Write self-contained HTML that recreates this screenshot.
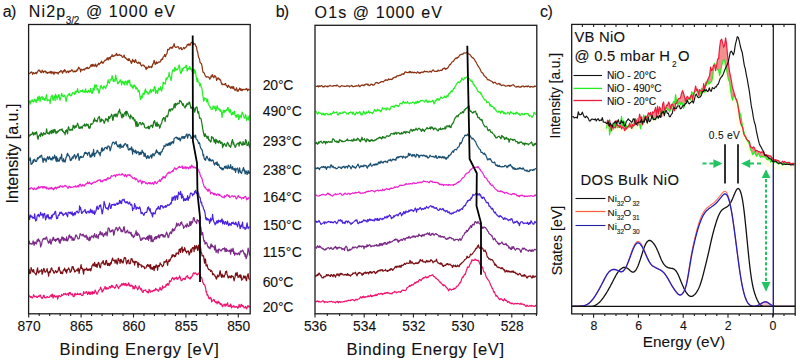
<!DOCTYPE html><html><head><meta charset="utf-8"><style>html,body{margin:0;padding:0;background:#fff;width:800px;height:361px;overflow:hidden}svg{display:block}text{font-family:"Liberation Sans",sans-serif;fill:#111;stroke:#111;stroke-width:0.1px}</style></head><body>
<svg width="800" height="361" viewBox="0 0 800 361">
<path d="M29.1,73.3 29.6,73.6 30.1,73.2 30.6,72.3 31.1,72.3 31.6,71.8 32.1,72.6 32.6,74.3 33.1,73.3 33.6,72.6 34.1,73.4 34.6,73.7 35.1,73.5 35.6,72.4 36.1,72.7 36.6,73.7 37.1,72.0 37.6,72.1 38.1,70.6 38.6,70.5 39.1,69.9 39.6,71.2 40.1,70.8 40.6,72.2 41.1,72.7 41.6,72.7 42.1,70.2 42.6,71.0 43.1,71.9 43.6,72.5 44.1,71.1 44.6,71.5 45.1,71.1 45.6,71.1 46.1,73.0 46.6,72.1 47.1,72.4 47.6,73.4 48.1,72.4 48.6,72.4 49.1,72.6 49.6,72.7 50.1,71.4 50.6,72.0 51.1,73.7 51.6,71.5 52.1,72.9 52.6,72.8 53.1,71.9 53.6,74.2 54.1,74.1 54.6,72.0 55.1,72.2 55.6,72.8 56.1,72.3 56.6,73.0 57.1,72.5 57.6,73.0 58.1,74.1 58.6,72.4 59.1,72.4 59.6,71.7 60.1,72.0 60.6,70.7 61.1,70.7 61.6,71.1 62.1,72.4 62.6,73.3 63.1,71.2 63.6,70.6 64.1,71.8 64.6,69.7 65.1,70.2 65.6,70.8 66.1,72.4 66.6,72.7 67.1,71.7 67.6,71.2 68.1,71.0 68.6,72.7 69.1,71.5 69.6,71.0 70.1,71.5 70.6,71.1 71.1,70.9 71.6,69.8 72.1,70.3 72.6,70.1 73.1,71.7 73.6,71.9 74.1,71.3 74.6,71.6 75.1,70.8 75.6,71.7 76.1,71.1 76.6,71.3 77.1,69.5 77.6,70.2 78.1,68.5 78.6,67.2 79.1,68.3 79.6,68.2 80.1,69.2 80.6,71.8 81.1,69.9 81.6,69.2 82.1,69.6 82.6,70.1 83.1,69.6 83.6,69.2 84.1,69.9 84.6,70.0 85.1,68.4 85.6,68.6 86.1,68.7 86.6,67.5 87.1,68.2 87.6,67.3 88.1,68.7 88.6,68.5 89.1,68.2 89.6,67.3 90.1,67.2 90.6,65.2 91.1,64.9 91.6,66.3 92.1,64.3 92.6,66.2 93.1,64.4 93.6,66.0 94.1,65.1 94.6,66.2 95.1,66.0 95.6,64.0 96.1,65.8 96.6,66.8 97.1,65.7 97.6,64.8 98.1,64.4 98.6,63.2 99.1,64.7 99.6,63.6 100.1,63.5 100.6,62.6 101.1,62.1 101.6,61.1 102.1,63.1 102.6,62.5 103.1,63.2 103.6,62.5 104.1,61.2 104.6,60.8 105.1,60.2 105.6,60.3 106.1,59.8 106.6,59.5 107.1,58.1 107.6,57.8 108.1,60.1 108.6,58.6 109.1,57.4 109.6,58.0 110.1,59.3 110.6,56.9 111.1,56.8 111.6,56.2 112.1,54.6 112.6,56.3 113.1,56.3 113.6,56.2 114.1,55.3 114.6,56.0 115.1,55.2 115.6,55.2 116.1,54.1 116.6,53.4 117.1,55.7 117.6,54.9 118.1,55.3 118.6,55.2 119.1,54.8 119.6,54.5 120.1,55.6 120.6,55.3 121.1,55.3 121.6,55.6 122.1,57.0 122.6,57.3 123.1,57.2 123.6,56.3 124.1,55.1 124.6,57.0 125.1,58.1 125.6,57.7 126.1,58.3 126.6,59.0 127.1,59.5 127.6,60.0 128.1,58.9 128.6,60.6 129.1,58.7 129.6,60.1 130.1,60.5 130.6,61.3 131.1,62.8 131.6,63.3 132.1,61.0 132.6,59.4 133.1,61.3 133.6,60.5 134.1,61.2 134.6,62.5 135.1,60.8 135.6,59.5 136.1,61.5 136.6,62.4 137.1,62.7 137.6,63.3 138.1,62.8 138.6,62.1 139.1,63.2 139.6,63.1 140.1,62.5 140.6,64.6 141.1,65.2 141.6,66.1 142.1,65.2 142.6,65.2 143.1,65.0 143.6,65.1 144.1,66.3 144.6,66.0 145.1,67.1 145.6,67.7 146.1,69.7 146.6,67.2 147.1,68.4 147.6,67.9 148.1,67.7 148.6,66.0 149.1,66.2 149.6,67.4 150.1,67.1 150.6,67.0 151.1,66.5 151.6,67.6 152.1,66.8 152.6,64.0 153.1,64.0 153.6,62.5 154.1,60.3 154.6,61.9 155.1,64.4 155.6,64.2 156.1,62.6 156.6,61.9 157.1,63.5 157.6,63.1 158.1,62.6 158.6,62.1 159.1,61.8 159.6,62.2 160.1,62.0 160.6,61.4 161.1,59.5 161.6,59.9 162.1,58.6 162.6,59.4 163.1,57.1 163.6,56.8 164.1,56.4 164.6,54.5 165.1,56.3 165.6,56.6 166.1,54.4 166.6,54.2 167.1,53.3 167.6,49.4 168.1,50.1 168.6,49.8 169.1,49.5 169.6,47.9 170.1,47.6 170.6,47.3 171.1,48.4 171.6,47.8 172.1,47.0 172.6,48.1 173.1,46.3 173.6,45.6 174.1,43.7 174.6,46.3 175.1,47.0 175.6,47.4 176.1,47.5 176.6,47.0 177.1,47.0 177.6,46.6 178.1,46.6 178.6,47.0 179.1,48.8 179.6,48.9 180.1,48.4 180.6,47.7 181.1,47.4 181.6,49.6 182.1,49.6 182.6,49.2 183.1,48.6 183.6,47.4 184.1,47.8 184.6,48.8 185.1,47.8 185.6,47.3 186.1,46.9 186.6,46.8 187.1,44.7 187.6,44.9 188.1,44.1 188.6,45.2 189.1,43.9 189.6,44.4 190.1,45.4 190.6,43.9 191.1,42.6 191.6,42.7 192.1,42.5 192.6,41.3 193.1,42.3 193.6,44.5 194.1,43.7 194.6,43.9 195.1,43.8 195.6,45.9 196.1,46.2 196.6,47.3 197.1,51.1 197.6,51.6 198.1,54.7 198.6,57.4 199.1,58.1 199.6,59.5 200.1,62.6 200.6,62.8 201.1,63.5 201.6,64.0 202.1,66.6 202.6,70.3 203.1,72.4 203.6,72.3 204.1,72.9 204.6,74.0 205.1,75.7 205.6,76.2 206.1,76.9 206.6,77.2 207.1,76.8 207.6,76.8 208.1,77.1 208.6,77.0 209.1,77.5 209.6,79.2 210.1,78.8 210.6,78.0 211.1,75.8 211.6,76.9 212.1,75.0 212.6,74.6 213.1,76.8 213.6,77.7 214.1,77.4 214.6,75.6 215.1,76.1 215.6,76.2 216.1,77.7 216.6,80.3 217.1,79.6 217.6,78.5 218.1,77.7 218.6,78.7 219.1,79.3 219.6,78.9 220.1,80.2 220.6,79.9 221.1,82.3 221.6,83.7 222.1,84.7 222.6,83.8 223.1,84.6 223.6,84.5 224.1,84.4 224.6,84.6 225.1,83.8 225.6,83.4 226.1,85.6 226.6,85.7 227.1,86.3 227.6,87.5 228.1,85.3 228.6,85.3 229.1,86.4 229.6,87.2 230.1,86.9 230.6,88.3 231.1,88.2 231.6,86.8 232.1,86.4 232.6,88.1 233.1,88.7 233.6,86.6 234.1,88.9 234.6,89.4 235.1,90.5 235.6,89.3 236.1,88.8 236.6,87.8 237.1,91.1 237.6,90.1 238.1,91.4 238.6,89.8 239.1,89.9 239.6,88.1 240.1,88.6 240.6,90.2 241.1,88.8 241.6,90.5 242.1,90.7 242.6,89.4 243.1,89.3 243.6,89.3 244.1,89.8 244.6,89.5 245.1,89.1 245.6,89.5 246.1,89.0 246.6,88.4 247.1,89.4 247.6,90.9 248.1,89.2 248.6,89.9 249.1,89.6 249.6,89.1" fill="none" stroke="#8a3212" stroke-width="1.2" stroke-linejoin="round"/>
<path d="M29.1,102.9 29.6,101.0 30.1,104.1 30.6,101.1 31.1,101.9 31.6,101.1 32.1,99.6 32.6,101.5 33.1,101.0 33.6,102.2 34.1,101.5 34.6,99.1 35.1,99.8 35.6,100.5 36.1,102.6 36.6,99.9 37.1,100.3 37.6,97.2 38.1,100.3 38.6,98.4 39.1,96.0 39.6,98.2 40.1,101.6 40.6,98.1 41.1,97.1 41.6,97.3 42.1,96.6 42.6,99.3 43.1,98.2 43.6,97.8 44.1,100.2 44.6,98.7 45.1,100.3 45.6,98.3 46.1,96.7 46.6,94.7 47.1,101.0 47.6,99.8 48.1,100.3 48.6,100.0 49.1,100.1 49.6,100.0 50.1,103.6 50.6,99.5 51.1,96.4 51.6,95.9 52.1,95.0 52.6,98.6 53.1,100.5 53.6,98.0 54.1,95.8 54.6,96.7 55.1,100.6 55.6,94.2 56.1,97.5 56.6,96.0 57.1,99.4 57.6,96.8 58.1,97.1 58.6,94.8 59.1,94.6 59.6,99.1 60.1,100.2 60.6,98.3 61.1,96.4 61.6,93.3 62.1,94.7 62.6,96.1 63.1,96.6 63.6,96.8 64.1,94.8 64.6,95.8 65.1,96.3 65.6,99.1 66.1,101.6 66.6,98.8 67.1,96.1 67.6,96.1 68.1,95.0 68.6,94.1 69.1,94.9 69.6,93.3 70.1,95.7 70.6,95.4 71.1,95.9 71.6,95.2 72.1,93.8 72.6,92.5 73.1,93.2 73.6,92.9 74.1,94.2 74.6,94.4 75.1,91.7 75.6,93.1 76.1,90.9 76.6,91.2 77.1,92.0 77.6,88.7 78.1,91.3 78.6,92.7 79.1,92.7 79.6,92.1 80.1,91.8 80.6,90.5 81.1,91.1 81.6,90.8 82.1,91.9 82.6,89.8 83.1,91.5 83.6,92.2 84.1,91.9 84.6,91.1 85.1,92.6 85.6,88.9 86.1,91.2 86.6,91.8 87.1,92.2 87.6,92.5 88.1,90.6 88.6,90.3 89.1,91.9 89.6,92.2 90.1,91.9 90.6,88.3 91.1,90.5 91.6,92.8 92.1,93.5 92.6,92.3 93.1,88.1 93.6,90.9 94.1,90.0 94.6,84.8 95.1,87.9 95.6,85.7 96.1,84.9 96.6,85.8 97.1,89.9 97.6,88.6 98.1,89.2 98.6,92.3 99.1,93.5 99.6,90.6 100.1,88.9 100.6,85.9 101.1,85.4 101.6,87.2 102.1,88.0 102.6,87.6 103.1,89.1 103.6,86.2 104.1,86.0 104.6,87.3 105.1,87.5 105.6,88.4 106.1,87.4 106.6,85.3 107.1,85.4 107.6,82.7 108.1,79.8 108.6,82.7 109.1,82.7 109.6,83.2 110.1,79.4 110.6,80.0 111.1,79.7 111.6,78.8 112.1,75.6 112.6,77.6 113.1,80.9 113.6,81.5 114.1,79.7 114.6,79.9 115.1,81.4 115.6,75.2 116.1,77.2 116.6,79.5 117.1,80.9 117.6,83.6 118.1,83.8 118.6,82.3 119.1,81.6 119.6,82.2 120.1,79.9 120.6,79.8 121.1,81.7 121.6,84.8 122.1,82.3 122.6,81.3 123.1,81.4 123.6,83.8 124.1,82.4 124.6,84.8 125.1,81.3 125.6,81.2 126.1,81.3 126.6,83.4 127.1,85.1 127.6,81.0 128.1,80.3 128.6,82.6 129.1,81.9 129.6,80.0 130.1,84.3 130.6,85.5 131.1,86.3 131.6,84.9 132.1,87.4 132.6,86.2 133.1,88.5 133.6,85.8 134.1,84.7 134.6,86.4 135.1,85.7 135.6,88.3 136.1,89.1 136.6,87.4 137.1,88.8 137.6,88.9 138.1,91.8 138.6,90.5 139.1,90.4 139.6,93.9 140.1,97.9 140.6,99.6 141.1,96.8 141.6,95.8 142.1,98.0 142.6,95.8 143.1,93.0 143.6,93.7 144.1,94.7 144.6,92.6 145.1,89.9 145.6,89.0 146.1,92.6 146.6,91.5 147.1,92.1 147.6,93.0 148.1,94.2 148.6,92.8 149.1,93.7 149.6,91.2 150.1,91.0 150.6,89.4 151.1,92.8 151.6,92.0 152.1,90.1 152.6,89.8 153.1,89.8 153.6,91.4 154.1,87.6 154.6,86.6 155.1,87.3 155.6,93.3 156.1,93.0 156.6,90.6 157.1,90.8 157.6,93.5 158.1,90.1 158.6,88.0 159.1,90.0 159.6,89.4 160.1,89.3 160.6,86.7 161.1,90.0 161.6,91.1 162.1,89.1 162.6,88.1 163.1,82.0 163.6,84.0 164.1,83.0 164.6,83.5 165.1,84.0 165.6,81.9 166.1,77.9 166.6,79.7 167.1,78.1 167.6,77.8 168.1,76.8 168.6,76.6 169.1,72.3 169.6,76.8 170.1,76.9 170.6,78.4 171.1,80.6 171.6,77.5 172.1,72.2 172.6,71.1 173.1,69.7 173.6,70.2 174.1,71.4 174.6,67.7 175.1,70.3 175.6,67.8 176.1,69.9 176.6,70.0 177.1,69.4 177.6,69.4 178.1,68.3 178.6,67.5 179.1,64.8 179.6,66.5 180.1,71.0 180.6,73.4 181.1,73.2 181.6,71.8 182.1,68.4 182.6,70.8 183.1,69.1 183.6,68.2 184.1,67.3 184.6,67.7 185.1,66.8 185.6,67.1 186.1,65.2 186.6,65.7 187.1,71.2 187.6,69.4 188.1,68.1 188.6,69.0 189.1,69.8 189.6,66.7 190.1,66.9 190.6,69.3 191.1,69.2 191.6,68.9 192.1,71.7 192.6,69.0 193.1,69.6 193.6,69.2 194.1,73.6 194.6,69.6 195.1,70.8 195.6,72.4 196.1,76.2 196.6,78.7 197.1,82.0 197.6,78.4 198.1,81.8 198.6,82.2 199.1,82.5 199.6,85.8 200.1,85.4 200.6,83.7 201.1,87.1 201.6,87.3 202.1,89.9 202.6,94.0 203.1,96.6 203.6,101.1 204.1,100.4 204.6,97.9 205.1,98.5 205.6,98.9 206.1,98.6 206.6,101.9 207.1,101.7 207.6,99.1 208.1,103.3 208.6,104.0 209.1,105.5 209.6,105.9 210.1,107.3 210.6,107.0 211.1,109.4 211.6,109.2 212.1,109.1 212.6,109.3 213.1,105.8 213.6,106.8 214.1,107.2 214.6,108.5 215.1,106.2 215.6,111.0 216.1,110.6 216.6,107.8 217.1,105.6 217.6,107.4 218.1,108.8 218.6,108.3 219.1,109.8 219.6,109.1 220.1,111.3 220.6,109.9 221.1,110.6 221.6,113.1 222.1,117.5 222.6,112.8 223.1,111.5 223.6,110.2 224.1,112.8 224.6,110.4 225.1,110.5 225.6,111.5 226.1,110.2 226.6,109.6 227.1,110.4 227.6,107.6 228.1,107.5 228.6,109.6 229.1,111.8 229.6,112.2 230.1,109.4 230.6,110.6 231.1,113.7 231.6,114.9 232.1,114.2 232.6,112.4 233.1,114.5 233.6,113.2 234.1,111.4 234.6,111.3 235.1,115.7 235.6,115.5 236.1,117.3 236.6,115.0 237.1,116.7 237.6,114.6 238.1,114.4 238.6,119.6 239.1,118.8 239.6,115.9 240.1,115.3 240.6,115.9 241.1,117.9 241.6,115.6 242.1,112.0 242.6,113.1 243.1,114.3 243.6,115.1 244.1,117.9 244.6,117.3 245.1,118.0 245.6,114.6 246.1,116.8 246.6,120.3 247.1,119.5 247.6,118.0 248.1,117.1 248.6,119.9 249.1,115.9 249.6,115.5" fill="none" stroke="#22ee22" stroke-width="1.2" stroke-linejoin="round"/>
<path d="M29.1,135.3 29.6,136.1 30.1,134.5 30.6,135.0 31.1,134.2 31.6,134.4 32.1,134.1 32.6,132.2 33.1,133.1 33.6,135.1 34.1,132.9 34.6,133.0 35.1,134.6 35.6,132.4 36.1,133.4 36.6,131.8 37.1,134.7 37.6,138.1 38.1,139.3 38.6,136.1 39.1,136.0 39.6,134.9 40.1,134.3 40.6,136.5 41.1,132.6 41.6,134.7 42.1,133.8 42.6,135.9 43.1,134.8 43.6,132.7 44.1,133.3 44.6,134.3 45.1,133.6 45.6,134.0 46.1,132.4 46.6,128.8 47.1,132.2 47.6,133.5 48.1,133.2 48.6,132.8 49.1,134.3 49.6,132.4 50.1,131.0 50.6,131.2 51.1,133.6 51.6,130.3 52.1,133.1 52.6,131.3 53.1,129.6 53.6,132.7 54.1,131.9 54.6,129.4 55.1,129.8 55.6,132.1 56.1,133.7 56.6,131.7 57.1,132.0 57.6,132.7 58.1,130.7 58.6,131.3 59.1,130.9 59.6,129.8 60.1,129.3 60.6,130.0 61.1,130.2 61.6,129.2 62.1,128.9 62.6,131.4 63.1,131.0 63.6,131.9 64.1,132.9 64.6,132.3 65.1,134.8 65.6,130.7 66.1,131.4 66.6,129.8 67.1,132.6 67.6,133.8 68.1,128.0 68.6,126.7 69.1,128.9 69.6,130.1 70.1,130.6 70.6,129.4 71.1,129.6 71.6,130.0 72.1,128.9 72.6,130.2 73.1,125.2 73.6,127.5 74.1,125.8 74.6,128.3 75.1,127.5 75.6,125.9 76.1,127.2 76.6,125.6 77.1,124.7 77.6,123.1 78.1,124.9 78.6,126.6 79.1,128.3 79.6,127.1 80.1,128.5 80.6,127.4 81.1,126.6 81.6,127.3 82.1,128.4 82.6,126.5 83.1,125.7 83.6,125.3 84.1,125.5 84.6,123.9 85.1,126.3 85.6,125.0 86.1,125.8 86.6,123.9 87.1,124.9 87.6,125.4 88.1,124.2 88.6,127.8 89.1,126.6 89.6,128.4 90.1,127.9 90.6,124.7 91.1,123.6 91.6,124.4 92.1,124.0 92.6,123.8 93.1,123.0 93.6,120.0 94.1,121.1 94.6,118.2 95.1,121.1 95.6,120.6 96.1,120.3 96.6,120.9 97.1,122.0 97.6,119.6 98.1,117.8 98.6,118.0 99.1,116.3 99.6,117.3 100.1,122.0 100.6,119.8 101.1,121.6 101.6,118.9 102.1,120.3 102.6,119.9 103.1,120.0 103.6,121.0 104.1,123.5 104.6,122.0 105.1,121.0 105.6,118.5 106.1,119.8 106.6,118.9 107.1,120.2 107.6,119.3 108.1,121.8 108.6,116.5 109.1,116.7 109.6,118.7 110.1,117.4 110.6,116.0 111.1,116.0 111.6,114.1 112.1,115.5 112.6,120.2 113.1,120.2 113.6,116.2 114.1,114.5 114.6,114.4 115.1,116.7 115.6,114.6 116.1,113.7 116.6,115.9 117.1,116.9 117.6,115.2 118.1,113.0 118.6,111.2 119.1,111.6 119.6,109.2 120.1,113.1 120.6,112.6 121.1,114.2 121.6,117.4 122.1,117.8 122.6,114.0 123.1,115.6 123.6,116.9 124.1,114.4 124.6,112.8 125.1,113.5 125.6,111.5 126.1,115.8 126.6,111.4 127.1,111.6 127.6,113.3 128.1,114.3 128.6,115.7 129.1,116.7 129.6,116.6 130.1,119.0 130.6,114.8 131.1,116.5 131.6,116.3 132.1,117.8 132.6,118.9 133.1,117.7 133.6,117.7 134.1,120.3 134.6,121.0 135.1,119.7 135.6,123.9 136.1,126.6 136.6,121.6 137.1,122.2 137.6,126.5 138.1,125.9 138.6,124.7 139.1,123.6 139.6,122.6 140.1,122.9 140.6,122.6 141.1,124.8 141.6,124.2 142.1,123.9 142.6,122.6 143.1,124.1 143.6,123.5 144.1,124.6 144.6,127.3 145.1,127.6 145.6,128.1 146.1,128.2 146.6,127.8 147.1,127.3 147.6,126.8 148.1,128.4 148.6,126.0 149.1,128.9 149.6,128.1 150.1,126.3 150.6,125.8 151.1,125.2 151.6,126.2 152.1,125.2 152.6,127.7 153.1,125.6 153.6,121.9 154.1,122.5 154.6,120.5 155.1,122.8 155.6,125.7 156.1,126.3 156.6,123.0 157.1,122.2 157.6,126.1 158.1,125.3 158.6,124.3 159.1,125.4 159.6,128.2 160.1,127.5 160.6,125.0 161.1,123.9 161.6,123.5 162.1,121.0 162.6,118.8 163.1,119.3 163.6,117.5 164.1,117.9 164.6,118.0 165.1,121.6 165.6,117.7 166.1,116.6 166.6,115.7 167.1,116.0 167.6,116.9 168.1,114.4 168.6,112.2 169.1,109.5 169.6,109.1 170.1,111.1 170.6,111.0 171.1,108.9 171.6,108.8 172.1,109.2 172.6,110.0 173.1,108.3 173.6,107.7 174.1,104.6 174.6,103.9 175.1,108.0 175.6,103.4 176.1,104.0 176.6,105.0 177.1,104.3 177.6,103.1 178.1,103.6 178.6,103.7 179.1,103.6 179.6,100.3 180.1,101.6 180.6,101.0 181.1,101.2 181.6,102.6 182.1,104.1 182.6,105.3 183.1,103.5 183.6,105.2 184.1,106.5 184.6,107.2 185.1,108.0 185.6,105.9 186.1,104.9 186.6,106.2 187.1,103.2 187.6,104.5 188.1,104.0 188.6,104.2 189.1,102.0 189.6,102.5 190.1,104.4 190.6,107.0 191.1,108.6 191.6,107.6 192.1,107.2 192.6,106.0 193.1,107.6 193.6,107.5 194.1,109.1 194.6,112.1 195.1,110.8 195.6,107.8 196.1,107.7 196.6,106.9 197.1,107.2 197.6,112.1 198.1,113.3 198.6,111.5 199.1,115.0 199.6,118.4 200.1,118.0 200.6,118.0 201.1,119.2 201.6,121.8 202.1,124.7 202.6,128.1 203.1,131.0 203.6,133.3 204.1,135.7 204.6,136.5 205.1,133.7 205.6,135.1 206.1,136.6 206.6,136.2 207.1,138.4 207.6,137.4 208.1,136.2 208.6,139.7 209.1,140.3 209.6,140.0 210.1,141.2 210.6,142.1 211.1,141.5 211.6,136.5 212.1,137.1 212.6,138.0 213.1,137.6 213.6,139.5 214.1,142.2 214.6,140.8 215.1,139.1 215.6,143.7 216.1,141.9 216.6,139.7 217.1,141.2 217.6,142.3 218.1,141.0 218.6,142.9 219.1,141.8 219.6,140.5 220.1,141.8 220.6,143.5 221.1,142.0 221.6,142.9 222.1,142.7 222.6,147.6 223.1,144.0 223.6,145.9 224.1,144.3 224.6,143.5 225.1,144.5 225.6,145.3 226.1,146.4 226.6,145.3 227.1,143.2 227.6,142.3 228.1,143.6 228.6,144.4 229.1,146.2 229.6,145.5 230.1,146.2 230.6,147.4 231.1,145.6 231.6,141.9 232.1,140.6 232.6,139.5 233.1,144.2 233.6,142.4 234.1,145.0 234.6,145.2 235.1,147.3 235.6,147.1 236.1,145.1 236.6,144.0 237.1,143.9 237.6,144.0 238.1,142.9 238.6,143.2 239.1,146.1 239.6,142.0 240.1,143.2 240.6,141.9 241.1,143.1 241.6,144.8 242.1,144.1 242.6,145.2 243.1,141.7 243.6,144.6 244.1,143.1 244.6,144.5 245.1,144.4 245.6,139.6 246.1,140.3 246.6,142.4 247.1,145.7 247.6,145.2 248.1,144.9 248.6,141.9 249.1,145.2 249.6,147.6" fill="none" stroke="#1a7a1a" stroke-width="1.2" stroke-linejoin="round"/>
<path d="M29.1,160.4 29.6,160.1 30.1,157.7 30.6,160.4 31.1,164.5 31.6,163.5 32.1,163.8 32.6,162.8 33.1,160.0 33.6,162.1 34.1,159.3 34.6,159.4 35.1,160.2 35.6,161.5 36.1,161.4 36.6,161.3 37.1,159.5 37.6,157.7 38.1,158.9 38.6,158.3 39.1,157.1 39.6,156.5 40.1,157.4 40.6,155.8 41.1,155.7 41.6,155.2 42.1,157.7 42.6,159.3 43.1,162.5 43.6,158.8 44.1,158.1 44.6,160.2 45.1,159.5 45.6,159.0 46.1,161.8 46.6,160.1 47.1,157.9 47.6,156.6 48.1,158.5 48.6,159.3 49.1,157.2 49.6,156.7 50.1,158.7 50.6,159.8 51.1,158.4 51.6,159.7 52.1,160.2 52.6,156.9 53.1,157.4 53.6,158.8 54.1,157.9 54.6,155.1 55.1,156.5 55.6,158.8 56.1,161.1 56.6,156.5 57.1,161.6 57.6,158.3 58.1,159.9 58.6,161.1 59.1,161.3 59.6,160.1 60.1,157.4 60.6,158.8 61.1,157.5 61.6,154.0 62.1,160.4 62.6,160.4 63.1,162.0 63.6,158.7 64.1,160.6 64.6,161.7 65.1,162.2 65.6,160.0 66.1,157.1 66.6,157.2 67.1,154.1 67.6,153.3 68.1,155.6 68.6,155.1 69.1,156.1 69.6,156.6 70.1,160.0 70.6,160.7 71.1,159.0 71.6,160.0 72.1,157.4 72.6,156.8 73.1,158.4 73.6,155.8 74.1,156.0 74.6,154.5 75.1,155.9 75.6,158.9 76.1,156.7 76.6,157.1 77.1,155.5 77.6,154.3 78.1,153.5 78.6,157.2 79.1,160.4 79.6,159.1 80.1,156.6 80.6,157.5 81.1,156.3 81.6,157.4 82.1,157.1 82.6,157.0 83.1,157.3 83.6,155.6 84.1,155.0 84.6,152.7 85.1,153.4 85.6,152.2 86.1,153.5 86.6,152.9 87.1,154.1 87.6,155.3 88.1,152.9 88.6,152.6 89.1,152.2 89.6,154.5 90.1,157.1 90.6,157.0 91.1,155.0 91.6,156.8 92.1,153.0 92.6,155.7 93.1,153.7 93.6,149.3 94.1,155.4 94.6,156.7 95.1,153.3 95.6,153.4 96.1,152.8 96.6,152.9 97.1,150.4 97.6,150.3 98.1,152.0 98.6,152.3 99.1,153.9 99.6,152.9 100.1,155.8 100.6,152.5 101.1,152.2 101.6,148.6 102.1,147.7 102.6,151.1 103.1,149.1 103.6,150.3 104.1,149.8 104.6,147.9 105.1,147.9 105.6,147.5 106.1,147.1 106.6,148.7 107.1,149.2 107.6,147.4 108.1,145.8 108.6,146.7 109.1,146.4 109.6,147.8 110.1,150.9 110.6,149.5 111.1,147.3 111.6,145.9 112.1,144.0 112.6,142.8 113.1,142.0 113.6,142.4 114.1,142.5 114.6,144.2 115.1,143.2 115.6,143.0 116.1,141.3 116.6,144.7 117.1,144.7 117.6,146.6 118.1,146.1 118.6,146.9 119.1,144.6 119.6,145.0 120.1,148.3 120.6,144.0 121.1,145.6 121.6,147.3 122.1,146.3 122.6,146.4 123.1,147.4 123.6,145.0 124.1,145.6 124.6,144.0 125.1,143.7 125.6,143.7 126.1,144.6 126.6,145.7 127.1,146.8 127.6,144.6 128.1,149.0 128.6,150.1 129.1,150.1 129.6,148.5 130.1,148.3 130.6,149.4 131.1,149.8 131.6,146.9 132.1,149.4 132.6,154.1 133.1,149.2 133.6,151.3 134.1,151.4 134.6,150.9 135.1,153.0 135.6,150.2 136.1,151.1 136.6,153.6 137.1,152.5 137.6,151.7 138.1,152.2 138.6,151.8 139.1,154.8 139.6,152.6 140.1,154.4 140.6,152.1 141.1,154.1 141.6,154.0 142.1,150.2 142.6,152.4 143.1,152.0 143.6,152.8 144.1,156.5 144.6,154.2 145.1,153.2 145.6,156.7 146.1,156.5 146.6,158.6 147.1,157.8 147.6,155.5 148.1,155.7 148.6,157.8 149.1,158.4 149.6,157.1 150.1,156.5 150.6,155.9 151.1,154.8 151.6,158.1 152.1,156.7 152.6,154.0 153.1,153.6 153.6,155.2 154.1,155.8 154.6,154.7 155.1,153.2 155.6,153.4 156.1,150.7 156.6,149.8 157.1,152.5 157.6,151.7 158.1,152.5 158.6,154.1 159.1,153.8 159.6,152.6 160.1,155.2 160.6,154.0 161.1,151.7 161.6,152.1 162.1,151.6 162.6,149.2 163.1,149.2 163.6,148.7 164.1,145.4 164.6,146.4 165.1,146.5 165.6,146.1 166.1,143.8 166.6,144.5 167.1,145.1 167.6,145.5 168.1,143.5 168.6,145.1 169.1,142.8 169.6,143.0 170.1,145.3 170.6,143.1 171.1,142.1 171.6,144.0 172.1,142.4 172.6,141.6 173.1,141.9 173.6,143.2 174.1,138.6 174.6,138.3 175.1,137.8 175.6,137.3 176.1,137.3 176.6,137.2 177.1,138.9 177.6,137.7 178.1,138.6 178.6,139.4 179.1,137.9 179.6,138.5 180.1,141.0 180.6,140.1 181.1,138.1 181.6,137.9 182.1,136.3 182.6,137.3 183.1,138.7 183.6,136.6 184.1,136.5 184.6,138.3 185.1,136.7 185.6,136.8 186.1,134.9 186.6,134.1 187.1,134.2 187.6,138.2 188.1,136.2 188.6,134.9 189.1,134.2 189.6,134.4 190.1,135.7 190.6,135.6 191.1,138.5 191.6,137.1 192.1,138.3 192.6,137.4 193.1,137.7 193.6,134.9 194.1,135.9 194.6,136.8 195.1,137.4 195.6,135.1 196.1,139.0 196.6,139.4 197.1,139.8 197.6,140.7 198.1,141.6 198.6,143.6 199.1,142.6 199.6,143.2 200.1,146.1 200.6,147.9 201.1,148.7 201.6,149.4 202.1,150.0 202.6,152.2 203.1,155.7 203.6,154.6 204.1,158.4 204.6,159.7 205.1,158.7 205.6,160.3 206.1,157.9 206.6,156.3 207.1,156.4 207.6,158.0 208.1,159.1 208.6,159.5 209.1,160.8 209.6,158.1 210.1,161.0 210.6,159.6 211.1,160.2 211.6,161.0 212.1,160.4 212.6,159.9 213.1,160.3 213.6,162.1 214.1,164.1 214.6,165.1 215.1,163.3 215.6,162.8 216.1,162.5 216.6,164.5 217.1,161.8 217.6,165.5 218.1,164.8 218.6,164.1 219.1,165.5 219.6,167.4 220.1,167.3 220.6,168.4 221.1,167.6 221.6,169.0 222.1,169.8 222.6,168.2 223.1,169.8 223.6,168.7 224.1,168.1 224.6,166.3 225.1,166.4 225.6,168.2 226.1,165.9 226.6,167.8 227.1,168.4 227.6,168.6 228.1,165.0 228.6,166.5 229.1,168.4 229.6,167.3 230.1,168.1 230.6,164.7 231.1,167.8 231.6,167.3 232.1,169.5 232.6,166.5 233.1,168.9 233.6,168.8 234.1,170.3 234.6,168.5 235.1,168.1 235.6,172.4 236.1,169.8 236.6,168.8 237.1,169.0 237.6,168.0 238.1,170.9 238.6,173.2 239.1,170.7 239.6,167.9 240.1,171.0 240.6,172.5 241.1,172.8 241.6,173.5 242.1,170.8 242.6,170.6 243.1,168.6 243.6,167.6 244.1,170.8 244.6,169.9 245.1,174.0 245.6,172.7 246.1,170.9 246.6,172.3 247.1,174.5 247.6,173.6 248.1,170.6 248.6,171.5 249.1,173.5 249.6,171.7" fill="none" stroke="#1b4f72" stroke-width="1.2" stroke-linejoin="round"/>
<path d="M29.1,188.0 29.6,189.1 30.1,189.0 30.6,187.9 31.1,187.9 31.6,187.7 32.1,188.3 32.6,188.5 33.1,189.4 33.6,189.6 34.1,187.8 34.6,188.5 35.1,189.2 35.6,189.2 36.1,189.6 36.6,188.6 37.1,187.8 37.6,188.8 38.1,187.8 38.6,186.4 39.1,188.2 39.6,187.7 40.1,187.8 40.6,186.9 41.1,186.6 41.6,186.5 42.1,187.1 42.6,188.0 43.1,186.3 43.6,187.8 44.1,187.1 44.6,186.7 45.1,188.0 45.6,188.0 46.1,186.8 46.6,188.9 47.1,187.8 47.6,188.1 48.1,188.2 48.6,189.2 49.1,188.2 49.6,188.8 50.1,187.8 50.6,188.7 51.1,187.7 51.6,187.4 52.1,189.1 52.6,188.7 53.1,188.3 53.6,189.8 54.1,189.0 54.6,187.7 55.1,188.2 55.6,187.0 56.1,188.1 56.6,188.8 57.1,187.7 57.6,187.1 58.1,187.4 58.6,187.4 59.1,186.6 59.6,187.4 60.1,185.7 60.6,186.1 61.1,186.3 61.6,186.5 62.1,187.1 62.6,186.1 63.1,187.0 63.6,186.9 64.1,186.4 64.6,185.5 65.1,185.3 65.6,186.3 66.1,185.8 66.6,186.3 67.1,187.3 67.6,187.8 68.1,188.4 68.6,187.2 69.1,186.0 69.6,187.0 70.1,186.9 70.6,187.5 71.1,186.9 71.6,187.5 72.1,187.5 72.6,187.3 73.1,187.1 73.6,186.8 74.1,186.5 74.6,186.3 75.1,186.8 75.6,185.9 76.1,187.1 76.6,186.3 77.1,186.7 77.6,186.0 78.1,185.5 78.6,187.0 79.1,185.9 79.6,184.5 80.1,184.2 80.6,184.4 81.1,186.4 81.6,185.8 82.1,186.0 82.6,184.6 83.1,184.9 83.6,185.2 84.1,186.3 84.6,184.8 85.1,185.0 85.6,184.8 86.1,183.6 86.6,183.7 87.1,183.6 87.6,181.8 88.1,183.1 88.6,183.7 89.1,183.1 89.6,182.1 90.1,183.7 90.6,183.5 91.1,183.9 91.6,184.4 92.1,183.0 92.6,183.3 93.1,182.6 93.6,182.2 94.1,182.0 94.6,181.9 95.1,182.6 95.6,182.2 96.1,181.6 96.6,181.2 97.1,181.4 97.6,180.5 98.1,180.2 98.6,180.4 99.1,180.0 99.6,180.1 100.1,179.7 100.6,181.5 101.1,181.8 101.6,181.2 102.1,180.4 102.6,181.7 103.1,180.8 103.6,180.0 104.1,179.8 104.6,179.6 105.1,180.3 105.6,179.5 106.1,180.6 106.6,178.8 107.1,179.0 107.6,177.7 108.1,179.2 108.6,178.2 109.1,177.8 109.6,178.3 110.1,178.7 110.6,177.0 111.1,176.6 111.6,175.6 112.1,176.2 112.6,176.2 113.1,175.9 113.6,175.5 114.1,175.4 114.6,175.1 115.1,175.8 115.6,176.9 116.1,174.7 116.6,175.0 117.1,174.8 117.6,175.4 118.1,174.5 118.6,174.7 119.1,174.0 119.6,175.0 120.1,175.0 120.6,174.8 121.1,175.1 121.6,174.8 122.1,173.5 122.6,174.6 123.1,175.0 123.6,174.8 124.1,175.6 124.6,176.3 125.1,174.8 125.6,174.4 126.1,176.1 126.6,176.9 127.1,175.7 127.6,174.8 128.1,174.9 128.6,175.2 129.1,174.5 129.6,175.6 130.1,175.2 130.6,175.1 131.1,176.9 131.6,176.6 132.1,177.0 132.6,177.9 133.1,178.6 133.6,178.1 134.1,178.2 134.6,177.7 135.1,179.6 135.6,179.8 136.1,178.6 136.6,179.0 137.1,179.9 137.6,180.3 138.1,181.7 138.6,182.1 139.1,181.0 139.6,180.9 140.1,180.1 140.6,181.0 141.1,181.5 141.6,183.9 142.1,183.2 142.6,181.2 143.1,181.5 143.6,182.3 144.1,181.7 144.6,181.9 145.1,182.4 145.6,183.3 146.1,183.4 146.6,183.0 147.1,184.1 147.6,183.6 148.1,183.4 148.6,182.6 149.1,182.7 149.6,183.8 150.1,182.6 150.6,183.1 151.1,184.0 151.6,183.5 152.1,183.6 152.6,182.6 153.1,183.9 153.6,184.3 154.1,183.7 154.6,181.8 155.1,181.3 155.6,182.5 156.1,183.6 156.6,183.0 157.1,183.3 157.6,181.8 158.1,181.3 158.6,181.1 159.1,181.3 159.6,179.7 160.1,180.7 160.6,181.4 161.1,179.7 161.6,178.4 162.1,179.0 162.6,178.2 163.1,176.3 163.6,177.6 164.1,177.5 164.6,176.7 165.1,178.1 165.6,177.0 166.1,175.5 166.6,175.1 167.1,173.8 167.6,173.1 168.1,173.4 168.6,172.6 169.1,172.0 169.6,173.2 170.1,172.9 170.6,172.5 171.1,171.9 171.6,171.4 172.1,171.7 172.6,170.6 173.1,171.4 173.6,169.5 174.1,169.0 174.6,167.8 175.1,168.0 175.6,168.7 176.1,169.8 176.6,168.6 177.1,168.5 177.6,168.1 178.1,167.5 178.6,166.9 179.1,167.5 179.6,166.3 180.1,167.2 180.6,167.5 181.1,167.1 181.6,166.6 182.1,166.0 182.6,168.3 183.1,166.9 183.6,168.4 184.1,168.4 184.6,167.6 185.1,166.6 185.6,167.8 186.1,168.9 186.6,167.3 187.1,167.0 187.6,167.9 188.1,167.7 188.6,169.0 189.1,167.5 189.6,167.7 190.1,166.3 190.6,168.2 191.1,167.0 191.6,165.1 192.1,165.9 192.6,166.2 193.1,168.0 193.6,167.1 194.1,166.9 194.6,167.3 195.1,168.2 195.6,167.4 196.1,167.9 196.6,167.9 197.1,167.7 197.6,168.4 198.1,169.4 198.6,169.8 199.1,172.3 199.6,172.1 200.1,174.7 200.6,176.3 201.1,176.9 201.6,177.5 202.1,179.0 202.6,181.1 203.1,183.2 203.6,184.6 204.1,186.5 204.6,186.8 205.1,188.0 205.6,187.4 206.1,189.1 206.6,189.6 207.1,189.5 207.6,190.9 208.1,191.4 208.6,189.0 209.1,190.2 209.6,189.8 210.1,191.7 210.6,193.9 211.1,192.7 211.6,192.7 212.1,192.6 212.6,193.1 213.1,193.7 213.6,194.6 214.1,193.3 214.6,194.8 215.1,193.7 215.6,194.1 216.1,195.1 216.6,195.4 217.1,194.2 217.6,193.9 218.1,194.0 218.6,194.5 219.1,195.7 219.6,194.4 220.1,195.3 220.6,195.8 221.1,196.1 221.6,196.2 222.1,197.2 222.6,196.9 223.1,197.1 223.6,197.0 224.1,197.9 224.6,195.5 225.1,196.9 225.6,196.4 226.1,196.1 226.6,195.5 227.1,194.5 227.6,195.2 228.1,195.4 228.6,196.4 229.1,195.4 229.6,197.3 230.1,197.3 230.6,196.9 231.1,196.4 231.6,196.1 232.1,195.7 232.6,196.0 233.1,196.7 233.6,196.8 234.1,196.0 234.6,196.5 235.1,196.3 235.6,197.0 236.1,198.8 236.6,198.7 237.1,198.0 237.6,196.6 238.1,196.0 238.6,195.6 239.1,197.3 239.6,197.0 240.1,197.5 240.6,197.3 241.1,197.7 241.6,199.0 242.1,198.0 242.6,197.8 243.1,197.3 243.6,198.4 244.1,197.5 244.6,197.0 245.1,196.5 245.6,196.3 246.1,197.6 246.6,200.0 247.1,198.4 247.6,199.1 248.1,198.9 248.6,197.7 249.1,197.8 249.6,197.9" fill="none" stroke="#ee22cc" stroke-width="1.2" stroke-linejoin="round"/>
<path d="M29.1,215.6 29.6,219.5 30.1,214.8 30.6,216.4 31.1,217.1 31.6,215.9 32.1,216.5 32.6,218.1 33.1,217.6 33.6,217.8 34.1,218.3 34.6,213.9 35.1,217.7 35.6,221.0 36.1,220.4 36.6,220.1 37.1,215.8 37.6,215.8 38.1,214.6 38.6,214.4 39.1,217.0 39.6,215.2 40.1,215.4 40.6,212.4 41.1,214.0 41.6,215.1 42.1,214.3 42.6,213.9 43.1,218.1 43.6,214.9 44.1,213.6 44.6,213.3 45.1,216.6 45.6,219.8 46.1,218.3 46.6,215.7 47.1,214.9 47.6,217.1 48.1,214.7 48.6,217.6 49.1,219.0 49.6,217.3 50.1,217.4 50.6,217.7 51.1,219.2 51.6,215.4 52.1,217.3 52.6,215.6 53.1,214.0 53.6,214.7 54.1,214.5 54.6,213.1 55.1,211.3 55.6,211.5 56.1,215.7 56.6,218.6 57.1,217.8 57.6,218.3 58.1,215.6 58.6,215.0 59.1,215.3 59.6,213.1 60.1,212.1 60.6,213.5 61.1,213.4 61.6,212.1 62.1,213.9 62.6,213.6 63.1,215.7 63.6,215.0 64.1,214.1 64.6,214.3 65.1,213.9 65.6,212.8 66.1,212.7 66.6,214.6 67.1,215.4 67.6,216.8 68.1,212.4 68.6,212.4 69.1,212.3 69.6,213.3 70.1,212.7 70.6,212.2 71.1,214.2 71.6,214.1 72.1,211.8 72.6,214.8 73.1,215.8 73.6,213.5 74.1,214.8 74.6,212.7 75.1,214.8 75.6,213.5 76.1,211.9 76.6,211.7 77.1,211.0 77.6,212.2 78.1,212.8 78.6,212.8 79.1,211.7 79.6,205.8 80.1,209.3 80.6,207.6 81.1,210.4 81.6,213.3 82.1,213.2 82.6,212.0 83.1,211.7 83.6,211.6 84.1,210.8 84.6,210.3 85.1,209.4 85.6,212.6 86.1,212.0 86.6,213.4 87.1,212.0 87.6,211.7 88.1,211.2 88.6,211.9 89.1,212.9 89.6,212.3 90.1,210.4 90.6,209.2 91.1,212.7 91.6,211.1 92.1,210.2 92.6,212.8 93.1,213.3 93.6,212.6 94.1,210.6 94.6,214.3 95.1,212.7 95.6,212.1 96.1,210.5 96.6,207.5 97.1,206.1 97.6,208.3 98.1,209.4 98.6,208.7 99.1,206.8 99.6,205.3 100.1,206.4 100.6,204.9 101.1,208.2 101.6,210.2 102.1,214.0 102.6,212.5 103.1,209.1 103.6,206.9 104.1,201.3 104.6,203.3 105.1,205.0 105.6,207.7 106.1,208.3 106.6,208.6 107.1,207.9 107.6,208.3 108.1,209.8 108.6,206.1 109.1,205.2 109.6,203.1 110.1,207.1 110.6,208.5 111.1,208.2 111.6,204.6 112.1,205.0 112.6,204.5 113.1,204.7 113.6,204.3 114.1,205.2 114.6,204.0 115.1,205.5 115.6,205.1 116.1,203.9 116.6,203.6 117.1,202.8 117.6,204.5 118.1,203.4 118.6,203.8 119.1,202.7 119.6,200.3 120.1,203.1 120.6,201.1 121.1,203.1 121.6,203.6 122.1,200.2 122.6,199.7 123.1,200.2 123.6,199.9 124.1,199.1 124.6,202.0 125.1,201.8 125.6,202.8 126.1,201.9 126.6,202.8 127.1,201.5 127.6,202.3 128.1,203.9 128.6,203.9 129.1,203.2 129.6,202.0 130.1,203.7 130.6,205.1 131.1,205.0 131.6,204.2 132.1,206.2 132.6,210.7 133.1,208.4 133.6,208.4 134.1,208.6 134.6,203.7 135.1,206.0 135.6,205.8 136.1,209.4 136.6,208.5 137.1,207.2 137.6,207.6 138.1,208.6 138.6,207.9 139.1,208.6 139.6,206.8 140.1,207.9 140.6,210.3 141.1,213.6 141.6,213.2 142.1,212.3 142.6,213.5 143.1,213.9 143.6,215.3 144.1,215.1 144.6,213.0 145.1,212.6 145.6,212.4 146.1,212.5 146.6,212.5 147.1,210.8 147.6,207.7 148.1,208.7 148.6,206.9 149.1,209.6 149.6,210.9 150.1,208.7 150.6,211.6 151.1,213.4 151.6,213.0 152.1,215.4 152.6,217.0 153.1,212.4 153.6,213.9 154.1,213.5 154.6,213.2 155.1,213.9 155.6,211.2 156.1,210.0 156.6,208.9 157.1,208.3 157.6,209.0 158.1,206.9 158.6,206.4 159.1,208.8 159.6,208.7 160.1,209.3 160.6,205.6 161.1,205.5 161.6,205.7 162.1,206.6 162.6,205.9 163.1,208.1 163.6,207.3 164.1,206.9 164.6,206.5 165.1,207.3 165.6,205.5 166.1,207.1 166.6,206.6 167.1,205.6 167.6,204.7 168.1,204.8 168.6,205.5 169.1,205.5 169.6,204.3 170.1,204.4 170.6,202.8 171.1,203.8 171.6,201.9 172.1,197.2 172.6,200.5 173.1,199.8 173.6,197.1 174.1,197.2 174.6,196.0 175.1,200.3 175.6,199.5 176.1,195.5 176.6,197.0 177.1,196.0 177.6,199.4 178.1,195.9 178.6,192.0 179.1,194.0 179.6,194.3 180.1,194.3 180.6,191.4 181.1,194.4 181.6,198.2 182.1,194.0 182.6,197.4 183.1,196.3 183.6,200.9 184.1,200.0 184.6,198.7 185.1,200.4 185.6,200.3 186.1,198.5 186.6,199.8 187.1,198.4 187.6,195.5 188.1,200.5 188.6,198.7 189.1,197.2 189.6,197.8 190.1,194.6 190.6,193.0 191.1,193.5 191.6,193.3 192.1,194.0 192.6,195.9 193.1,193.8 193.6,194.2 194.1,194.4 194.6,191.5 195.1,192.2 195.6,190.4 196.1,193.1 196.6,193.5 197.1,193.3 197.6,191.3 198.1,193.3 198.6,193.4 199.1,196.6 199.6,197.4 200.1,197.3 200.6,200.9 201.1,203.0 201.6,202.3 202.1,205.7 202.6,205.8 203.1,206.8 203.6,209.1 204.1,209.7 204.6,211.3 205.1,213.2 205.6,217.5 206.1,219.7 206.6,217.8 207.1,220.2 207.6,218.7 208.1,218.9 208.6,220.0 209.1,219.7 209.6,223.3 210.1,221.5 210.6,218.2 211.1,221.0 211.6,219.6 212.1,219.2 212.6,214.4 213.1,219.0 213.6,221.1 214.1,222.2 214.6,223.2 215.1,224.9 215.6,222.9 216.1,223.7 216.6,221.2 217.1,220.7 217.6,223.0 218.1,223.0 218.6,220.1 219.1,221.7 219.6,221.5 220.1,220.4 220.6,222.1 221.1,221.5 221.6,219.3 222.1,219.0 222.6,223.8 223.1,220.6 223.6,222.1 224.1,223.5 224.6,224.3 225.1,221.5 225.6,221.8 226.1,222.7 226.6,224.3 227.1,222.7 227.6,221.0 228.1,224.0 228.6,225.7 229.1,225.3 229.6,223.4 230.1,224.3 230.6,224.3 231.1,225.5 231.6,222.6 232.1,223.5 232.6,223.5 233.1,222.0 233.6,223.5 234.1,224.0 234.6,223.5 235.1,224.6 235.6,222.1 236.1,223.3 236.6,224.7 237.1,225.2 237.6,226.8 238.1,223.7 238.6,221.7 239.1,223.7 239.6,225.1 240.1,228.7 240.6,227.9 241.1,225.0 241.6,226.4 242.1,224.3 242.6,222.2 243.1,228.2 243.6,227.3 244.1,227.5 244.6,227.4 245.1,229.5 245.6,227.9 246.1,228.7 246.6,225.3 247.1,222.9 247.6,226.6 248.1,228.6 248.6,227.9 249.1,227.0 249.6,226.5" fill="none" stroke="#4a22dd" stroke-width="1.2" stroke-linejoin="round"/>
<path d="M29.1,240.7 29.6,243.8 30.1,243.9 30.6,243.6 31.1,243.3 31.6,244.2 32.1,243.8 32.6,244.0 33.1,240.8 33.6,242.1 34.1,245.5 34.6,242.6 35.1,241.9 35.6,243.2 36.1,243.9 36.6,243.7 37.1,239.9 37.6,241.5 38.1,239.5 38.6,239.0 39.1,241.1 39.6,240.7 40.1,242.3 40.6,247.0 41.1,245.4 41.6,244.5 42.1,241.3 42.6,240.2 43.1,238.8 43.6,239.1 44.1,238.2 44.6,238.5 45.1,239.4 45.6,238.5 46.1,237.3 46.6,236.8 47.1,239.6 47.6,240.3 48.1,242.2 48.6,243.2 49.1,241.4 49.6,242.1 50.1,239.0 50.6,243.6 51.1,244.1 51.6,241.9 52.1,239.3 52.6,240.5 53.1,237.3 53.6,237.6 54.1,240.2 54.6,240.4 55.1,239.5 55.6,241.5 56.1,239.1 56.6,240.1 57.1,239.3 57.6,238.3 58.1,239.9 58.6,238.3 59.1,242.3 59.6,240.1 60.1,243.3 60.6,239.7 61.1,240.8 61.6,238.2 62.1,236.7 62.6,238.4 63.1,240.2 63.6,237.7 64.1,240.6 64.6,238.7 65.1,239.3 65.6,239.9 66.1,240.6 66.6,236.9 67.1,240.8 67.6,240.9 68.1,239.3 68.6,237.5 69.1,235.4 69.6,234.9 70.1,237.8 70.6,237.8 71.1,236.4 71.6,236.7 72.1,240.3 72.6,238.9 73.1,237.8 73.6,240.4 74.1,240.2 74.6,239.4 75.1,237.8 75.6,235.5 76.1,234.9 76.6,235.7 77.1,236.6 77.6,237.9 78.1,238.9 78.6,238.8 79.1,238.7 79.6,236.6 80.1,233.6 80.6,234.7 81.1,234.6 81.6,235.0 82.1,235.8 82.6,234.5 83.1,234.1 83.6,235.5 84.1,236.6 84.6,235.8 85.1,237.2 85.6,236.8 86.1,235.1 86.6,236.0 87.1,239.5 87.6,237.0 88.1,238.7 88.6,239.9 89.1,240.7 89.6,237.1 90.1,240.1 90.6,238.3 91.1,236.8 91.6,236.0 92.1,236.9 92.6,236.5 93.1,235.8 93.6,237.9 94.1,235.5 94.6,233.7 95.1,235.9 95.6,236.7 96.1,237.8 96.6,234.6 97.1,236.6 97.6,236.6 98.1,238.6 98.6,234.6 99.1,235.0 99.6,234.3 100.1,231.7 100.6,231.8 101.1,234.9 101.6,233.8 102.1,232.7 102.6,234.8 103.1,235.9 103.6,236.5 104.1,233.7 104.6,233.5 105.1,235.1 105.6,233.1 106.1,231.8 106.6,233.8 107.1,235.9 107.6,232.4 108.1,228.2 108.6,227.9 109.1,228.4 109.6,230.1 110.1,232.1 110.6,231.8 111.1,230.7 111.6,231.5 112.1,229.9 112.6,230.7 113.1,230.0 113.6,235.1 114.1,234.5 114.6,231.4 115.1,229.6 115.6,229.5 116.1,227.4 116.6,227.9 117.1,228.1 117.6,230.8 118.1,230.0 118.6,228.9 119.1,227.4 119.6,227.0 120.1,228.6 120.6,229.1 121.1,231.6 121.6,229.9 122.1,231.9 122.6,231.5 123.1,230.9 123.6,227.3 124.1,226.7 124.6,229.9 125.1,232.7 125.6,232.1 126.1,232.9 126.6,231.4 127.1,230.8 127.6,230.2 128.1,232.7 128.6,233.0 129.1,232.4 129.6,232.0 130.1,233.4 130.6,233.9 131.1,232.3 131.6,235.9 132.1,235.3 132.6,234.8 133.1,237.0 133.6,237.5 134.1,236.0 134.6,236.3 135.1,233.9 135.6,233.5 136.1,230.7 136.6,235.2 137.1,232.3 137.6,235.3 138.1,234.4 138.6,233.8 139.1,234.9 139.6,236.3 140.1,237.7 140.6,240.4 141.1,239.5 141.6,240.0 142.1,237.9 142.6,239.1 143.1,238.8 143.6,237.8 144.1,237.9 144.6,238.1 145.1,238.7 145.6,239.3 146.1,238.2 146.6,237.3 147.1,239.3 147.6,236.3 148.1,236.6 148.6,240.3 149.1,235.1 149.6,235.8 150.1,238.5 150.6,235.9 151.1,241.6 151.6,235.8 152.1,239.6 152.6,241.7 153.1,241.6 153.6,239.6 154.1,239.5 154.6,237.4 155.1,239.1 155.6,236.6 156.1,236.8 156.6,238.9 157.1,236.4 157.6,236.3 158.1,237.1 158.6,234.9 159.1,237.9 159.6,238.0 160.1,234.9 160.6,235.7 161.1,234.8 161.6,234.5 162.1,235.5 162.6,234.6 163.1,236.9 163.6,235.1 164.1,237.0 164.6,236.0 165.1,236.9 165.6,234.9 166.1,233.8 166.6,232.0 167.1,233.8 167.6,235.2 168.1,237.6 168.6,237.3 169.1,235.2 169.6,233.1 170.1,232.9 170.6,231.9 171.1,233.7 171.6,233.5 172.1,230.3 172.6,228.7 173.1,231.1 173.6,230.4 174.1,229.0 174.6,230.4 175.1,228.3 175.6,227.3 176.1,226.4 176.6,223.2 177.1,226.2 177.6,224.2 178.1,224.1 178.6,223.7 179.1,225.8 179.6,225.5 180.1,225.4 180.6,222.5 181.1,223.7 181.6,221.9 182.1,224.0 182.6,225.1 183.1,225.0 183.6,228.3 184.1,227.4 184.6,227.1 185.1,226.1 185.6,225.0 186.1,226.4 186.6,227.2 187.1,223.6 187.6,225.7 188.1,225.7 188.6,226.5 189.1,226.0 189.6,222.8 190.1,221.3 190.6,225.4 191.1,224.8 191.6,221.7 192.1,223.0 192.6,222.5 193.1,219.6 193.6,217.5 194.1,217.5 194.6,220.6 195.1,221.5 195.6,221.7 196.1,222.6 196.6,223.6 197.1,219.6 197.6,220.6 198.1,220.6 198.6,220.5 199.1,222.4 199.6,224.9 200.1,226.8 200.6,226.6 201.1,228.9 201.6,234.9 202.1,233.4 202.6,232.4 203.1,236.1 203.6,239.3 204.1,241.5 204.6,240.6 205.1,244.2 205.6,243.3 206.1,242.4 206.6,242.8 207.1,244.0 207.6,246.1 208.1,247.2 208.6,246.7 209.1,248.2 209.6,247.6 210.1,248.8 210.6,245.7 211.1,243.9 211.6,247.0 212.1,245.1 212.6,246.0 213.1,246.9 213.6,246.7 214.1,246.8 214.6,250.0 215.1,245.1 215.6,248.4 216.1,252.5 216.6,250.7 217.1,249.9 217.6,250.7 218.1,253.1 218.6,249.2 219.1,249.5 219.6,249.2 220.1,250.3 220.6,250.3 221.1,251.1 221.6,249.8 222.1,249.9 222.6,248.8 223.1,248.3 223.6,249.0 224.1,249.3 224.6,247.8 225.1,251.7 225.6,250.8 226.1,248.3 226.6,251.3 227.1,249.7 227.6,251.0 228.1,250.8 228.6,251.2 229.1,251.3 229.6,250.2 230.1,250.6 230.6,254.2 231.1,248.9 231.6,250.2 232.1,251.4 232.6,249.6 233.1,248.2 233.6,253.4 234.1,251.8 234.6,255.2 235.1,254.3 235.6,253.1 236.1,253.2 236.6,253.6 237.1,254.7 237.6,254.0 238.1,253.2 238.6,252.9 239.1,254.7 239.6,254.8 240.1,251.8 240.6,250.9 241.1,252.1 241.6,251.1 242.1,251.1 242.6,250.1 243.1,250.8 243.6,252.3 244.1,254.0 244.6,253.2 245.1,256.3 245.6,254.2 246.1,258.7 246.6,257.3 247.1,255.7 247.6,253.3 248.1,248.2 248.6,250.1 249.1,251.6 249.6,255.3" fill="none" stroke="#7a2a86" stroke-width="1.2" stroke-linejoin="round"/>
<path d="M29.1,268.9 29.6,273.6 30.1,272.1 30.6,273.1 31.1,267.5 31.6,269.7 32.1,269.9 32.6,271.9 33.1,271.8 33.6,269.5 34.1,272.2 34.6,273.0 35.1,273.3 35.6,274.2 36.1,274.8 36.6,273.0 37.1,269.6 37.6,267.9 38.1,272.1 38.6,273.0 39.1,272.3 39.6,270.9 40.1,271.1 40.6,271.2 41.1,270.5 41.6,269.5 42.1,274.3 42.6,273.1 43.1,271.0 43.6,268.6 44.1,268.5 44.6,271.1 45.1,272.4 45.6,271.3 46.1,271.2 46.6,270.5 47.1,268.7 47.6,272.2 48.1,272.2 48.6,276.1 49.1,272.0 49.6,271.2 50.1,272.6 50.6,271.2 51.1,268.4 51.6,267.8 52.1,269.4 52.6,270.7 53.1,270.5 53.6,272.4 54.1,273.3 54.6,272.5 55.1,271.6 55.6,270.5 56.1,271.5 56.6,272.7 57.1,271.6 57.6,271.8 58.1,270.5 58.6,267.8 59.1,267.1 59.6,270.1 60.1,270.9 60.6,273.5 61.1,271.9 61.6,272.5 62.1,273.7 62.6,273.6 63.1,270.6 63.6,269.9 64.1,270.1 64.6,268.1 65.1,269.8 65.6,271.6 66.1,269.7 66.6,273.2 67.1,270.8 67.6,269.7 68.1,269.1 68.6,267.9 69.1,269.3 69.6,269.3 70.1,272.3 70.6,271.8 71.1,271.4 71.6,269.8 72.1,266.7 72.6,267.6 73.1,266.6 73.6,269.4 74.1,269.0 74.6,271.9 75.1,271.6 75.6,271.6 76.1,270.4 76.6,269.8 77.1,270.2 77.6,270.9 78.1,268.2 78.6,269.1 79.1,273.4 79.6,270.5 80.1,268.8 80.6,267.0 81.1,264.7 81.6,268.4 82.1,268.2 82.6,268.5 83.1,271.4 83.6,274.1 84.1,269.1 84.6,270.2 85.1,269.9 85.6,269.3 86.1,269.2 86.6,268.1 87.1,270.5 87.6,269.9 88.1,269.1 88.6,270.3 89.1,270.2 89.6,269.3 90.1,268.6 90.6,270.9 91.1,269.7 91.6,267.9 92.1,265.6 92.6,265.3 93.1,263.9 93.6,265.2 94.1,266.2 94.6,262.3 95.1,264.2 95.6,266.3 96.1,266.4 96.6,264.3 97.1,267.3 97.6,265.2 98.1,263.1 98.6,262.3 99.1,263.8 99.6,266.3 100.1,267.9 100.6,266.9 101.1,263.7 101.6,263.1 102.1,262.2 102.6,263.1 103.1,260.5 103.6,262.6 104.1,264.6 104.6,264.0 105.1,264.8 105.6,262.5 106.1,260.3 106.6,260.7 107.1,264.1 107.6,265.5 108.1,263.3 108.6,265.2 109.1,263.3 109.6,265.6 110.1,264.8 110.6,262.6 111.1,263.8 111.6,261.3 112.1,259.8 112.6,258.0 113.1,260.2 113.6,260.6 114.1,260.7 114.6,260.1 115.1,263.2 115.6,261.2 116.1,259.7 116.6,262.5 117.1,264.2 117.6,263.0 118.1,258.6 118.6,258.4 119.1,260.6 119.6,260.6 120.1,263.4 120.6,259.4 121.1,261.2 121.6,259.8 122.1,262.6 122.6,261.5 123.1,263.0 123.6,260.7 124.1,258.2 124.6,257.5 125.1,258.2 125.6,257.8 126.1,261.7 126.6,264.0 127.1,263.2 127.6,260.5 128.1,260.8 128.6,260.0 129.1,263.6 129.6,263.4 130.1,263.7 130.6,262.2 131.1,258.6 131.6,259.1 132.1,258.8 132.6,261.4 133.1,262.3 133.6,261.2 134.1,261.4 134.6,265.2 135.1,262.5 135.6,261.3 136.1,262.1 136.6,261.7 137.1,262.1 137.6,264.2 138.1,267.5 138.6,262.8 139.1,263.8 139.6,264.6 140.1,264.8 140.6,264.9 141.1,264.7 141.6,267.2 142.1,265.9 142.6,265.9 143.1,266.3 143.6,266.8 144.1,266.6 144.6,268.7 145.1,268.0 145.6,268.0 146.1,267.7 146.6,265.8 147.1,265.2 147.6,264.5 148.1,266.5 148.6,265.8 149.1,264.8 149.6,266.6 150.1,268.1 150.6,264.5 151.1,269.1 151.6,268.3 152.1,267.6 152.6,269.3 153.1,268.3 153.6,266.4 154.1,270.6 154.6,266.6 155.1,266.3 155.6,267.8 156.1,264.9 156.6,265.2 157.1,266.1 157.6,270.2 158.1,266.1 158.6,265.5 159.1,266.4 159.6,265.6 160.1,262.8 160.6,264.2 161.1,264.3 161.6,264.9 162.1,266.3 162.6,266.7 163.1,265.7 163.6,264.9 164.1,261.7 164.6,261.8 165.1,262.3 165.6,261.2 166.1,261.4 166.6,259.6 167.1,262.9 167.6,265.5 168.1,261.9 168.6,261.3 169.1,259.6 169.6,261.3 170.1,260.4 170.6,259.1 171.1,257.7 171.6,257.4 172.1,254.9 172.6,256.6 173.1,254.7 173.6,255.8 174.1,255.4 174.6,256.9 175.1,255.3 175.6,256.3 176.1,253.1 176.6,254.1 177.1,253.0 177.6,253.1 178.1,252.8 178.6,254.2 179.1,249.4 179.6,251.2 180.1,248.8 180.6,252.5 181.1,248.5 181.6,248.3 182.1,246.9 182.6,252.3 183.1,249.6 183.6,250.8 184.1,250.2 184.6,247.6 185.1,248.9 185.6,251.5 186.1,251.1 186.6,253.0 187.1,251.6 187.6,251.5 188.1,250.7 188.6,251.6 189.1,254.9 189.6,253.7 190.1,252.6 190.6,250.5 191.1,249.0 191.6,252.2 192.1,248.9 192.6,247.5 193.1,248.1 193.6,247.6 194.1,251.7 194.6,245.6 195.1,247.5 195.6,248.9 196.1,246.2 196.6,245.7 197.1,247.4 197.6,250.5 198.1,247.5 198.6,245.1 199.1,248.9 199.6,252.2 200.1,250.9 200.6,247.2 201.1,252.7 201.6,252.9 202.1,255.9 202.6,255.8 203.1,255.6 203.6,255.9 204.1,260.3 204.6,263.2 205.1,258.9 205.6,259.7 206.1,266.0 206.6,265.9 207.1,264.7 207.6,267.2 208.1,268.6 208.6,269.6 209.1,269.5 209.6,269.8 210.1,269.9 210.6,271.5 211.1,270.3 211.6,270.9 212.1,271.5 212.6,274.6 213.1,274.6 213.6,273.8 214.1,274.7 214.6,275.0 215.1,276.5 215.6,276.3 216.1,278.6 216.6,279.0 217.1,276.8 217.6,275.0 218.1,276.6 218.6,276.8 219.1,275.8 219.6,272.8 220.1,270.7 220.6,273.8 221.1,276.1 221.6,277.4 222.1,274.2 222.6,277.0 223.1,275.5 223.6,276.5 224.1,277.1 224.6,275.1 225.1,274.6 225.6,271.6 226.1,272.3 226.6,271.0 227.1,274.5 227.6,275.6 228.1,277.8 228.6,277.9 229.1,276.1 229.6,277.0 230.1,276.2 230.6,277.6 231.1,277.8 231.6,275.5 232.1,276.2 232.6,276.7 233.1,276.3 233.6,278.4 234.1,280.9 234.6,278.4 235.1,277.1 235.6,273.0 236.1,274.9 236.6,275.3 237.1,272.3 237.6,275.4 238.1,277.5 238.6,276.1 239.1,276.1 239.6,275.0 240.1,277.7 240.6,274.8 241.1,275.6 241.6,280.2 242.1,279.0 242.6,279.2 243.1,278.2 243.6,275.8 244.1,276.7 244.6,278.0 245.1,276.0 245.6,277.5 246.1,279.9 246.6,280.8 247.1,276.4 247.6,275.3 248.1,273.6 248.6,277.7 249.1,278.9 249.6,279.6" fill="none" stroke="#7a0e14" stroke-width="1.2" stroke-linejoin="round"/>
<path d="M29.1,296.7 29.6,295.9 30.1,296.8 30.6,297.3 31.1,296.5 31.6,297.1 32.1,297.9 32.6,297.9 33.1,296.5 33.6,294.7 34.1,295.7 34.6,296.7 35.1,296.7 35.6,296.5 36.1,296.1 36.6,297.4 37.1,297.2 37.6,297.3 38.1,296.2 38.6,295.9 39.1,296.7 39.6,295.8 40.1,295.0 40.6,295.6 41.1,297.5 41.6,297.4 42.1,298.7 42.6,297.6 43.1,296.9 43.6,295.3 44.1,295.4 44.6,297.6 45.1,297.5 45.6,297.8 46.1,297.9 46.6,297.2 47.1,296.7 47.6,296.7 48.1,297.3 48.6,297.3 49.1,297.4 49.6,297.0 50.1,295.9 50.6,295.8 51.1,295.0 51.6,296.7 52.1,294.2 52.6,294.9 53.1,298.1 53.6,296.7 54.1,295.2 54.6,295.6 55.1,297.1 55.6,296.4 56.1,296.8 56.6,296.4 57.1,295.7 57.6,299.1 58.1,297.5 58.6,296.1 59.1,295.4 59.6,295.9 60.1,296.2 60.6,296.7 61.1,296.3 61.6,294.4 62.1,295.5 62.6,295.2 63.1,295.0 63.6,293.6 64.1,293.9 64.6,293.9 65.1,294.5 65.6,293.4 66.1,294.4 66.6,294.9 67.1,293.9 67.6,293.8 68.1,293.6 68.6,295.3 69.1,292.5 69.6,293.4 70.1,292.4 70.6,293.2 71.1,294.9 71.6,294.2 72.1,294.6 72.6,293.8 73.1,296.3 73.6,296.4 74.1,296.7 74.6,294.2 75.1,293.2 75.6,295.0 76.1,294.5 76.6,294.2 77.1,294.6 77.6,293.1 78.1,294.5 78.6,294.4 79.1,294.7 79.6,293.7 80.1,294.4 80.6,293.4 81.1,294.7 81.6,295.5 82.1,295.6 82.6,295.2 83.1,295.1 83.6,291.5 84.1,293.4 84.6,293.1 85.1,293.3 85.6,293.0 86.1,291.6 86.6,291.8 87.1,293.1 87.6,294.5 88.1,293.0 88.6,291.9 89.1,293.8 89.6,292.2 90.1,294.5 90.6,293.5 91.1,291.9 91.6,293.1 92.1,294.3 92.6,291.6 93.1,293.3 93.6,292.2 94.1,293.5 94.6,292.1 95.1,290.0 95.6,291.2 96.1,292.1 96.6,293.8 97.1,294.2 97.6,293.2 98.1,291.7 98.6,290.6 99.1,290.2 99.6,289.4 100.1,289.5 100.6,287.1 101.1,288.7 101.6,289.3 102.1,292.2 102.6,291.7 103.1,290.0 103.6,290.2 104.1,288.4 104.6,288.0 105.1,286.4 105.6,289.0 106.1,289.4 106.6,287.6 107.1,287.8 107.6,288.9 108.1,288.8 108.6,288.6 109.1,287.1 109.6,286.5 110.1,286.9 110.6,287.9 111.1,286.5 111.6,285.3 112.1,287.1 112.6,285.7 113.1,287.1 113.6,286.8 114.1,287.3 114.6,288.3 115.1,287.7 115.6,287.4 116.1,285.4 116.6,284.6 117.1,285.6 117.6,286.9 118.1,287.4 118.6,288.6 119.1,287.0 119.6,286.1 120.1,286.5 120.6,285.6 121.1,285.0 121.6,283.7 122.1,285.2 122.6,283.8 123.1,284.7 123.6,283.2 124.1,285.1 124.6,283.9 125.1,285.3 125.6,283.4 126.1,283.8 126.6,285.8 127.1,284.7 127.6,285.2 128.1,284.9 128.6,282.9 129.1,284.8 129.6,285.9 130.1,285.0 130.6,286.3 131.1,285.7 131.6,285.2 132.1,286.1 132.6,285.9 133.1,289.0 133.6,286.6 134.1,287.9 134.6,288.8 135.1,286.3 135.6,285.3 136.1,287.4 136.6,287.4 137.1,288.4 137.6,289.8 138.1,289.0 138.6,288.0 139.1,285.8 139.6,287.9 140.1,287.9 140.6,289.3 141.1,290.0 141.6,288.7 142.1,291.5 142.6,292.3 143.1,292.5 143.6,290.5 144.1,290.4 144.6,290.3 145.1,290.4 145.6,289.8 146.1,291.2 146.6,291.7 147.1,292.1 147.6,291.4 148.1,293.0 148.6,292.6 149.1,289.3 149.6,289.8 150.1,290.7 150.6,292.2 151.1,291.5 151.6,291.2 152.1,290.6 152.6,291.6 153.1,290.9 153.6,290.3 154.1,289.8 154.6,290.8 155.1,290.1 155.6,288.4 156.1,289.9 156.6,289.2 157.1,289.8 157.6,290.1 158.1,291.0 158.6,291.2 159.1,289.5 159.6,288.9 160.1,287.3 160.6,289.6 161.1,289.3 161.6,290.1 162.1,288.5 162.6,285.8 163.1,288.2 163.6,287.7 164.1,287.3 164.6,286.9 165.1,287.1 165.6,286.9 166.1,284.3 166.6,285.6 167.1,284.3 167.6,283.5 168.1,285.2 168.6,285.0 169.1,283.3 169.6,280.6 170.1,281.1 170.6,281.5 171.1,280.9 171.6,279.1 172.1,278.5 172.6,277.5 173.1,278.4 173.6,279.3 174.1,279.8 174.6,278.1 175.1,278.2 175.6,278.4 176.1,277.4 176.6,277.2 177.1,279.5 177.6,278.7 178.1,279.0 178.6,277.8 179.1,277.8 179.6,275.9 180.1,276.9 180.6,278.7 181.1,280.6 181.6,280.7 182.1,280.3 182.6,279.4 183.1,278.4 183.6,278.4 184.1,279.3 184.6,278.2 185.1,279.6 185.6,278.2 186.1,276.7 186.6,276.7 187.1,275.9 187.6,275.7 188.1,278.1 188.6,277.7 189.1,277.8 189.6,278.7 190.1,279.0 190.6,277.1 191.1,277.9 191.6,277.1 192.1,276.1 192.6,275.8 193.1,273.5 193.6,272.9 194.1,273.1 194.6,273.8 195.1,273.0 195.6,272.8 196.1,273.7 196.6,274.7 197.1,274.4 197.6,274.8 198.1,273.5 198.6,273.1 199.1,274.0 199.6,274.2 200.1,274.6 200.6,277.6 201.1,277.6 201.6,277.4 202.1,279.4 202.6,282.3 203.1,282.5 203.6,284.3 204.1,284.2 204.6,285.0 205.1,286.0 205.6,288.0 206.1,292.0 206.6,291.6 207.1,295.2 207.6,294.7 208.1,295.8 208.6,297.8 209.1,298.7 209.6,298.9 210.1,297.2 210.6,298.6 211.1,298.1 211.6,301.8 212.1,300.8 212.6,301.0 213.1,299.8 213.6,300.0 214.1,299.4 214.6,301.7 215.1,301.6 215.6,302.6 216.1,301.9 216.6,301.8 217.1,303.8 217.6,302.5 218.1,301.1 218.6,302.8 219.1,302.1 219.6,302.6 220.1,304.3 220.6,303.4 221.1,304.8 221.6,304.0 222.1,305.9 222.6,306.7 223.1,305.3 223.6,304.9 224.1,304.1 224.6,304.8 225.1,306.2 225.6,304.2 226.1,305.8 226.6,304.2 227.1,303.9 227.6,302.8 228.1,306.4 228.6,306.1 229.1,306.2 229.6,305.3 230.1,306.7 230.6,304.1 231.1,305.0 231.6,307.8 232.1,306.5 232.6,306.3 233.1,307.0 233.6,305.7 234.1,306.0 234.6,307.2 235.1,307.0 235.6,307.1 236.1,306.4 236.6,306.8 237.1,306.7 237.6,308.2 238.1,308.1 238.6,307.1 239.1,304.3 239.6,306.3 240.1,307.3 240.6,306.1 241.1,304.3 241.6,304.3 242.1,306.6 242.6,305.6 243.1,305.7 243.6,306.6 244.1,308.0 244.6,307.5 245.1,307.1 245.6,306.5 246.1,308.4 246.6,308.8 247.1,307.8 247.6,305.9 248.1,305.6 248.6,306.9 249.1,306.2 249.6,307.5" fill="none" stroke="#f0126e" stroke-width="1.2" stroke-linejoin="round"/>
<path d="M192.70,35.40 L192.90,141.00 L197.00,163.00 L197.50,194.00 L200.00,217.00 L200.00,282.00" fill="none" stroke="#000" stroke-width="1.8"/>
<rect x="28.6" y="24.5" width="221.6" height="289.3" fill="none" stroke="#1c1c1c" stroke-width="1.3"/>
<path d="M238.30,313.8 V317.60 M227.82,313.8 V316.00 M217.34,313.8 V316.00 M206.86,313.8 V316.00 M196.38,313.8 V316.00 M185.90,313.8 V317.60 M175.42,313.8 V316.00 M164.94,313.8 V316.00 M154.46,313.8 V316.00 M143.98,313.8 V316.00 M133.50,313.8 V317.60 M123.02,313.8 V316.00 M112.54,313.8 V316.00 M102.06,313.8 V316.00 M91.58,313.8 V316.00 M81.10,313.8 V317.60 M70.62,313.8 V316.00 M60.14,313.8 V316.00 M49.66,313.8 V316.00 M39.18,313.8 V316.00 M28.70,313.8 V317.60" stroke="#1c1c1c" stroke-width="1.1"/>
<text x="238.70" y="330.6" font-size="13.8" text-anchor="middle">850</text>
<text x="186.30" y="330.6" font-size="13.8" text-anchor="middle">855</text>
<text x="133.90" y="330.6" font-size="13.8" text-anchor="middle">860</text>
<text x="81.50" y="330.6" font-size="13.8" text-anchor="middle">865</text>
<text x="29.10" y="330.6" font-size="13.8" text-anchor="middle">870</text>
<text x="59.50" y="354.60" font-size="16.5" textLength="159.24" lengthAdjust="spacing">Binding Energy [eV]</text>
<text transform="translate(17.90,203.50) rotate(-90)" font-size="16" textLength="99.91" lengthAdjust="spacingAndGlyphs">Intensity [a.u.]</text>
<text x="2.80" y="17.40" font-size="16" textLength="13.49" lengthAdjust="spacing">a)</text>
<text x="28.70" y="17.40" font-size="16" textLength="36.53" lengthAdjust="spacing">Ni2p</text>
<text x="65.80" y="23.60" font-size="10" textLength="13.50" lengthAdjust="spacing">3/2</text>
<text x="86.00" y="17.30" font-size="16" textLength="88.98" lengthAdjust="spacing">@ 1000 eV</text>
<text x="262.70" y="90.40" font-size="14" textLength="30.79" lengthAdjust="spacing">20°C</text>
<text x="262.70" y="116.30" font-size="14" textLength="39.11" lengthAdjust="spacing">490°C</text>
<text x="262.70" y="146.20" font-size="14" textLength="39.11" lengthAdjust="spacing">293°C</text>
<text x="262.70" y="174.60" font-size="14" textLength="39.11" lengthAdjust="spacing">238°C</text>
<text x="262.70" y="202.40" font-size="14" textLength="39.11" lengthAdjust="spacing">164°C</text>
<text x="262.70" y="230.30" font-size="14" textLength="39.11" lengthAdjust="spacing">150°C</text>
<text x="262.70" y="257.40" font-size="14" textLength="39.12" lengthAdjust="spacing">115°C</text>
<text x="262.70" y="286.50" font-size="14" textLength="30.79" lengthAdjust="spacing">60°C</text>
<text x="262.70" y="312.10" font-size="14" textLength="30.79" lengthAdjust="spacing">20°C</text>
<path d="M315.5,86.2 316.0,86.2 316.5,86.5 317.0,86.5 317.5,85.9 318.0,85.8 318.5,87.0 319.0,86.1 319.5,85.9 320.0,86.5 320.5,86.2 321.0,85.8 321.5,85.3 322.0,85.9 322.5,86.5 323.0,87.0 323.5,86.7 324.0,87.0 324.5,86.2 325.0,86.2 325.5,85.9 326.0,86.1 326.5,86.5 327.0,86.8 327.5,86.1 328.0,86.7 328.5,86.3 329.0,85.8 329.5,85.9 330.0,85.3 330.5,85.7 331.0,86.0 331.5,86.0 332.0,86.3 332.5,86.1 333.0,86.2 333.5,85.5 334.0,85.8 334.5,85.6 335.0,85.6 335.5,85.8 336.0,86.1 336.5,85.3 337.0,85.0 337.5,85.3 338.0,85.9 338.5,86.2 339.0,86.6 339.5,87.0 340.0,86.9 340.5,86.6 341.0,86.0 341.5,85.6 342.0,85.6 342.5,86.0 343.0,86.1 343.5,86.1 344.0,86.1 344.5,86.4 345.0,86.4 345.5,86.4 346.0,86.4 346.5,86.0 347.0,85.5 347.5,86.0 348.0,86.2 348.5,86.0 349.0,85.8 349.5,86.9 350.0,86.2 350.5,86.0 351.0,86.0 351.5,85.4 352.0,85.6 352.5,86.5 353.0,86.7 353.5,86.6 354.0,86.5 354.5,86.2 355.0,86.5 355.5,86.1 356.0,85.7 356.5,85.7 357.0,86.0 357.5,86.0 358.0,86.1 358.5,84.9 359.0,85.6 359.5,86.6 360.0,86.7 360.5,86.0 361.0,85.3 361.5,85.4 362.0,84.9 362.5,85.3 363.0,85.0 363.5,85.5 364.0,85.9 364.5,84.6 365.0,84.9 365.5,84.6 366.0,84.0 366.5,84.1 367.0,84.2 367.5,84.9 368.0,84.1 368.5,84.8 369.0,85.6 369.5,85.4 370.0,85.3 370.5,84.9 371.0,84.1 371.5,84.3 372.0,84.4 372.5,84.5 373.0,85.4 373.5,85.0 374.0,84.6 374.5,84.8 375.0,83.6 375.5,82.8 376.0,82.7 376.5,82.4 377.0,82.8 377.5,82.6 378.0,83.3 378.5,83.5 379.0,83.3 379.5,82.5 380.0,82.5 380.5,82.5 381.0,81.6 381.5,81.6 382.0,81.7 382.5,81.5 383.0,81.9 383.5,82.0 384.0,81.0 384.5,80.8 385.0,80.1 385.5,80.3 386.0,79.7 386.5,80.1 387.0,80.1 387.5,80.3 388.0,79.8 388.5,78.9 389.0,79.7 389.5,79.3 390.0,79.6 390.5,79.3 391.0,79.2 391.5,79.6 392.0,79.1 392.5,79.2 393.0,77.8 393.5,78.0 394.0,77.5 394.5,77.2 395.0,77.0 395.5,77.0 396.0,77.5 396.5,76.1 397.0,76.0 397.5,75.6 398.0,76.1 398.5,75.6 399.0,75.6 399.5,75.2 400.0,75.3 400.5,75.5 401.0,74.9 401.5,74.6 402.0,73.8 402.5,74.0 403.0,74.3 403.5,73.7 404.0,74.2 404.5,72.9 405.0,72.1 405.5,71.9 406.0,72.1 406.5,72.4 407.0,72.5 407.5,72.5 408.0,72.9 408.5,72.5 409.0,71.9 409.5,71.5 410.0,72.8 410.5,71.6 411.0,71.8 411.5,72.7 412.0,72.7 412.5,72.1 413.0,72.2 413.5,72.6 414.0,73.0 414.5,72.2 415.0,72.5 415.5,72.5 416.0,72.8 416.5,73.2 417.0,72.6 417.5,71.7 418.0,72.0 418.5,72.8 419.0,72.8 419.5,72.6 420.0,73.5 420.5,72.4 421.0,72.6 421.5,72.1 422.0,72.1 422.5,72.0 423.0,72.7 423.5,71.9 424.0,71.7 424.5,71.0 425.0,71.6 425.5,71.5 426.0,71.8 426.5,71.3 427.0,71.3 427.5,72.0 428.0,71.8 428.5,72.0 429.0,72.1 429.5,71.8 430.0,71.0 430.5,71.7 431.0,71.7 431.5,72.1 432.0,70.9 432.5,70.3 433.0,69.8 433.5,70.0 434.0,71.0 434.5,71.4 435.0,71.3 435.5,71.3 436.0,71.6 436.5,71.2 437.0,71.3 437.5,71.2 438.0,70.0 438.5,70.2 439.0,71.0 439.5,70.7 440.0,70.5 440.5,70.2 441.0,70.0 441.5,70.6 442.0,70.3 442.5,69.7 443.0,68.4 443.5,68.7 444.0,68.2 444.5,67.9 445.0,68.9 445.5,69.4 446.0,68.3 446.5,68.8 447.0,68.7 447.5,67.9 448.0,67.9 448.5,66.6 449.0,65.8 449.5,64.9 450.0,64.3 450.5,64.6 451.0,63.5 451.5,62.7 452.0,62.0 452.5,61.9 453.0,61.4 453.5,61.3 454.0,60.4 454.5,59.3 455.0,58.8 455.5,58.6 456.0,57.9 456.5,57.9 457.0,58.5 457.5,57.5 458.0,57.1 458.5,57.3 459.0,56.3 459.5,55.5 460.0,54.7 460.5,54.8 461.0,54.7 461.5,54.3 462.0,54.0 462.5,54.3 463.0,54.2 463.5,53.0 464.0,53.0 464.5,52.9 465.0,53.2 465.5,53.0 466.0,52.7 466.5,52.7 467.0,52.2 467.5,52.9 468.0,53.2 468.5,54.0 469.0,54.0 469.5,54.5 470.0,54.7 470.5,55.0 471.0,56.2 471.5,56.6 472.0,57.5 472.5,57.5 473.0,58.3 473.5,58.1 474.0,58.8 474.5,59.4 475.0,60.6 475.5,61.4 476.0,62.0 476.5,63.2 477.0,64.0 477.5,65.0 478.0,66.0 478.5,66.6 479.0,67.2 479.5,68.3 480.0,68.9 480.5,70.0 481.0,71.3 481.5,72.3 482.0,72.7 482.5,72.8 483.0,73.7 483.5,74.4 484.0,75.7 484.5,75.9 485.0,76.3 485.5,77.1 486.0,77.2 486.5,77.5 487.0,78.8 487.5,79.6 488.0,79.8 488.5,79.9 489.0,79.6 489.5,80.2 490.0,80.5 490.5,80.9 491.0,80.9 491.5,81.3 492.0,81.5 492.5,82.0 493.0,83.0 493.5,83.1 494.0,82.4 494.5,82.4 495.0,82.2 495.5,82.5 496.0,83.4 496.5,83.9 497.0,83.8 497.5,84.2 498.0,84.0 498.5,83.6 499.0,83.4 499.5,83.6 500.0,84.8 500.5,84.2 501.0,85.1 501.5,85.7 502.0,85.4 502.5,85.2 503.0,84.9 503.5,85.0 504.0,85.4 504.5,85.4 505.0,85.9 505.5,86.2 506.0,86.1 506.5,86.0 507.0,85.8 507.5,85.9 508.0,85.3 508.5,85.6 509.0,85.8 509.5,85.4 510.0,86.5 510.5,85.8 511.0,85.5 511.5,85.8 512.0,85.0 512.5,85.0 513.0,84.7 513.5,84.8 514.0,85.3 514.5,85.8 515.0,86.4 515.5,86.7 516.0,87.1 516.5,87.0 517.0,86.5 517.5,86.9 518.0,86.5 518.5,86.2 519.0,87.0 519.5,87.1 520.0,86.9 520.5,87.1 521.0,87.3 521.5,86.3 522.0,86.4 522.5,85.9 523.0,86.2 523.5,86.0 524.0,86.9 524.5,87.0 525.0,86.5 525.5,86.5 526.0,86.0 526.5,86.3 527.0,86.7 527.5,86.8 528.0,85.9 528.5,86.0 529.0,86.5 529.5,86.8 530.0,87.3 530.5,86.5 531.0,86.8 531.5,86.5 532.0,86.7 532.5,86.9 533.0,87.1 533.5,86.7 534.0,86.8 534.5,86.2 535.0,85.8 535.5,86.4 536.0,86.5" fill="none" stroke="#8a3212" stroke-width="1.2" stroke-linejoin="round"/>
<path d="M315.5,111.5 316.0,111.3 316.5,111.9 317.0,113.4 317.5,113.9 318.0,114.1 318.5,112.2 319.0,112.4 319.5,113.0 320.0,113.2 320.5,113.4 321.0,113.1 321.5,114.4 322.0,114.9 322.5,114.1 323.0,113.0 323.5,114.6 324.0,113.6 324.5,114.3 325.0,115.3 325.5,113.7 326.0,113.8 326.5,113.3 327.0,113.7 327.5,113.8 328.0,115.0 328.5,114.8 329.0,114.2 329.5,114.7 330.0,114.0 330.5,113.5 331.0,115.1 331.5,113.8 332.0,113.3 332.5,113.4 333.0,112.6 333.5,111.4 334.0,113.0 334.5,112.6 335.0,112.5 335.5,112.6 336.0,112.2 336.5,111.9 337.0,112.7 337.5,114.8 338.0,114.8 338.5,114.8 339.0,113.2 339.5,113.3 340.0,112.5 340.5,113.5 341.0,113.3 341.5,113.4 342.0,113.4 342.5,113.0 343.0,112.0 343.5,113.0 344.0,112.2 344.5,111.8 345.0,112.2 345.5,112.2 346.0,112.9 346.5,113.8 347.0,113.8 347.5,113.8 348.0,113.6 348.5,114.2 349.0,112.5 349.5,113.1 350.0,112.5 350.5,111.9 351.0,112.5 351.5,112.5 352.0,113.2 352.5,114.1 353.0,112.0 353.5,112.4 354.0,114.2 354.5,114.4 355.0,115.0 355.5,114.3 356.0,112.8 356.5,112.1 357.0,113.0 357.5,113.7 358.0,112.9 358.5,112.7 359.0,113.0 359.5,111.7 360.0,111.9 360.5,113.5 361.0,114.9 361.5,114.0 362.0,114.9 362.5,113.7 363.0,112.7 363.5,111.1 364.0,112.5 364.5,112.3 365.0,114.2 365.5,113.8 366.0,113.5 366.5,111.8 367.0,113.2 367.5,112.7 368.0,112.5 368.5,110.8 369.0,112.2 369.5,113.0 370.0,112.2 370.5,112.3 371.0,112.5 371.5,113.0 372.0,112.7 372.5,113.6 373.0,112.7 373.5,111.8 374.0,111.4 374.5,109.5 375.0,109.6 375.5,111.0 376.0,111.2 376.5,110.5 377.0,110.9 377.5,109.3 378.0,109.6 378.5,110.3 379.0,110.9 379.5,110.0 380.0,110.7 380.5,111.8 381.0,110.7 381.5,110.8 382.0,109.1 382.5,107.8 383.0,108.8 383.5,109.0 384.0,109.1 384.5,108.6 385.0,108.4 385.5,109.1 386.0,110.1 386.5,109.3 387.0,107.6 387.5,108.8 388.0,108.9 388.5,109.0 389.0,108.7 389.5,110.0 390.0,109.1 390.5,108.8 391.0,106.8 391.5,106.5 392.0,106.1 392.5,106.4 393.0,106.8 393.5,106.1 394.0,107.5 394.5,106.2 395.0,105.8 395.5,106.0 396.0,105.0 396.5,105.7 397.0,106.0 397.5,105.5 398.0,106.8 398.5,106.1 399.0,105.8 399.5,104.7 400.0,103.4 400.5,103.3 401.0,103.5 401.5,103.4 402.0,104.2 402.5,102.3 403.0,102.1 403.5,101.3 404.0,103.2 404.5,102.9 405.0,102.7 405.5,102.1 406.0,103.1 406.5,102.8 407.0,103.0 407.5,101.4 408.0,102.8 408.5,103.0 409.0,103.3 409.5,103.9 410.0,103.2 410.5,102.8 411.0,103.1 411.5,103.1 412.0,102.6 412.5,102.5 413.0,102.0 413.5,102.6 414.0,103.1 414.5,102.7 415.0,103.9 415.5,102.0 416.0,101.8 416.5,103.2 417.0,102.4 417.5,101.0 418.0,102.4 418.5,102.6 419.0,101.4 419.5,102.2 420.0,101.3 420.5,100.5 421.0,100.9 421.5,100.9 422.0,100.4 422.5,100.7 423.0,100.3 423.5,100.9 424.0,101.2 424.5,101.9 425.0,101.4 425.5,100.5 426.0,99.9 426.5,100.3 427.0,101.9 427.5,102.3 428.0,101.5 428.5,102.1 429.0,100.9 429.5,101.8 430.0,101.2 430.5,101.7 431.0,101.9 431.5,101.3 432.0,101.4 432.5,100.3 433.0,100.4 433.5,101.3 434.0,104.0 434.5,103.1 435.0,102.0 435.5,100.5 436.0,101.1 436.5,99.3 437.0,98.9 437.5,99.4 438.0,98.5 438.5,99.9 439.0,100.4 439.5,99.3 440.0,98.7 440.5,97.6 441.0,96.8 441.5,97.7 442.0,98.2 442.5,98.3 443.0,98.1 443.5,97.3 444.0,97.5 444.5,96.1 445.0,96.3 445.5,97.4 446.0,97.7 446.5,96.5 447.0,95.6 447.5,96.2 448.0,96.7 448.5,94.3 449.0,93.4 449.5,93.1 450.0,93.5 450.5,91.9 451.0,91.8 451.5,90.8 452.0,92.0 452.5,91.0 453.0,89.8 453.5,88.6 454.0,88.8 454.5,88.4 455.0,86.6 455.5,86.4 456.0,84.9 456.5,84.3 457.0,83.3 457.5,82.6 458.0,82.4 458.5,81.9 459.0,82.5 459.5,82.9 460.0,82.1 460.5,80.8 461.0,81.3 461.5,79.3 462.0,78.0 462.5,79.1 463.0,79.6 463.5,80.0 464.0,79.2 464.5,77.9 465.0,77.6 465.5,78.2 466.0,77.6 466.5,77.2 467.0,76.6 467.5,76.5 468.0,78.1 468.5,78.9 469.0,78.5 469.5,78.5 470.0,79.2 470.5,80.7 471.0,80.6 471.5,81.5 472.0,80.9 472.5,81.4 473.0,83.3 473.5,84.9 474.0,84.6 474.5,84.9 475.0,86.5 475.5,86.9 476.0,87.2 476.5,88.5 477.0,89.3 477.5,90.7 478.0,91.6 478.5,91.4 479.0,91.9 479.5,92.5 480.0,92.1 480.5,92.5 481.0,94.4 481.5,93.9 482.0,95.8 482.5,96.7 483.0,97.1 483.5,98.1 484.0,98.8 484.5,100.1 485.0,99.8 485.5,99.9 486.0,100.2 486.5,102.2 487.0,102.8 487.5,102.1 488.0,102.2 488.5,102.3 489.0,103.0 489.5,103.8 490.0,106.1 490.5,104.5 491.0,105.9 491.5,106.5 492.0,106.2 492.5,106.6 493.0,106.8 493.5,107.4 494.0,108.7 494.5,107.7 495.0,109.4 495.5,109.3 496.0,110.7 496.5,110.9 497.0,111.7 497.5,111.8 498.0,112.3 498.5,111.9 499.0,111.0 499.5,111.7 500.0,112.1 500.5,113.4 501.0,111.2 501.5,111.3 502.0,112.3 502.5,111.2 503.0,111.3 503.5,113.2 504.0,113.8 504.5,112.5 505.0,113.5 505.5,113.9 506.0,113.9 506.5,113.7 507.0,113.4 507.5,112.5 508.0,112.2 508.5,113.0 509.0,113.1 509.5,114.4 510.0,113.6 510.5,111.6 511.0,112.0 511.5,112.7 512.0,113.2 512.5,113.3 513.0,112.8 513.5,114.2 514.0,113.4 514.5,114.0 515.0,113.7 515.5,112.8 516.0,114.2 516.5,112.2 517.0,112.2 517.5,113.2 518.0,113.3 518.5,114.1 519.0,114.0 519.5,113.7 520.0,115.5 520.5,114.8 521.0,114.4 521.5,113.6 522.0,113.3 522.5,114.2 523.0,114.7 523.5,114.5 524.0,114.0 524.5,114.7 525.0,113.3 525.5,113.5 526.0,113.7 526.5,113.4 527.0,114.0 527.5,113.7 528.0,113.5 528.5,115.3 529.0,115.6 529.5,116.1 530.0,115.5 530.5,115.9 531.0,116.0 531.5,116.4 532.0,117.4 532.5,116.2 533.0,115.8 533.5,115.3 534.0,112.4 534.5,112.3 535.0,113.3 535.5,114.3 536.0,114.0" fill="none" stroke="#22ee22" stroke-width="1.2" stroke-linejoin="round"/>
<path d="M315.5,142.7 316.0,143.5 316.5,142.4 317.0,143.4 317.5,144.3 318.0,143.6 318.5,141.9 319.0,143.1 319.5,142.3 320.0,141.6 320.5,141.6 321.0,141.1 321.5,142.2 322.0,142.6 322.5,143.2 323.0,143.0 323.5,141.6 324.0,141.3 324.5,142.1 325.0,141.4 325.5,144.0 326.0,142.7 326.5,141.5 327.0,142.4 327.5,142.6 328.0,142.0 328.5,141.4 329.0,141.7 329.5,142.2 330.0,142.4 330.5,141.6 331.0,141.8 331.5,142.2 332.0,142.4 332.5,139.0 333.0,138.9 333.5,139.0 334.0,139.6 334.5,140.3 335.0,141.4 335.5,141.7 336.0,141.3 336.5,141.1 337.0,142.6 337.5,141.3 338.0,141.4 338.5,142.6 339.0,142.2 339.5,139.7 340.0,140.5 340.5,140.2 341.0,140.3 341.5,141.5 342.0,141.6 342.5,141.0 343.0,141.7 343.5,141.7 344.0,141.4 344.5,141.4 345.0,141.3 345.5,140.8 346.0,140.3 346.5,140.5 347.0,139.6 347.5,138.9 348.0,140.8 348.5,140.5 349.0,140.5 349.5,140.4 350.0,140.5 350.5,140.6 351.0,140.6 351.5,139.9 352.0,141.0 352.5,140.2 353.0,141.3 353.5,139.2 354.0,138.8 354.5,140.4 355.0,140.3 355.5,139.8 356.0,140.4 356.5,139.5 357.0,140.0 357.5,138.1 358.0,138.7 358.5,138.8 359.0,140.0 359.5,141.0 360.0,140.0 360.5,141.7 361.0,140.6 361.5,138.7 362.0,137.2 362.5,139.9 363.0,140.0 363.5,139.6 364.0,139.2 364.5,138.7 365.0,140.6 365.5,140.4 366.0,142.0 366.5,141.2 367.0,138.6 367.5,140.1 368.0,139.8 368.5,139.7 369.0,141.4 369.5,140.6 370.0,141.5 370.5,140.9 371.0,139.8 371.5,140.3 372.0,139.5 372.5,140.7 373.0,141.1 373.5,140.5 374.0,140.6 374.5,140.6 375.0,139.7 375.5,140.2 376.0,139.5 376.5,139.7 377.0,138.4 377.5,138.5 378.0,138.8 378.5,137.9 379.0,137.6 379.5,137.2 380.0,138.1 380.5,137.3 381.0,137.8 381.5,139.0 382.0,138.7 382.5,136.5 383.0,136.8 383.5,137.8 384.0,137.1 384.5,137.9 385.0,137.9 385.5,137.7 386.0,136.8 386.5,136.1 387.0,135.8 387.5,135.9 388.0,136.3 388.5,136.4 389.0,135.8 389.5,135.7 390.0,135.9 390.5,134.0 391.0,133.7 391.5,133.4 392.0,133.7 392.5,133.8 393.0,133.8 393.5,133.2 394.0,134.1 394.5,134.3 395.0,132.6 395.5,133.0 396.0,132.2 396.5,134.2 397.0,133.4 397.5,132.9 398.0,133.0 398.5,132.7 399.0,132.6 399.5,134.0 400.0,133.5 400.5,133.7 401.0,134.1 401.5,132.3 402.0,133.7 402.5,133.5 403.0,133.6 403.5,131.9 404.0,132.4 404.5,132.3 405.0,131.3 405.5,133.3 406.0,132.8 406.5,131.8 407.0,131.5 407.5,132.0 408.0,132.4 408.5,132.1 409.0,132.5 409.5,133.0 410.0,130.7 410.5,130.1 411.0,129.2 411.5,129.6 412.0,131.1 412.5,131.3 413.0,129.8 413.5,129.5 414.0,130.6 414.5,129.8 415.0,129.7 415.5,129.9 416.0,128.1 416.5,129.4 417.0,129.8 417.5,130.2 418.0,129.0 418.5,128.4 419.0,128.2 419.5,128.9 420.0,129.1 420.5,129.3 421.0,130.9 421.5,131.4 422.0,129.8 422.5,128.9 423.0,130.6 423.5,129.7 424.0,130.7 424.5,131.5 425.0,130.0 425.5,129.3 426.0,129.2 426.5,128.3 427.0,127.6 427.5,127.8 428.0,129.0 428.5,128.5 429.0,128.5 429.5,128.2 430.0,127.2 430.5,129.2 431.0,126.9 431.5,127.1 432.0,128.3 432.5,127.2 433.0,128.4 433.5,129.8 434.0,128.6 434.5,128.9 435.0,127.8 435.5,128.7 436.0,128.8 436.5,129.0 437.0,130.2 437.5,130.1 438.0,130.9 438.5,130.6 439.0,128.8 439.5,129.1 440.0,129.4 440.5,127.9 441.0,129.5 441.5,129.3 442.0,129.5 442.5,128.4 443.0,128.6 443.5,129.0 444.0,128.6 444.5,128.8 445.0,126.8 445.5,128.9 446.0,127.7 446.5,126.0 447.0,125.9 447.5,125.8 448.0,126.9 448.5,126.0 449.0,126.4 449.5,125.3 450.0,127.4 450.5,126.8 451.0,127.6 451.5,125.1 452.0,124.9 452.5,123.0 453.0,123.1 453.5,123.0 454.0,120.6 454.5,119.3 455.0,118.4 455.5,117.2 456.0,117.1 456.5,116.6 457.0,115.6 457.5,116.3 458.0,116.8 458.5,115.1 459.0,114.5 459.5,114.3 460.0,113.8 460.5,112.7 461.0,113.2 461.5,113.2 462.0,112.8 462.5,111.6 463.0,112.6 463.5,112.8 464.0,110.8 464.5,109.7 465.0,110.1 465.5,108.5 466.0,108.6 466.5,108.4 467.0,107.6 467.5,107.6 468.0,106.4 468.5,106.8 469.0,105.7 469.5,109.2 470.0,110.7 470.5,111.4 471.0,111.1 471.5,111.8 472.0,112.5 472.5,112.9 473.0,113.1 473.5,111.7 474.0,112.3 474.5,111.9 475.0,111.3 475.5,111.1 476.0,112.8 476.5,114.6 477.0,113.7 477.5,116.3 478.0,117.9 478.5,117.5 479.0,117.4 479.5,118.0 480.0,119.7 480.5,119.7 481.0,119.3 481.5,120.7 482.0,119.6 482.5,121.3 483.0,123.5 483.5,124.3 484.0,125.4 484.5,126.0 485.0,126.8 485.5,126.9 486.0,126.3 486.5,126.7 487.0,127.2 487.5,129.0 488.0,130.6 488.5,130.6 489.0,129.8 489.5,129.5 490.0,130.0 490.5,131.9 491.0,132.3 491.5,132.4 492.0,131.9 492.5,133.4 493.0,133.8 493.5,134.0 494.0,134.3 494.5,136.2 495.0,135.7 495.5,137.3 496.0,137.9 496.5,137.3 497.0,137.9 497.5,137.3 498.0,136.5 498.5,136.5 499.0,136.1 499.5,137.1 500.0,137.4 500.5,138.1 501.0,138.8 501.5,135.6 502.0,137.0 502.5,135.9 503.0,137.1 503.5,136.9 504.0,137.8 504.5,139.5 505.0,137.8 505.5,138.5 506.0,138.8 506.5,137.3 507.0,138.8 507.5,139.2 508.0,139.0 508.5,138.7 509.0,142.2 509.5,141.0 510.0,139.1 510.5,138.7 511.0,139.1 511.5,139.4 512.0,139.8 512.5,139.3 513.0,140.4 513.5,140.2 514.0,139.3 514.5,139.3 515.0,139.8 515.5,141.2 516.0,141.8 516.5,141.4 517.0,141.5 517.5,141.8 518.0,143.7 518.5,142.4 519.0,142.7 519.5,143.1 520.0,141.8 520.5,142.2 521.0,142.3 521.5,141.9 522.0,142.6 522.5,143.5 523.0,144.2 523.5,143.3 524.0,143.2 524.5,145.2 525.0,143.2 525.5,143.2 526.0,143.9 526.5,143.6 527.0,143.9 527.5,143.7 528.0,144.1 528.5,144.8 529.0,143.9 529.5,143.7 530.0,143.4 530.5,142.9 531.0,142.9 531.5,141.9 532.0,143.1 532.5,144.7 533.0,145.6 533.5,145.8 534.0,143.8 534.5,144.9 535.0,143.5 535.5,143.3 536.0,144.9" fill="none" stroke="#1a7a1a" stroke-width="1.2" stroke-linejoin="round"/>
<path d="M315.5,167.5 316.0,168.6 316.5,168.7 317.0,168.4 317.5,167.7 318.0,168.3 318.5,167.9 319.0,168.9 319.5,169.7 320.0,168.0 320.5,167.7 321.0,167.7 321.5,166.9 322.0,166.6 322.5,167.3 323.0,167.5 323.5,166.4 324.0,166.7 324.5,167.7 325.0,166.9 325.5,166.6 326.0,168.5 326.5,169.4 327.0,167.6 327.5,166.7 328.0,167.5 328.5,166.7 329.0,167.0 329.5,167.0 330.0,167.9 330.5,165.8 331.0,164.9 331.5,165.1 332.0,167.0 332.5,167.2 333.0,166.1 333.5,167.2 334.0,168.0 334.5,167.7 335.0,167.4 335.5,167.9 336.0,168.8 336.5,168.5 337.0,168.6 337.5,168.2 338.0,167.6 338.5,166.9 339.0,167.3 339.5,167.2 340.0,167.1 340.5,168.0 341.0,168.2 341.5,168.6 342.0,166.8 342.5,167.5 343.0,167.0 343.5,166.5 344.0,166.1 344.5,167.6 345.0,168.1 345.5,167.2 346.0,166.3 346.5,166.6 347.0,166.5 347.5,168.1 348.0,166.5 348.5,165.2 349.0,165.7 349.5,166.3 350.0,166.6 350.5,167.4 351.0,168.9 351.5,167.8 352.0,167.0 352.5,165.5 353.0,166.2 353.5,167.1 354.0,166.7 354.5,167.7 355.0,167.3 355.5,168.2 356.0,167.8 356.5,166.4 357.0,165.9 357.5,164.9 358.0,164.1 358.5,165.2 359.0,166.4 359.5,167.9 360.0,167.2 360.5,166.6 361.0,165.5 361.5,166.6 362.0,166.7 362.5,165.9 363.0,166.5 363.5,166.7 364.0,164.9 364.5,165.9 365.0,165.9 365.5,165.5 366.0,165.3 366.5,166.8 367.0,167.6 367.5,168.2 368.0,166.2 368.5,165.3 369.0,166.1 369.5,164.8 370.0,164.4 370.5,163.2 371.0,165.4 371.5,166.1 372.0,166.0 372.5,165.7 373.0,165.0 373.5,164.5 374.0,165.0 374.5,164.2 375.0,165.3 375.5,164.5 376.0,163.6 376.5,164.9 377.0,164.4 377.5,164.6 378.0,163.9 378.5,162.0 379.0,163.1 379.5,162.1 380.0,163.5 380.5,162.1 381.0,161.0 381.5,162.1 382.0,162.7 382.5,162.8 383.0,161.8 383.5,162.8 384.0,161.5 384.5,161.5 385.0,161.1 385.5,161.2 386.0,162.2 386.5,161.6 387.0,162.1 387.5,162.5 388.0,160.7 388.5,160.0 389.0,160.2 389.5,160.1 390.0,160.7 390.5,159.2 391.0,160.3 391.5,161.0 392.0,160.6 392.5,159.2 393.0,159.5 393.5,159.2 394.0,159.8 394.5,159.5 395.0,160.0 395.5,159.2 396.0,160.2 396.5,157.7 397.0,157.1 397.5,157.9 398.0,156.7 398.5,157.7 399.0,156.7 399.5,157.1 400.0,156.4 400.5,156.3 401.0,156.7 401.5,156.6 402.0,156.3 402.5,158.1 403.0,157.4 403.5,156.1 404.0,156.8 404.5,157.1 405.0,157.5 405.5,158.2 406.0,156.4 406.5,156.9 407.0,157.2 407.5,156.5 408.0,156.2 408.5,153.4 409.0,153.6 409.5,155.7 410.0,154.0 410.5,154.1 411.0,154.8 411.5,155.4 412.0,156.6 412.5,154.6 413.0,154.9 413.5,155.7 414.0,154.5 414.5,154.8 415.0,156.5 415.5,157.1 416.0,156.8 416.5,154.1 417.0,154.5 417.5,155.2 418.0,155.0 418.5,155.1 419.0,157.7 419.5,156.7 420.0,155.4 420.5,155.6 421.0,155.4 421.5,155.2 422.0,155.3 422.5,156.0 423.0,156.1 423.5,155.0 424.0,155.2 424.5,155.8 425.0,155.4 425.5,156.5 426.0,156.9 426.5,155.7 427.0,156.0 427.5,157.6 428.0,158.2 428.5,157.3 429.0,157.5 429.5,156.4 430.0,155.1 430.5,156.0 431.0,156.2 431.5,156.6 432.0,156.5 432.5,156.7 433.0,156.1 433.5,156.6 434.0,157.2 434.5,156.9 435.0,157.5 435.5,155.7 436.0,155.5 436.5,157.2 437.0,158.5 437.5,158.1 438.0,157.6 438.5,156.4 439.0,157.0 439.5,157.7 440.0,156.3 440.5,157.2 441.0,157.6 441.5,157.9 442.0,156.8 442.5,157.5 443.0,156.3 443.5,158.0 444.0,157.9 444.5,156.8 445.0,158.2 445.5,158.8 446.0,157.7 446.5,159.2 447.0,157.5 447.5,157.4 448.0,157.9 448.5,155.3 449.0,156.2 449.5,155.7 450.0,155.3 450.5,154.0 451.0,154.2 451.5,152.9 452.0,152.1 452.5,151.8 453.0,150.8 453.5,152.3 454.0,150.6 454.5,149.8 455.0,149.5 455.5,149.4 456.0,149.8 456.5,149.8 457.0,148.7 457.5,147.7 458.0,147.2 458.5,147.1 459.0,146.7 459.5,145.0 460.0,142.5 460.5,144.0 461.0,143.6 461.5,142.4 462.0,141.5 462.5,139.9 463.0,138.3 463.5,137.6 464.0,137.1 464.5,136.3 465.0,135.0 465.5,135.0 466.0,135.7 466.5,135.3 467.0,135.6 467.5,134.1 468.0,134.8 468.5,135.4 469.0,135.0 469.5,134.5 470.0,136.1 470.5,136.2 471.0,137.5 471.5,137.7 472.0,138.9 472.5,138.9 473.0,138.2 473.5,139.1 474.0,139.6 474.5,140.9 475.0,141.0 475.5,141.4 476.0,142.9 476.5,144.4 477.0,145.2 477.5,146.3 478.0,146.8 478.5,147.6 479.0,148.6 479.5,149.1 480.0,149.4 480.5,150.0 481.0,152.5 481.5,152.4 482.0,152.4 482.5,152.6 483.0,153.3 483.5,154.1 484.0,153.8 484.5,153.1 485.0,154.7 485.5,154.3 486.0,155.7 486.5,156.7 487.0,158.3 487.5,159.8 488.0,159.9 488.5,159.3 489.0,158.7 489.5,158.8 490.0,159.7 490.5,158.7 491.0,160.0 491.5,160.9 492.0,162.1 492.5,162.2 493.0,162.7 493.5,162.5 494.0,162.7 494.5,161.9 495.0,163.1 495.5,165.1 496.0,165.2 496.5,165.6 497.0,164.8 497.5,166.3 498.0,165.5 498.5,166.4 499.0,166.4 499.5,165.5 500.0,166.7 500.5,166.5 501.0,166.6 501.5,166.9 502.0,166.8 502.5,166.4 503.0,166.9 503.5,166.5 504.0,166.7 504.5,166.3 505.0,165.4 505.5,165.5 506.0,165.8 506.5,166.4 507.0,167.7 507.5,166.2 508.0,166.8 508.5,165.3 509.0,165.3 509.5,165.8 510.0,164.7 510.5,164.4 511.0,165.9 511.5,166.7 512.0,167.1 512.5,166.8 513.0,169.0 513.5,168.5 514.0,167.6 514.5,169.2 515.0,169.3 515.5,168.5 516.0,169.4 516.5,169.1 517.0,169.3 517.5,169.1 518.0,168.0 518.5,169.0 519.0,168.9 519.5,167.9 520.0,167.6 520.5,168.7 521.0,168.4 521.5,168.5 522.0,169.1 522.5,169.1 523.0,167.7 523.5,168.6 524.0,169.5 524.5,169.9 525.0,170.8 525.5,170.3 526.0,170.4 526.5,171.0 527.0,170.0 527.5,170.9 528.0,171.5 528.5,171.1 529.0,171.7 529.5,171.3 530.0,169.7 530.5,170.3 531.0,170.0 531.5,170.0 532.0,169.7 532.5,170.5 533.0,170.4 533.5,169.3 534.0,169.5 534.5,169.9 535.0,169.0 535.5,168.6 536.0,168.5" fill="none" stroke="#1b4f72" stroke-width="1.2" stroke-linejoin="round"/>
<path d="M315.5,194.7 316.0,194.9 316.5,195.3 317.0,195.9 317.5,196.0 318.0,196.0 318.5,196.0 319.0,196.1 319.5,195.4 320.0,195.5 320.5,195.4 321.0,195.1 321.5,194.8 322.0,194.6 322.5,194.6 323.0,194.2 323.5,194.6 324.0,194.7 324.5,194.8 325.0,194.9 325.5,195.1 326.0,194.7 326.5,194.7 327.0,194.0 327.5,193.4 328.0,193.1 328.5,194.3 329.0,193.7 329.5,194.3 330.0,195.0 330.5,194.6 331.0,195.3 331.5,195.7 332.0,195.6 332.5,196.1 333.0,195.7 333.5,194.9 334.0,195.0 334.5,194.6 335.0,194.0 335.5,193.6 336.0,194.9 336.5,194.4 337.0,194.4 337.5,194.1 338.0,194.2 338.5,194.2 339.0,194.0 339.5,193.6 340.0,193.3 340.5,193.4 341.0,193.8 341.5,194.8 342.0,194.9 342.5,195.3 343.0,195.0 343.5,194.6 344.0,193.8 344.5,193.9 345.0,193.1 345.5,193.3 346.0,194.2 346.5,194.2 347.0,194.5 347.5,194.1 348.0,193.4 348.5,193.3 349.0,193.3 349.5,193.9 350.0,194.6 350.5,193.9 351.0,193.6 351.5,193.5 352.0,193.3 352.5,192.9 353.0,193.1 353.5,193.3 354.0,193.5 354.5,192.9 355.0,193.0 355.5,192.3 356.0,193.0 356.5,192.6 357.0,192.7 357.5,192.6 358.0,192.5 358.5,192.2 359.0,191.7 359.5,192.8 360.0,192.9 360.5,192.9 361.0,193.6 361.5,193.2 362.0,193.1 362.5,192.9 363.0,193.2 363.5,193.1 364.0,192.9 364.5,192.5 365.0,192.5 365.5,192.8 366.0,191.7 366.5,191.8 367.0,191.7 367.5,191.7 368.0,191.0 368.5,191.6 369.0,191.3 369.5,191.4 370.0,191.3 370.5,190.8 371.0,190.9 371.5,190.4 372.0,190.4 372.5,190.7 373.0,190.9 373.5,191.1 374.0,191.1 374.5,191.9 375.0,191.7 375.5,190.9 376.0,190.7 376.5,190.5 377.0,190.5 377.5,190.3 378.0,190.1 378.5,190.9 379.0,190.8 379.5,190.5 380.0,190.3 380.5,190.2 381.0,190.7 381.5,190.6 382.0,190.8 382.5,189.2 383.0,189.6 383.5,190.1 384.0,190.7 384.5,190.2 385.0,189.2 385.5,189.5 386.0,189.2 386.5,188.5 387.0,188.5 387.5,189.1 388.0,189.5 388.5,189.5 389.0,188.8 389.5,189.7 390.0,188.7 390.5,188.6 391.0,187.8 391.5,188.5 392.0,188.4 392.5,188.5 393.0,188.2 393.5,187.9 394.0,187.8 394.5,186.8 395.0,187.3 395.5,187.5 396.0,187.1 396.5,186.9 397.0,186.9 397.5,187.3 398.0,187.0 398.5,186.7 399.0,186.1 399.5,185.4 400.0,185.2 400.5,185.4 401.0,185.2 401.5,185.2 402.0,185.5 402.5,185.4 403.0,185.3 403.5,185.3 404.0,185.1 404.5,184.8 405.0,184.8 405.5,183.8 406.0,184.4 406.5,183.7 407.0,184.1 407.5,184.0 408.0,184.3 408.5,184.1 409.0,183.5 409.5,183.9 410.0,183.8 410.5,183.7 411.0,183.6 411.5,183.8 412.0,183.9 412.5,183.7 413.0,182.8 413.5,182.8 414.0,182.9 414.5,183.6 415.0,183.5 415.5,183.2 416.0,183.5 416.5,183.2 417.0,183.0 417.5,182.9 418.0,182.2 418.5,182.7 419.0,182.8 419.5,182.5 420.0,182.0 420.5,182.3 421.0,182.8 421.5,182.4 422.0,181.9 422.5,182.2 423.0,181.6 423.5,180.9 424.0,181.2 424.5,181.3 425.0,181.5 425.5,181.5 426.0,181.8 426.5,181.8 427.0,181.7 427.5,181.6 428.0,182.0 428.5,182.4 429.0,182.6 429.5,182.6 430.0,181.0 430.5,181.0 431.0,181.3 431.5,181.6 432.0,181.2 432.5,182.1 433.0,182.3 433.5,182.1 434.0,182.3 434.5,182.3 435.0,182.2 435.5,182.7 436.0,182.6 436.5,182.3 437.0,182.5 437.5,182.8 438.0,182.7 438.5,183.7 439.0,183.3 439.5,184.4 440.0,184.7 440.5,184.2 441.0,184.3 441.5,184.9 442.0,184.7 442.5,184.3 443.0,184.5 443.5,185.5 444.0,184.6 444.5,185.0 445.0,184.9 445.5,184.9 446.0,184.7 446.5,184.6 447.0,185.1 447.5,185.2 448.0,184.6 448.5,185.3 449.0,184.5 449.5,184.8 450.0,184.7 450.5,185.1 451.0,185.0 451.5,185.1 452.0,184.8 452.5,184.9 453.0,184.7 453.5,185.3 454.0,184.4 454.5,184.6 455.0,184.4 455.5,184.2 456.0,183.6 456.5,183.7 457.0,182.9 457.5,182.3 458.0,182.6 458.5,181.7 459.0,182.2 459.5,181.6 460.0,181.2 460.5,180.6 461.0,180.2 461.5,179.3 462.0,178.6 462.5,177.9 463.0,177.8 463.5,177.5 464.0,177.1 464.5,176.3 465.0,175.4 465.5,174.0 466.0,174.0 466.5,173.9 467.0,173.2 467.5,173.1 468.0,173.0 468.5,172.3 469.0,172.1 469.5,171.5 470.0,170.2 470.5,169.7 471.0,169.3 471.5,169.2 472.0,168.5 472.5,168.1 473.0,167.5 473.5,167.5 474.0,167.4 474.5,167.6 475.0,167.6 475.5,167.3 476.0,167.2 476.5,167.0 477.0,167.0 477.5,167.7 478.0,166.6 478.5,167.2 479.0,168.0 479.5,169.1 480.0,169.1 480.5,170.1 481.0,171.2 481.5,171.7 482.0,171.8 482.5,172.8 483.0,173.4 483.5,174.8 484.0,175.3 484.5,177.0 485.0,177.5 485.5,177.7 486.0,178.1 486.5,178.3 487.0,179.3 487.5,180.6 488.0,180.9 488.5,181.8 489.0,181.8 489.5,182.6 490.0,184.1 490.5,183.7 491.0,184.8 491.5,185.6 492.0,185.1 492.5,185.2 493.0,185.7 493.5,186.9 494.0,187.3 494.5,187.8 495.0,188.6 495.5,189.1 496.0,189.5 496.5,189.7 497.0,190.5 497.5,190.4 498.0,191.4 498.5,191.2 499.0,191.0 499.5,191.5 500.0,191.8 500.5,191.0 501.0,191.5 501.5,191.2 502.0,191.3 502.5,192.1 503.0,191.9 503.5,192.3 504.0,192.3 504.5,193.3 505.0,193.2 505.5,192.7 506.0,192.4 506.5,192.4 507.0,192.9 507.5,193.1 508.0,193.7 508.5,193.8 509.0,193.9 509.5,194.0 510.0,194.0 510.5,194.2 511.0,194.5 511.5,194.8 512.0,194.4 512.5,193.7 513.0,193.7 513.5,194.2 514.0,193.4 514.5,193.8 515.0,194.4 515.5,194.4 516.0,194.2 516.5,195.3 517.0,195.8 517.5,195.5 518.0,196.0 518.5,196.3 519.0,195.5 519.5,196.6 520.0,195.8 520.5,195.6 521.0,195.2 521.5,195.5 522.0,195.1 522.5,195.4 523.0,196.0 523.5,196.1 524.0,195.9 524.5,196.6 525.0,196.0 525.5,196.4 526.0,196.2 526.5,196.3 527.0,196.2 527.5,196.3 528.0,196.2 528.5,195.9 529.0,195.8 529.5,196.2 530.0,196.2 530.5,195.8 531.0,195.7 531.5,195.7 532.0,195.9 532.5,196.2 533.0,196.3 533.5,196.0 534.0,196.2 534.5,195.7 535.0,194.8 535.5,195.4 536.0,195.1" fill="none" stroke="#ee22cc" stroke-width="1.2" stroke-linejoin="round"/>
<path d="M315.5,221.8 316.0,221.2 316.5,222.3 317.0,221.4 317.5,222.2 318.0,222.0 318.5,221.2 319.0,220.5 319.5,221.7 320.0,222.4 320.5,223.2 321.0,224.5 321.5,224.0 322.0,223.7 322.5,223.2 323.0,223.0 323.5,222.6 324.0,221.9 324.5,223.8 325.0,221.8 325.5,222.4 326.0,222.8 326.5,222.9 327.0,222.0 327.5,222.1 328.0,221.9 328.5,221.3 329.0,221.8 329.5,221.8 330.0,221.7 330.5,222.6 331.0,221.7 331.5,222.4 332.0,222.0 332.5,222.6 333.0,222.7 333.5,222.8 334.0,221.9 334.5,221.6 335.0,221.3 335.5,221.9 336.0,222.8 336.5,223.6 337.0,222.8 337.5,222.8 338.0,221.4 338.5,220.0 339.0,220.3 339.5,220.7 340.0,220.2 340.5,219.6 341.0,221.3 341.5,221.1 342.0,220.3 342.5,223.1 343.0,223.0 343.5,222.5 344.0,223.1 344.5,222.2 345.0,223.6 345.5,221.9 346.0,221.0 346.5,221.4 347.0,221.2 347.5,222.8 348.0,221.3 348.5,221.1 349.0,221.8 349.5,222.4 350.0,223.2 350.5,223.1 351.0,224.5 351.5,223.2 352.0,222.9 352.5,223.3 353.0,222.5 353.5,222.1 354.0,221.7 354.5,221.2 355.0,220.6 355.5,220.6 356.0,219.8 356.5,221.0 357.0,220.0 357.5,222.4 358.0,223.5 358.5,223.7 359.0,222.7 359.5,221.8 360.0,222.7 360.5,222.4 361.0,222.5 361.5,221.5 362.0,222.3 362.5,221.3 363.0,221.4 363.5,219.9 364.0,219.9 364.5,220.8 365.0,220.6 365.5,220.4 366.0,221.3 366.5,221.1 367.0,222.1 367.5,219.6 368.0,220.6 368.5,221.1 369.0,219.7 369.5,219.0 370.0,220.4 370.5,219.6 371.0,219.4 371.5,220.3 372.0,220.1 372.5,220.5 373.0,219.7 373.5,220.1 374.0,220.9 374.5,220.8 375.0,218.6 375.5,219.6 376.0,219.6 376.5,218.9 377.0,220.2 377.5,218.4 378.0,220.3 378.5,219.3 379.0,220.5 379.5,219.8 380.0,218.3 380.5,218.5 381.0,218.8 381.5,219.1 382.0,219.7 382.5,218.4 383.0,218.7 383.5,219.0 384.0,218.4 384.5,217.4 385.0,216.7 385.5,217.7 386.0,218.2 386.5,217.2 387.0,216.1 387.5,217.6 388.0,216.1 388.5,216.5 389.0,216.0 389.5,214.8 390.0,215.6 390.5,215.8 391.0,217.2 391.5,218.7 392.0,217.5 392.5,217.7 393.0,217.8 393.5,216.6 394.0,215.5 394.5,216.8 395.0,215.9 395.5,215.6 396.0,215.1 396.5,214.9 397.0,214.4 397.5,215.1 398.0,215.9 398.5,215.0 399.0,213.6 399.5,213.8 400.0,212.7 400.5,212.6 401.0,214.1 401.5,215.8 402.0,215.2 402.5,213.6 403.0,214.1 403.5,211.8 404.0,211.7 404.5,213.4 405.0,213.7 405.5,212.1 406.0,210.9 406.5,212.1 407.0,212.1 407.5,211.6 408.0,212.1 408.5,211.5 409.0,210.0 409.5,211.3 410.0,210.8 410.5,210.2 411.0,209.5 411.5,210.3 412.0,209.9 412.5,210.8 413.0,210.5 413.5,211.4 414.0,210.7 414.5,210.0 415.0,208.4 415.5,208.1 416.0,209.4 416.5,212.1 417.0,210.0 417.5,208.9 418.0,209.3 418.5,209.7 419.0,208.8 419.5,208.9 420.0,207.5 420.5,207.7 421.0,208.8 421.5,209.9 422.0,209.1 422.5,208.5 423.0,208.7 423.5,209.3 424.0,209.1 424.5,207.9 425.0,208.1 425.5,208.7 426.0,207.6 426.5,206.4 427.0,207.2 427.5,207.5 428.0,208.2 428.5,207.9 429.0,207.1 429.5,206.8 430.0,206.1 430.5,205.7 431.0,205.9 431.5,206.0 432.0,207.4 432.5,206.4 433.0,206.7 433.5,206.5 434.0,208.1 434.5,208.1 435.0,207.6 435.5,208.3 436.0,208.2 436.5,207.7 437.0,209.1 437.5,209.3 438.0,210.3 438.5,210.5 439.0,210.3 439.5,209.7 440.0,208.4 440.5,209.2 441.0,209.2 441.5,209.8 442.0,209.6 442.5,209.0 443.0,208.4 443.5,209.6 444.0,210.8 444.5,210.3 445.0,210.7 445.5,211.8 446.0,210.8 446.5,210.8 447.0,210.3 447.5,212.1 448.0,212.6 448.5,212.5 449.0,211.6 449.5,212.3 450.0,213.8 450.5,213.7 451.0,213.4 451.5,214.1 452.0,212.9 452.5,213.1 453.0,213.7 453.5,212.8 454.0,212.1 454.5,212.4 455.0,212.2 455.5,211.9 456.0,211.9 456.5,211.8 457.0,210.6 457.5,210.0 458.0,210.4 458.5,211.0 459.0,211.4 459.5,209.7 460.0,210.1 460.5,209.9 461.0,209.0 461.5,208.7 462.0,208.7 462.5,209.3 463.0,207.2 463.5,207.1 464.0,206.2 464.5,205.4 465.0,205.8 465.5,205.5 466.0,203.6 466.5,202.8 467.0,202.5 467.5,200.7 468.0,201.2 468.5,200.5 469.0,200.1 469.5,199.7 470.0,200.4 470.5,199.2 471.0,197.9 471.5,198.6 472.0,197.0 472.5,195.9 473.0,194.3 473.5,195.3 474.0,195.1 474.5,195.0 475.0,194.7 475.5,194.2 476.0,193.3 476.5,192.8 477.0,193.5 477.5,193.8 478.0,195.3 478.5,194.3 479.0,194.1 479.5,193.7 480.0,195.6 480.5,194.8 481.0,196.2 481.5,197.8 482.0,197.6 482.5,198.5 483.0,197.0 483.5,197.7 484.0,197.3 484.5,198.9 485.0,199.9 485.5,200.1 486.0,201.9 486.5,202.7 487.0,202.7 487.5,203.0 488.0,202.5 488.5,203.5 489.0,206.2 489.5,205.8 490.0,206.7 490.5,206.7 491.0,208.1 491.5,209.0 492.0,209.2 492.5,208.3 493.0,209.2 493.5,211.3 494.0,211.7 494.5,212.9 495.0,213.0 495.5,212.1 496.0,213.7 496.5,214.8 497.0,214.9 497.5,215.3 498.0,216.2 498.5,216.1 499.0,216.9 499.5,217.0 500.0,215.4 500.5,216.2 501.0,216.4 501.5,216.4 502.0,217.5 502.5,217.5 503.0,218.4 503.5,219.4 504.0,219.3 504.5,217.9 505.0,217.8 505.5,219.1 506.0,219.0 506.5,218.6 507.0,218.9 507.5,219.7 508.0,220.0 508.5,220.6 509.0,219.7 509.5,219.7 510.0,219.8 510.5,220.1 511.0,218.6 511.5,219.2 512.0,218.8 512.5,220.8 513.0,222.2 513.5,223.1 514.0,223.0 514.5,221.9 515.0,222.5 515.5,221.9 516.0,222.3 516.5,221.3 517.0,221.0 517.5,221.7 518.0,223.2 518.5,222.7 519.0,224.3 519.5,225.7 520.0,223.2 520.5,222.8 521.0,221.8 521.5,221.9 522.0,221.7 522.5,222.0 523.0,223.0 523.5,223.6 524.0,223.4 524.5,223.1 525.0,223.1 525.5,223.0 526.0,223.4 526.5,223.2 527.0,223.5 527.5,222.2 528.0,223.1 528.5,224.5 529.0,224.0 529.5,222.5 530.0,223.8 530.5,223.2 531.0,220.7 531.5,221.5 532.0,222.6 532.5,223.1 533.0,224.1 533.5,224.2 534.0,223.9 534.5,221.9 535.0,221.5 535.5,222.3 536.0,223.1" fill="none" stroke="#4a22dd" stroke-width="1.2" stroke-linejoin="round"/>
<path d="M315.5,247.5 316.0,247.4 316.5,248.2 317.0,246.7 317.5,245.7 318.0,246.6 318.5,247.5 319.0,247.5 319.5,245.9 320.0,246.9 320.5,246.4 321.0,247.7 321.5,247.9 322.0,248.3 322.5,248.9 323.0,248.2 323.5,249.0 324.0,249.8 324.5,249.5 325.0,250.2 325.5,248.9 326.0,249.5 326.5,249.3 327.0,248.1 327.5,248.1 328.0,247.8 328.5,247.6 329.0,248.0 329.5,249.0 330.0,248.5 330.5,248.5 331.0,247.3 331.5,247.8 332.0,249.0 332.5,249.4 333.0,249.4 333.5,248.5 334.0,247.7 334.5,247.9 335.0,247.0 335.5,246.5 336.0,248.0 336.5,247.4 337.0,249.3 337.5,247.7 338.0,248.3 338.5,247.4 339.0,247.9 339.5,247.2 340.0,247.7 340.5,247.9 341.0,247.7 341.5,248.4 342.0,249.6 342.5,248.6 343.0,249.2 343.5,248.9 344.0,248.6 344.5,250.3 345.0,247.7 345.5,247.3 346.0,246.2 346.5,246.7 347.0,247.1 347.5,250.7 348.0,249.9 348.5,250.7 349.0,250.7 349.5,249.3 350.0,249.2 350.5,250.1 351.0,249.4 351.5,249.0 352.0,249.0 352.5,247.3 353.0,246.8 353.5,247.5 354.0,248.0 354.5,247.2 355.0,247.1 355.5,247.2 356.0,247.2 356.5,248.0 357.0,247.9 357.5,247.9 358.0,246.5 358.5,246.0 359.0,246.8 359.5,245.7 360.0,246.6 360.5,246.3 361.0,246.0 361.5,247.0 362.0,246.5 362.5,246.0 363.0,245.8 363.5,246.3 364.0,248.9 364.5,246.3 365.0,246.5 365.5,246.4 366.0,247.3 366.5,246.8 367.0,244.7 367.5,246.5 368.0,245.6 368.5,245.9 369.0,245.0 369.5,244.6 370.0,244.9 370.5,246.1 371.0,246.8 371.5,246.0 372.0,246.4 372.5,245.9 373.0,245.9 373.5,245.9 374.0,246.3 374.5,245.4 375.0,245.3 375.5,245.4 376.0,245.4 376.5,244.6 377.0,246.1 377.5,245.2 378.0,245.6 378.5,245.4 379.0,246.0 379.5,243.5 380.0,245.5 380.5,244.8 381.0,243.4 381.5,243.7 382.0,245.6 382.5,245.2 383.0,243.5 383.5,243.1 384.0,244.3 384.5,242.7 385.0,242.7 385.5,242.5 386.0,244.4 386.5,243.5 387.0,244.2 387.5,243.0 388.0,242.1 388.5,243.0 389.0,243.2 389.5,241.3 390.0,242.1 390.5,242.5 391.0,241.7 391.5,241.8 392.0,241.9 392.5,241.3 393.0,240.8 393.5,240.4 394.0,240.4 394.5,239.5 395.0,240.0 395.5,239.0 396.0,239.7 396.5,239.9 397.0,239.2 397.5,240.3 398.0,241.8 398.5,242.2 399.0,240.1 399.5,241.0 400.0,240.6 400.5,240.1 401.0,239.3 401.5,239.3 402.0,240.4 402.5,240.3 403.0,239.4 403.5,238.6 404.0,238.3 404.5,238.9 405.0,240.2 405.5,238.6 406.0,238.4 406.5,238.0 407.0,237.4 407.5,237.9 408.0,238.3 408.5,236.9 409.0,236.3 409.5,237.8 410.0,237.9 410.5,238.1 411.0,237.3 411.5,236.9 412.0,237.3 412.5,236.7 413.0,235.8 413.5,236.2 414.0,237.1 414.5,236.0 415.0,237.0 415.5,237.3 416.0,236.1 416.5,236.1 417.0,235.9 417.5,236.4 418.0,236.7 418.5,235.1 419.0,234.1 419.5,235.5 420.0,235.5 420.5,235.7 421.0,235.7 421.5,236.7 422.0,234.9 422.5,235.8 423.0,234.6 423.5,235.2 424.0,236.0 424.5,234.3 425.0,234.6 425.5,234.3 426.0,234.0 426.5,234.1 427.0,233.3 427.5,232.8 428.0,233.9 428.5,234.6 429.0,233.9 429.5,232.8 430.0,235.2 430.5,235.6 431.0,235.3 431.5,233.9 432.0,233.5 432.5,234.0 433.0,233.3 433.5,235.0 434.0,234.9 434.5,235.1 435.0,234.1 435.5,233.6 436.0,233.5 436.5,234.4 437.0,234.5 437.5,234.6 438.0,235.2 438.5,235.6 439.0,236.9 439.5,236.4 440.0,235.5 440.5,235.8 441.0,237.3 441.5,236.6 442.0,236.7 442.5,236.5 443.0,237.1 443.5,237.3 444.0,236.7 444.5,236.8 445.0,237.9 445.5,238.7 446.0,239.1 446.5,239.4 447.0,238.6 447.5,238.2 448.0,239.1 448.5,238.0 449.0,238.3 449.5,237.1 450.0,237.6 450.5,237.7 451.0,237.5 451.5,238.8 452.0,238.6 452.5,238.8 453.0,239.1 453.5,238.9 454.0,240.6 454.5,240.1 455.0,240.3 455.5,239.3 456.0,239.3 456.5,239.5 457.0,239.5 457.5,239.3 458.0,239.6 458.5,240.8 459.0,240.0 459.5,239.3 460.0,238.5 460.5,240.2 461.0,240.3 461.5,239.3 462.0,238.5 462.5,236.7 463.0,235.8 463.5,235.4 464.0,234.8 464.5,233.4 465.0,232.4 465.5,232.7 466.0,232.5 466.5,230.3 467.0,230.6 467.5,231.5 468.0,230.2 468.5,230.0 469.0,228.2 469.5,228.7 470.0,227.2 470.5,225.9 471.0,225.7 471.5,227.5 472.0,226.0 472.5,224.3 473.0,224.5 473.5,224.3 474.0,225.2 474.5,223.2 475.0,221.7 475.5,221.7 476.0,222.3 476.5,222.6 477.0,223.5 477.5,221.9 478.0,221.6 478.5,222.1 479.0,223.3 479.5,223.9 480.0,223.7 480.5,223.2 481.0,224.7 481.5,225.8 482.0,228.1 482.5,227.3 483.0,228.5 483.5,227.1 484.0,227.1 484.5,227.1 485.0,227.6 485.5,227.7 486.0,228.3 486.5,229.2 487.0,229.7 487.5,231.0 488.0,231.4 488.5,231.9 489.0,233.6 489.5,233.9 490.0,234.2 490.5,234.5 491.0,235.0 491.5,235.9 492.0,235.6 492.5,237.3 493.0,238.9 493.5,239.8 494.0,239.2 494.5,238.2 495.0,238.8 495.5,239.9 496.0,241.3 496.5,241.5 497.0,241.7 497.5,243.4 498.0,242.8 498.5,244.0 499.0,244.7 499.5,243.3 500.0,243.9 500.5,243.6 501.0,243.1 501.5,242.2 502.0,242.0 502.5,243.5 503.0,243.8 503.5,244.6 504.0,244.1 504.5,244.4 505.0,244.7 505.5,243.9 506.0,243.4 506.5,244.9 507.0,245.6 507.5,245.2 508.0,245.7 508.5,246.7 509.0,248.3 509.5,247.1 510.0,247.6 510.5,249.2 511.0,248.6 511.5,249.4 512.0,246.6 512.5,248.3 513.0,248.1 513.5,246.5 514.0,247.8 514.5,248.9 515.0,249.6 515.5,250.2 516.0,249.5 516.5,248.5 517.0,248.3 517.5,248.5 518.0,249.0 518.5,248.6 519.0,248.8 519.5,249.7 520.0,249.8 520.5,251.5 521.0,252.4 521.5,250.3 522.0,249.5 522.5,248.5 523.0,248.0 523.5,249.2 524.0,248.6 524.5,248.2 525.0,248.7 525.5,249.9 526.0,249.6 526.5,249.5 527.0,250.5 527.5,250.7 528.0,250.9 528.5,251.4 529.0,250.1 529.5,250.3 530.0,249.8 530.5,250.8 531.0,251.3 531.5,250.0 532.0,251.3 532.5,249.9 533.0,251.1 533.5,250.9 534.0,250.0 534.5,249.2 535.0,249.4 535.5,249.8 536.0,249.4" fill="none" stroke="#7a2a86" stroke-width="1.2" stroke-linejoin="round"/>
<path d="M315.5,276.8 316.0,275.3 316.5,275.7 317.0,275.8 317.5,274.3 318.0,275.3 318.5,274.5 319.0,273.0 319.5,273.6 320.0,274.4 320.5,275.7 321.0,275.4 321.5,276.8 322.0,277.6 322.5,277.8 323.0,278.1 323.5,277.4 324.0,276.3 324.5,276.6 325.0,277.0 325.5,276.6 326.0,276.0 326.5,274.5 327.0,275.4 327.5,275.7 328.0,274.5 328.5,274.9 329.0,275.7 329.5,275.5 330.0,276.1 330.5,276.4 331.0,274.7 331.5,274.6 332.0,275.3 332.5,276.0 333.0,276.8 333.5,274.5 334.0,274.7 334.5,275.4 335.0,276.3 335.5,277.2 336.0,275.5 336.5,275.0 337.0,274.0 337.5,275.1 338.0,273.8 338.5,275.2 339.0,275.9 339.5,275.8 340.0,273.5 340.5,273.4 341.0,274.6 341.5,273.4 342.0,273.7 342.5,274.0 343.0,275.0 343.5,275.0 344.0,275.1 344.5,274.5 345.0,274.5 345.5,274.4 346.0,275.0 346.5,274.6 347.0,275.4 347.5,273.5 348.0,274.9 348.5,274.5 349.0,275.4 349.5,275.0 350.0,275.5 350.5,276.2 351.0,275.0 351.5,274.7 352.0,274.4 352.5,274.5 353.0,272.9 353.5,273.3 354.0,273.4 354.5,273.0 355.0,273.2 355.5,272.2 356.0,274.1 356.5,274.4 357.0,275.9 357.5,274.3 358.0,273.2 358.5,273.7 359.0,272.3 359.5,273.1 360.0,272.8 360.5,272.9 361.0,273.4 361.5,273.6 362.0,275.2 362.5,275.1 363.0,273.4 363.5,274.3 364.0,272.8 364.5,273.2 365.0,272.2 365.5,272.0 366.0,273.7 366.5,273.1 367.0,272.6 367.5,272.4 368.0,272.5 368.5,274.0 369.0,272.6 369.5,271.8 370.0,272.8 370.5,271.5 371.0,271.8 371.5,273.2 372.0,273.0 372.5,272.5 373.0,272.0 373.5,271.5 374.0,271.4 374.5,272.0 375.0,273.2 375.5,273.7 376.0,272.7 376.5,271.9 377.0,272.6 377.5,270.8 378.0,270.9 378.5,271.1 379.0,270.4 379.5,270.1 380.0,271.1 380.5,269.9 381.0,269.8 381.5,269.9 382.0,270.5 382.5,269.7 383.0,271.2 383.5,270.9 384.0,270.7 384.5,270.5 385.0,270.1 385.5,269.5 386.0,270.9 386.5,270.9 387.0,270.7 387.5,271.4 388.0,270.3 388.5,270.8 389.0,270.5 389.5,269.5 390.0,270.2 390.5,268.7 391.0,269.5 391.5,268.7 392.0,269.2 392.5,270.3 393.0,270.1 393.5,269.0 394.0,268.7 394.5,268.2 395.0,267.1 395.5,266.5 396.0,267.0 396.5,267.6 397.0,266.0 397.5,266.4 398.0,267.0 398.5,267.0 399.0,265.9 399.5,267.0 400.0,265.6 400.5,266.3 401.0,267.4 401.5,265.0 402.0,265.3 402.5,265.6 403.0,265.5 403.5,264.6 404.0,264.4 404.5,263.3 405.0,263.8 405.5,264.4 406.0,263.7 406.5,263.0 407.0,262.9 407.5,263.2 408.0,263.4 408.5,263.3 409.0,263.4 409.5,262.2 410.0,260.3 410.5,261.9 411.0,263.6 411.5,262.1 412.0,261.8 412.5,262.5 413.0,263.4 413.5,263.6 414.0,264.2 414.5,263.5 415.0,263.4 415.5,263.3 416.0,262.5 416.5,263.3 417.0,263.4 417.5,263.6 418.0,262.6 418.5,263.2 419.0,261.7 419.5,262.0 420.0,259.6 420.5,259.6 421.0,260.9 421.5,260.8 422.0,261.1 422.5,259.8 423.0,261.7 423.5,262.0 424.0,261.7 424.5,261.8 425.0,261.8 425.5,262.7 426.0,262.2 426.5,260.5 427.0,260.4 427.5,261.7 428.0,261.9 428.5,261.1 429.0,261.6 429.5,261.4 430.0,261.7 430.5,260.0 431.0,259.6 431.5,260.7 432.0,260.6 432.5,261.1 433.0,262.8 433.5,261.9 434.0,261.9 434.5,261.3 435.0,260.9 435.5,261.2 436.0,260.3 436.5,259.2 437.0,261.6 437.5,261.9 438.0,263.1 438.5,263.1 439.0,263.2 439.5,263.7 440.0,264.2 440.5,262.9 441.0,264.2 441.5,263.2 442.0,263.7 442.5,266.0 443.0,265.4 443.5,266.4 444.0,265.4 444.5,265.6 445.0,265.3 445.5,265.5 446.0,264.5 446.5,264.0 447.0,264.7 447.5,263.6 448.0,263.6 448.5,264.9 449.0,264.7 449.5,264.4 450.0,264.0 450.5,264.9 451.0,265.1 451.5,265.6 452.0,265.7 452.5,267.5 453.0,266.7 453.5,265.0 454.0,265.7 454.5,266.0 455.0,266.4 455.5,265.1 456.0,266.7 456.5,266.6 457.0,266.5 457.5,265.1 458.0,265.9 458.5,265.8 459.0,266.8 459.5,265.8 460.0,264.3 460.5,264.4 461.0,263.4 461.5,263.7 462.0,262.5 462.5,262.3 463.0,261.9 463.5,261.6 464.0,260.8 464.5,259.9 465.0,259.7 465.5,259.0 466.0,258.9 466.5,258.4 467.0,256.2 467.5,256.6 468.0,257.8 468.5,257.5 469.0,257.4 469.5,256.9 470.0,255.7 470.5,254.0 471.0,254.5 471.5,254.8 472.0,254.3 472.5,253.7 473.0,253.1 473.5,252.1 474.0,251.6 474.5,250.8 475.0,250.5 475.5,249.0 476.0,248.2 476.5,248.6 477.0,248.0 477.5,245.8 478.0,246.5 478.5,244.9 479.0,247.5 479.5,248.0 480.0,248.4 480.5,247.6 481.0,246.9 481.5,247.4 482.0,248.1 482.5,248.1 483.0,249.1 483.5,250.4 484.0,251.4 484.5,250.9 485.0,249.9 485.5,251.4 486.0,252.0 486.5,253.5 487.0,255.7 487.5,257.2 488.0,257.2 488.5,258.0 489.0,259.2 489.5,258.8 490.0,258.9 490.5,259.8 491.0,259.8 491.5,259.6 492.0,259.6 492.5,260.4 493.0,260.6 493.5,262.1 494.0,262.4 494.5,264.2 495.0,265.3 495.5,264.1 496.0,265.5 496.5,265.3 497.0,266.9 497.5,267.2 498.0,267.1 498.5,267.7 499.0,267.2 499.5,267.7 500.0,268.1 500.5,268.0 501.0,268.5 501.5,267.7 502.0,268.6 502.5,267.8 503.0,268.9 503.5,269.5 504.0,270.1 504.5,269.6 505.0,272.2 505.5,271.3 506.0,271.0 506.5,270.3 507.0,271.7 507.5,271.0 508.0,271.9 508.5,270.9 509.0,271.4 509.5,271.2 510.0,272.3 510.5,271.9 511.0,271.3 511.5,272.1 512.0,271.3 512.5,271.1 513.0,272.4 513.5,271.1 514.0,272.6 514.5,272.5 515.0,272.1 515.5,272.9 516.0,273.8 516.5,273.3 517.0,273.4 517.5,274.4 518.0,274.9 518.5,274.7 519.0,274.0 519.5,273.4 520.0,273.5 520.5,274.6 521.0,275.2 521.5,275.4 522.0,276.4 522.5,275.7 523.0,275.2 523.5,275.0 524.0,276.7 524.5,274.6 525.0,275.2 525.5,275.8 526.0,275.8 526.5,277.7 527.0,277.9 527.5,277.8 528.0,276.3 528.5,276.6 529.0,276.1 529.5,276.1 530.0,276.3 530.5,275.9 531.0,276.5 531.5,277.7 532.0,278.0 532.5,277.5 533.0,275.4 533.5,276.6 534.0,277.4 534.5,276.8 535.0,276.2 535.5,276.7 536.0,275.9" fill="none" stroke="#7a0e14" stroke-width="1.2" stroke-linejoin="round"/>
<path d="M315.5,302.3 316.0,301.6 316.5,301.2 317.0,301.5 317.5,300.9 318.0,301.3 318.5,301.8 319.0,301.2 319.5,301.9 320.0,301.6 320.5,302.0 321.0,302.1 321.5,301.8 322.0,301.5 322.5,300.8 323.0,300.9 323.5,300.9 324.0,302.1 324.5,302.6 325.0,301.6 325.5,302.1 326.0,302.1 326.5,301.8 327.0,302.1 327.5,302.4 328.0,301.9 328.5,301.8 329.0,301.9 329.5,301.4 330.0,301.7 330.5,301.7 331.0,301.4 331.5,301.2 332.0,301.6 332.5,302.2 333.0,302.2 333.5,301.7 334.0,302.1 334.5,302.1 335.0,302.3 335.5,302.8 336.0,301.9 336.5,301.9 337.0,301.6 337.5,301.3 338.0,302.5 338.5,302.8 339.0,301.5 339.5,301.9 340.0,301.6 340.5,302.3 341.0,302.1 341.5,301.9 342.0,301.9 342.5,302.0 343.0,301.9 343.5,301.6 344.0,301.5 344.5,301.7 345.0,301.0 345.5,301.1 346.0,301.1 346.5,300.9 347.0,301.3 347.5,300.5 348.0,300.5 348.5,300.2 349.0,300.7 349.5,300.4 350.0,300.5 350.5,300.6 351.0,299.7 351.5,300.1 352.0,299.7 352.5,299.7 353.0,299.7 353.5,300.1 354.0,300.3 354.5,300.9 355.0,300.4 355.5,299.7 356.0,299.2 356.5,299.5 357.0,300.0 357.5,299.7 358.0,299.0 358.5,299.0 359.0,298.9 359.5,298.7 360.0,298.1 360.5,296.8 361.0,297.0 361.5,297.8 362.0,297.9 362.5,296.7 363.0,297.0 363.5,296.2 364.0,297.6 364.5,297.5 365.0,296.7 365.5,297.2 366.0,296.7 366.5,297.0 367.0,296.9 367.5,296.1 368.0,296.6 368.5,295.8 369.0,296.7 369.5,296.5 370.0,295.8 370.5,294.9 371.0,296.1 371.5,296.7 372.0,295.6 372.5,296.4 373.0,296.1 373.5,295.6 374.0,295.4 374.5,295.1 375.0,295.7 375.5,295.4 376.0,294.2 376.5,295.4 377.0,295.5 377.5,294.5 378.0,294.2 378.5,293.7 379.0,293.8 379.5,294.1 380.0,294.1 380.5,293.6 381.0,293.2 381.5,293.8 382.0,293.6 382.5,294.6 383.0,293.7 383.5,293.9 384.0,293.6 384.5,293.0 385.0,293.6 385.5,293.4 386.0,292.7 386.5,292.5 387.0,293.1 387.5,292.3 388.0,293.1 388.5,293.2 389.0,292.8 389.5,293.4 390.0,293.9 390.5,293.6 391.0,293.2 391.5,293.8 392.0,294.0 392.5,292.8 393.0,292.5 393.5,292.3 394.0,292.0 394.5,291.3 395.0,292.1 395.5,292.2 396.0,292.2 396.5,292.8 397.0,292.2 397.5,292.1 398.0,292.1 398.5,291.8 399.0,291.7 399.5,292.1 400.0,291.8 400.5,292.3 401.0,291.4 401.5,291.3 402.0,290.3 402.5,290.3 403.0,289.9 403.5,290.5 404.0,290.5 404.5,290.3 405.0,290.7 405.5,290.6 406.0,290.1 406.5,288.9 407.0,287.7 407.5,287.6 408.0,287.2 408.5,286.7 409.0,286.5 409.5,285.5 410.0,286.5 410.5,285.6 411.0,285.2 411.5,285.5 412.0,284.5 412.5,285.0 413.0,285.2 413.5,284.6 414.0,283.7 414.5,283.3 415.0,282.3 415.5,283.2 416.0,282.9 416.5,282.2 417.0,281.5 417.5,281.8 418.0,282.2 418.5,281.0 419.0,280.5 419.5,279.4 420.0,279.9 420.5,279.8 421.0,280.7 421.5,279.9 422.0,279.1 422.5,278.4 423.0,278.7 423.5,277.5 424.0,277.9 424.5,277.8 425.0,277.2 425.5,276.6 426.0,277.2 426.5,277.9 427.0,277.1 427.5,277.0 428.0,277.6 428.5,276.7 429.0,276.3 429.5,275.5 430.0,275.6 430.5,275.7 431.0,275.6 431.5,275.4 432.0,275.0 432.5,274.9 433.0,275.1 433.5,276.2 434.0,276.4 434.5,276.5 435.0,277.4 435.5,278.1 436.0,278.0 436.5,278.2 437.0,279.1 437.5,279.7 438.0,279.6 438.5,280.3 439.0,280.8 439.5,281.9 440.0,281.7 440.5,282.7 441.0,283.2 441.5,283.0 442.0,284.1 442.5,284.8 443.0,284.3 443.5,285.8 444.0,285.3 444.5,285.2 445.0,285.6 445.5,286.5 446.0,287.1 446.5,287.3 447.0,288.3 447.5,288.6 448.0,289.4 448.5,290.8 449.0,290.4 449.5,288.9 450.0,289.1 450.5,289.1 451.0,289.7 451.5,290.1 452.0,289.6 452.5,289.3 453.0,289.5 453.5,289.5 454.0,288.0 454.5,288.8 455.0,288.6 455.5,288.2 456.0,287.8 456.5,286.6 457.0,286.1 457.5,286.1 458.0,285.9 458.5,285.2 459.0,284.1 459.5,282.9 460.0,283.1 460.5,282.5 461.0,281.3 461.5,279.3 462.0,278.4 462.5,276.9 463.0,277.3 463.5,276.6 464.0,275.2 464.5,274.2 465.0,274.7 465.5,273.9 466.0,271.6 466.5,270.5 467.0,268.8 467.5,267.2 468.0,266.8 468.5,267.4 469.0,266.9 469.5,265.5 470.0,264.1 470.5,263.3 471.0,263.0 471.5,261.2 472.0,259.7 472.5,260.6 473.0,260.2 473.5,260.5 474.0,259.9 474.5,260.2 475.0,259.2 475.5,259.3 476.0,260.1 476.5,260.4 477.0,260.0 477.5,260.7 478.0,260.6 478.5,260.4 479.0,261.7 479.5,263.2 480.0,264.3 480.5,264.2 481.0,265.6 481.5,266.9 482.0,267.4 482.5,267.1 483.0,269.2 483.5,270.9 484.0,272.1 484.5,272.1 485.0,272.6 485.5,274.7 486.0,276.3 486.5,277.5 487.0,278.1 487.5,279.2 488.0,279.7 488.5,280.4 489.0,280.9 489.5,282.2 490.0,283.0 490.5,284.6 491.0,285.9 491.5,286.2 492.0,288.3 492.5,288.3 493.0,289.6 493.5,291.1 494.0,292.5 494.5,291.8 495.0,293.5 495.5,294.9 496.0,296.2 496.5,295.3 497.0,295.8 497.5,296.7 498.0,297.2 498.5,298.6 499.0,298.5 499.5,299.5 500.0,299.7 500.5,298.9 501.0,298.7 501.5,298.9 502.0,299.4 502.5,300.3 503.0,300.2 503.5,300.9 504.0,300.0 504.5,298.7 505.0,299.4 505.5,300.4 506.0,300.6 506.5,300.4 507.0,301.1 507.5,302.4 508.0,302.2 508.5,301.7 509.0,301.5 509.5,302.9 510.0,302.7 510.5,303.0 511.0,303.5 511.5,303.8 512.0,303.0 512.5,303.5 513.0,303.8 513.5,303.9 514.0,304.2 514.5,303.6 515.0,303.5 515.5,303.3 516.0,303.9 516.5,303.5 517.0,303.9 517.5,303.3 518.0,303.6 518.5,303.6 519.0,303.8 519.5,304.1 520.0,304.1 520.5,304.1 521.0,303.1 521.5,304.3 522.0,304.1 522.5,304.2 523.0,304.0 523.5,304.8 524.0,304.4 524.5,304.8 525.0,305.5 525.5,306.2 526.0,306.4 526.5,306.2 527.0,305.1 527.5,305.8 528.0,306.2 528.5,306.2 529.0,306.3 529.5,305.9 530.0,305.4 530.5,305.9 531.0,306.3 531.5,305.4 532.0,305.8 532.5,305.8 533.0,306.1 533.5,305.9 534.0,306.3 534.5,306.4 535.0,306.5 535.5,305.3 536.0,305.7" fill="none" stroke="#f0126e" stroke-width="1.2" stroke-linejoin="round"/>
<path d="M467.30,45.70 L469.00,127.30 L469.60,159.00 L476.80,173.30 L476.50,205.90 L481.00,223.00 L481.00,274.80" fill="none" stroke="#000" stroke-width="1.8"/>
<rect x="315.0" y="25.3" width="221.79999999999995" height="288.5" fill="none" stroke="#1c1c1c" stroke-width="1.3"/>
<path d="M315.00,313.8 V317.60 M327.30,313.8 V316.00 M339.60,313.8 V316.00 M351.90,313.8 V316.00 M364.20,313.8 V317.60 M376.50,313.8 V316.00 M388.80,313.8 V316.00 M401.10,313.8 V316.00 M413.40,313.8 V317.60 M425.70,313.8 V316.00 M438.00,313.8 V316.00 M450.30,313.8 V316.00 M462.60,313.8 V317.60 M474.90,313.8 V316.00 M487.20,313.8 V316.00 M499.50,313.8 V316.00 M511.80,313.8 V317.60 M524.10,313.8 V316.00 M536.40,313.8 V316.00" stroke="#1c1c1c" stroke-width="1.1"/>
<text x="512.20" y="330.6" font-size="13.8" text-anchor="middle">528</text>
<text x="463.00" y="330.6" font-size="13.8" text-anchor="middle">530</text>
<text x="413.80" y="330.6" font-size="13.8" text-anchor="middle">532</text>
<text x="364.60" y="330.6" font-size="13.8" text-anchor="middle">534</text>
<text x="315.40" y="330.6" font-size="13.8" text-anchor="middle">536</text>
<text x="346.60" y="354.60" font-size="16.5" textLength="157.39" lengthAdjust="spacing">Binding Energy [eV]</text>
<text x="275.80" y="17.20" font-size="16" textLength="13.29" lengthAdjust="spacing">b)</text>
<text x="314.60" y="18.30" font-size="16" textLength="127.21" lengthAdjust="spacing">O1s @ 1000 eV</text>
<path d="M600.0,128.0 601.0,128.0 602.0,128.0 603.0,128.0 604.0,128.0 605.0,128.0 606.0,128.0 607.0,128.0 608.0,128.1 609.0,128.2 610.0,128.2 611.0,128.3 612.0,128.3 613.0,128.4 614.0,128.4 615.0,128.4 616.0,128.4 617.0,128.5 618.0,128.5 619.0,128.5 620.0,128.5 621.0,128.5 622.0,128.5 623.0,128.5 624.0,128.5 625.0,128.5 626.0,128.5 627.0,128.4 628.0,128.2 629.0,128.0 630.0,127.7 631.0,127.4 632.0,127.1 633.0,126.7 634.0,126.3 635.0,125.9 636.0,125.5 637.0,125.1 638.0,124.7 639.0,124.4 640.0,124.0 641.0,123.7 642.0,123.3 643.0,123.0 644.0,122.6 645.0,122.2 646.0,121.8 647.0,121.5 648.0,121.1 649.0,120.6 650.0,120.2 651.0,119.8 652.0,119.3 653.0,118.8 654.0,118.3 655.0,117.8 656.0,117.2 657.0,116.6 658.0,116.1 659.0,115.4 660.0,114.8 661.0,114.2 662.0,113.6 663.0,113.0 664.0,112.4 665.0,111.8 666.0,111.2 667.0,110.6 668.0,110.1 669.0,109.6 670.0,109.0 671.0,108.6 672.0,108.1 673.0,107.6 674.0,107.2 675.0,106.7 676.0,106.3 677.0,105.9 678.0,105.5 679.0,105.0 680.0,104.6 681.0,104.2 682.0,103.7 683.0,103.3 684.0,102.8 685.0,102.3 686.0,101.8 687.0,101.3 688.0,100.8 689.0,100.2 690.0,99.6 691.0,99.0 692.0,98.3 693.0,97.6 694.0,96.9 695.0,96.2 696.0,95.5 697.0,94.8 698.0,94.1 699.0,93.5 700.0,92.9 701.0,92.3 702.0,91.8 703.0,91.3 704.0,90.7 705.0,90.0 706.0,89.3 707.0,88.4 708.0,87.4 709.0,86.1 710.0,84.6 711.0,82.5 712.0,80.1 713.0,76.7 714.0,70.0 715.0,68.6 716.0,66.9 717.0,69.8 718.0,73.8 719.0,76.4 720.0,76.1 721.0,73.3 722.0,69.5 723.0,66.1 724.0,64.6 725.0,65.6 726.0,68.3 727.0,72.0 728.0,76.2 729.0,80.9 730.0,87.9 731.0,94.4 732.0,97.1 733.0,98.1 734.0,98.9 735.0,100.3 736.0,102.7 737.0,105.9 738.0,110.2 739.0,117.5 740.0,123.4 741.0,127.0 742.0,130.2 743.0,132.9 744.0,135.3 745.0,137.5 746.0,140.6 747.0,143.6 748.0,146.3 749.0,148.7 750.0,150.6 751.0,152.2 752.0,153.6 753.0,154.9 754.0,155.9 755.0,156.7 756.0,157.4 757.0,158.0 758.0,158.5 759.0,158.9 760.0,159.4 761.0,159.8 762.0,160.3 763.0,160.8 764.0,161.3 765.0,161.8 766.0,162.4 767.0,162.9 768.0,163.4 769.0,163.8 770.0,164.2 771.0,164.5 772.0,164.8 773.0,165.1 774.0,165.4 775.0,165.7 776.0,165.9 777.0,166.1 778.0,166.3 779.0,166.4 780.0,166.5 781.0,166.6 782.0,166.6 783.0,166.7 784.0,166.7 785.0,166.8 786.0,166.8 787.0,166.8 788.0,166.9 789.0,166.9 790.0,166.9 791.0,167.0 792.0,167.0 793.0,167.0 794.0,167.0 795.0,167.0" fill="none" stroke="#fffcea" stroke-width="7" stroke-linejoin="round"/>
<path d="M606.60,124.22 L607.60,120.14 L608.60,125.36 L609.60,119.76 L610.60,125.97 L611.60,131.04 L612.60,124.95 L613.60,127.95 L614.60,127.33 L615.60,127.84 L616.60,120.88 L617.60,125.46 L618.60,125.37 L619.60,127.50 L620.60,125.65 L621.60,128.87 L622.60,127.08 L623.60,127.89 L624.60,130.61 L625.60,127.35 L626.60,129.01 L627.60,126.77 L628.60,126.88 L629.60,123.06 L630.60,126.10 L631.60,128.52 L632.60,124.54 L633.60,125.97 L634.60,124.93 L635.60,118.94 L636.60,121.68 L637.60,125.74 L638.60,120.63 L639.60,114.10 L640.60,118.49 L641.60,116.84 L642.60,124.81 L643.60,120.61 L644.60,119.00 L645.60,116.00 L646.60,117.69 L647.60,115.19 L648.60,112.85 L649.60,114.61 L650.60,112.35 L651.60,118.54 L652.60,111.86 L653.60,112.92 L654.60,110.83 L655.60,107.36 L656.60,116.15 L657.60,106.01 L658.60,114.17 L659.60,106.88 L660.60,109.04 L661.60,116.76 L662.60,104.19 L663.60,101.97 L664.60,109.89 L665.60,108.44 L666.60,105.14 L667.60,105.38 L668.60,101.99 L669.60,104.14 L670.60,109.21 L671.60,104.39 L672.60,104.17 L673.60,107.40 L674.60,110.88 L675.60,103.22 L676.60,103.26 L677.60,100.14 L678.60,98.52 L679.60,98.51 L680.60,97.48 L681.60,93.20 L682.60,90.57 L683.60,93.55 L684.60,97.15 L685.60,101.69 L686.60,97.16 L687.60,96.44 L688.60,98.55 L689.60,99.15 L690.60,96.12 L691.60,94.81 L692.60,100.22 L693.60,94.37 L694.60,91.31 L695.60,86.00 L696.60,90.38 L697.60,89.10 L698.60,95.23 L699.60,89.54 L700.60,90.80 L701.60,91.09 L702.60,92.90 L703.60,83.60 L704.60,88.74 L705.60,85.00 L706.60,82.56 L707.60,80.22 L708.60,77.98 L709.60,75.59 L710.60,67.10 L711.60,70.61 L712.60,69.16 L713.60,64.95 L714.60,65.19 L715.60,70.67 L716.60,65.68 L717.60,58.96 L718.60,58.64 L719.60,47.57 L720.60,40.50 L721.60,39.19 L722.60,42.32 L723.60,47.21 L724.60,45.39 L725.60,37.84 L726.60,44.28 L727.60,56.00 L728.60,64.53 L729.60,71.79 L730.60,76.81 L731.60,82.02 L732.60,88.30 L733.60,90.66 L734.60,95.84 L735.60,98.10 L736.60,99.60 L737.60,103.46 L738.60,110.24 L739.60,117.93 L740.60,122.63 L741.60,125.68 L742.60,127.49 L743.60,133.16 L744.60,135.66 L745.60,136.52 L746.60,139.15 L747.60,140.15 L748.60,140.61 L749.60,142.15 L750.60,147.16 L751.60,147.24 L752.60,147.98 L753.60,146.81 L754.60,148.24 L755.60,151.33 L756.60,150.26 L757.60,151.02 L758.60,151.78 L759.60,151.50 L760.60,152.86 L761.60,151.95 L762.60,152.34 L763.60,151.52 L764.60,155.54 L765.60,154.60 L766.60,154.50 L767.60,156.36 L768.60,155.37 L769.60,156.03 L770.60,155.94 L771.60,157.37 L772.60,158.01 L773.60,159.65 L774.60,159.86 L775.60,159.67 L776.60,160.12 L777.60,160.64 L778.60,160.64 L779.60,162.09 L780.60,162.48 L781.60,162.28 L782.60,161.24 L783.60,162.37 L784.60,161.47 L785.60,162.37 L786.60,162.67 L787.60,162.42 L788.60,162.28 L789.60,162.42 L790.60,164.22 L791.60,163.49 L792.60,163.33 L793.60,163.94 L794.60,163.88 L794.60,163.54 L793.60,163.10 L792.60,163.80 L791.60,163.74 L790.60,164.21 L789.60,164.18 L788.60,164.15 L787.60,164.33 L786.60,163.90 L785.60,163.35 L784.60,163.77 L783.60,163.11 L782.60,165.15 L781.60,163.16 L780.60,162.78 L779.60,162.80 L778.60,164.09 L777.60,162.94 L776.60,162.65 L775.60,161.41 L774.60,162.52 L773.60,161.08 L772.60,161.64 L771.60,161.02 L770.60,162.14 L769.60,158.03 L768.60,159.77 L767.60,159.64 L766.60,159.18 L765.60,157.13 L764.60,156.92 L763.60,156.95 L762.60,156.81 L761.60,155.99 L760.60,157.31 L759.60,155.61 L758.60,153.45 L757.60,154.36 L756.60,156.26 L755.60,154.57 L754.60,151.48 L753.60,153.47 L752.60,154.58 L751.60,151.29 L750.60,149.44 L749.60,145.41 L748.60,142.19 L747.60,141.33 L746.60,139.39 L745.60,137.22 L744.60,134.87 L743.60,130.89 L742.60,126.29 L741.60,121.20 L740.60,114.39 L739.60,112.51 L738.60,109.30 L737.60,103.39 L736.60,100.98 L735.60,98.54 L734.60,93.91 L733.60,94.87 L732.60,100.17 L731.60,96.72 L730.60,90.05 L729.60,81.76 L728.60,80.17 L727.60,75.44 L726.60,70.02 L725.60,66.46 L724.60,60.64 L723.60,59.40 L722.60,62.66 L721.60,66.18 L720.60,71.18 L719.60,75.60 L718.60,69.85 L717.60,69.75 L716.60,66.19 L715.60,65.64 L714.60,63.19 L713.60,68.52 L712.60,77.52 L711.60,81.28 L710.60,82.35 L709.60,83.65 L708.60,83.96 L707.60,79.52 L706.60,85.35 L705.60,82.08 L704.60,92.22 L703.60,89.88 L702.60,89.02 L701.60,88.16 L700.60,93.17 L699.60,95.79 L698.60,93.73 L697.60,92.02 L696.60,89.68 L695.60,91.84 L694.60,91.45 L693.60,95.65 L692.60,92.87 L691.60,91.93 L690.60,100.04 L689.60,97.74 L688.60,99.12 L687.60,100.05 L686.60,101.88 L685.60,103.92 L684.60,104.79 L683.60,108.28 L682.60,104.05 L681.60,102.06 L680.60,104.81 L679.60,101.59 L678.60,103.43 L677.60,105.22 L676.60,101.38 L675.60,94.75 L674.60,102.90 L673.60,101.30 L672.60,104.41 L671.60,108.88 L670.60,108.96 L669.60,111.78 L668.60,109.31 L667.60,110.04 L666.60,107.11 L665.60,108.95 L664.60,113.47 L663.60,110.43 L662.60,111.17 L661.60,114.27 L660.60,114.07 L659.60,109.57 L658.60,111.22 L657.60,110.33 L656.60,110.02 L655.60,119.92 L654.60,119.34 L653.60,118.41 L652.60,118.07 L651.60,116.87 L650.60,114.90 L649.60,115.43 L648.60,117.71 L647.60,118.55 L646.60,119.84 L645.60,118.43 L644.60,116.51 L643.60,115.23 L642.60,122.66 L641.60,121.29 L640.60,129.00 L639.60,124.30 L638.60,123.06 L637.60,118.65 L636.60,123.30 L635.60,120.24 L634.60,118.96 L633.60,124.13 L632.60,128.00 L631.60,122.97 L630.60,125.59 L629.60,127.31 L628.60,125.24 L627.60,127.51 L626.60,125.72 L625.60,130.12 L624.60,122.57 L623.60,120.71 L622.60,125.65 L621.60,116.26 L620.60,122.26 L619.60,124.32 L618.60,126.99 L617.60,127.85 L616.60,125.50 L615.60,125.56 L614.60,122.77 L613.60,129.10 L612.60,126.09 L611.60,125.60 L610.60,128.65 L609.60,135.03 L608.60,120.56 L607.60,122.28 L606.60,128.71 Z" fill="#f29090" stroke="none"/>
<path d="M606.6,128.7 607.6,122.3 608.6,120.6 609.6,135.0 610.6,128.6 611.6,125.6 612.6,126.1 613.6,129.1 614.6,122.8 615.6,125.6 616.6,125.5 617.6,127.8 618.6,127.0 619.6,124.3 620.6,122.3 621.6,116.3 622.6,125.7 623.6,120.7 624.6,122.6 625.6,130.1 626.6,125.7 627.6,127.5 628.6,125.2 629.6,127.3 630.6,125.6 631.6,123.0 632.6,128.0 633.6,124.1 634.6,119.0 635.6,120.2 636.6,123.3 637.6,118.6 638.6,123.1 639.6,124.3 640.6,129.0 641.6,121.3 642.6,122.7 643.6,115.2 644.6,116.5 645.6,118.4 646.6,119.8 647.6,118.5 648.6,117.7 649.6,115.4 650.6,114.9 651.6,116.9 652.6,118.1 653.6,118.4 654.6,119.3 655.6,119.9 656.6,110.0 657.6,110.3 658.6,111.2 659.6,109.6 660.6,114.1 661.6,114.3 662.6,111.2 663.6,110.4 664.6,113.5 665.6,109.0 666.6,107.1 667.6,110.0 668.6,109.3 669.6,111.8 670.6,109.0 671.6,108.9 672.6,104.4 673.6,101.3 674.6,102.9 675.6,94.7 676.6,101.4 677.6,105.2 678.6,103.4 679.6,101.6 680.6,104.8 681.6,102.1 682.6,104.0 683.6,108.3 684.6,104.8 685.6,103.9 686.6,101.9 687.6,100.0 688.6,99.1 689.6,97.7 690.6,100.0 691.6,91.9 692.6,92.9 693.6,95.6 694.6,91.5 695.6,91.8 696.6,89.7 697.6,92.0 698.6,93.7 699.6,95.8 700.6,93.2 701.6,88.2 702.6,89.0 703.6,89.9 704.6,92.2 705.6,82.1 706.6,85.4 707.6,79.5 708.6,84.0 709.6,83.7 710.6,82.3 711.6,81.3 712.6,77.5 713.6,68.5 714.6,63.2 715.6,65.6 716.6,66.2 717.6,69.8 718.6,69.8 719.6,75.6 720.6,71.2 721.6,66.2 722.6,62.7 723.6,59.4 724.6,60.6 725.6,66.5 726.6,70.0 727.6,75.4 728.6,80.2 729.6,81.8 730.6,90.0 731.6,96.7 732.6,100.2 733.6,94.9 734.6,93.9 735.6,98.5 736.6,101.0 737.6,103.4 738.6,109.3 739.6,112.5 740.6,114.4 741.6,121.2 742.6,126.3 743.6,130.9 744.6,134.9 745.6,137.2 746.6,139.4 747.6,141.3 748.6,142.2 749.6,145.4 750.6,149.4 751.6,151.3 752.6,154.6 753.6,153.5 754.6,151.5 755.6,154.6 756.6,156.3 757.6,154.4 758.6,153.5 759.6,155.6 760.6,157.3 761.6,156.0 762.6,156.8 763.6,157.0 764.6,156.9 765.6,157.1 766.6,159.2 767.6,159.6 768.6,159.8 769.6,158.0 770.6,162.1 771.6,161.0 772.6,161.6 773.6,161.1 774.6,162.5 775.6,161.4 776.6,162.7 777.6,162.9 778.6,164.1 779.6,162.8 780.6,162.8 781.6,163.2 782.6,165.2 783.6,163.1 784.6,163.8 785.6,163.3 786.6,163.9 787.6,164.3 788.6,164.2 789.6,164.2 790.6,164.2 791.6,163.7 792.6,163.8 793.6,163.1 794.6,163.5" fill="none" stroke="#22ee22" stroke-width="1.2" stroke-linejoin="round"/>
<path d="M606.6,124.2 607.6,120.1 608.6,125.4 609.6,119.8 610.6,126.0 611.6,131.0 612.6,125.0 613.6,127.9 614.6,127.3 615.6,127.8 616.6,120.9 617.6,125.5 618.6,125.4 619.6,127.5 620.6,125.7 621.6,128.9 622.6,127.1 623.6,127.9 624.6,130.6 625.6,127.4 626.6,129.0 627.6,126.8 628.6,126.9 629.6,123.1 630.6,126.1 631.6,128.5 632.6,124.5 633.6,126.0 634.6,124.9 635.6,118.9 636.6,121.7 637.6,125.7 638.6,120.6 639.6,114.1 640.6,118.5 641.6,116.8 642.6,124.8 643.6,120.6 644.6,119.0 645.6,116.0 646.6,117.7 647.6,115.2 648.6,112.8 649.6,114.6 650.6,112.3 651.6,118.5 652.6,111.9 653.6,112.9 654.6,110.8 655.6,107.4 656.6,116.1 657.6,106.0 658.6,114.2 659.6,106.9 660.6,109.0 661.6,116.8 662.6,104.2 663.6,102.0 664.6,109.9 665.6,108.4 666.6,105.1 667.6,105.4 668.6,102.0 669.6,104.1 670.6,109.2 671.6,104.4 672.6,104.2 673.6,107.4 674.6,110.9 675.6,103.2 676.6,103.3 677.6,100.1 678.6,98.5 679.6,98.5 680.6,97.5 681.6,93.2 682.6,90.6 683.6,93.5 684.6,97.2 685.6,101.7 686.6,97.2 687.6,96.4 688.6,98.6 689.6,99.2 690.6,96.1 691.6,94.8 692.6,100.2 693.6,94.4 694.6,91.3 695.6,86.0 696.6,90.4 697.6,89.1 698.6,95.2 699.6,89.5 700.6,90.8 701.6,91.1 702.6,92.9 703.6,83.6 704.6,88.7 705.6,85.0 706.6,82.6 707.6,80.2 708.6,78.0 709.6,75.6 710.6,67.1 711.6,70.6 712.6,69.2 713.6,65.0 714.6,65.2 715.6,70.7 716.6,65.7 717.6,59.0 718.6,58.6 719.6,47.6 720.6,40.5 721.6,39.2 722.6,42.3 723.6,47.2 724.6,45.4 725.6,37.8 726.6,44.3 727.6,56.0 728.6,64.5 729.6,71.8 730.6,76.8 731.6,82.0 732.6,88.3 733.6,90.7 734.6,95.8 735.6,98.1 736.6,99.6 737.6,103.5 738.6,110.2 739.6,117.9 740.6,122.6 741.6,125.7 742.6,127.5 743.6,133.2 744.6,135.7 745.6,136.5 746.6,139.2 747.6,140.2 748.6,140.6 749.6,142.2 750.6,147.2 751.6,147.2 752.6,148.0 753.6,146.8 754.6,148.2 755.6,151.3 756.6,150.3 757.6,151.0 758.6,151.8 759.6,151.5 760.6,152.9 761.6,151.9 762.6,152.3 763.6,151.5 764.6,155.5 765.6,154.6 766.6,154.5 767.6,156.4 768.6,155.4 769.6,156.0 770.6,155.9 771.6,157.4 772.6,158.0 773.6,159.7 774.6,159.9 775.6,159.7 776.6,160.1 777.6,160.6 778.6,160.6 779.6,162.1 780.6,162.5 781.6,162.3 782.6,161.2 783.6,162.4 784.6,161.5 785.6,162.4 786.6,162.7 787.6,162.4 788.6,162.3 789.6,162.4 790.6,164.2 791.6,163.5 792.6,163.3 793.6,163.9 794.6,163.9" fill="none" stroke="#ee1c3c" stroke-width="1.2" stroke-linejoin="round"/>
<path d="M572.3,116.8 573.3,116.6 574.3,118.0 575.3,117.5 576.3,117.3 577.3,118.1 578.3,111.8 579.3,114.6 580.3,114.6 581.3,114.5 582.3,112.1 583.3,114.8 584.3,116.9 585.3,117.6 586.3,116.1 587.3,117.2 588.3,118.4 589.3,120.9 590.3,121.0 591.3,119.4 592.3,119.0 593.3,119.3 594.3,119.8 595.3,118.8 596.3,121.0 597.3,119.3 598.3,118.7 599.3,120.8 600.3,120.1 601.3,120.6 602.3,117.6 603.3,122.0 604.3,122.3 605.3,122.2 606.3,123.4 607.3,123.5 608.3,121.9 609.3,126.3 610.3,123.3 611.3,124.9 612.3,127.0 613.3,123.0 614.3,122.9 615.3,121.0 616.3,123.7 617.3,121.9 618.3,119.7 619.3,123.3 620.3,123.7 621.3,120.3 622.3,122.9 623.3,121.8 624.3,126.1 625.3,125.7 626.3,121.3 627.3,120.3 628.3,118.8 629.3,120.3 630.3,120.7 631.3,122.3 632.3,121.7 633.3,118.8 634.3,119.1 635.3,123.5 636.3,124.6 637.3,122.7 638.3,122.2 639.3,122.0 640.3,122.4 641.3,119.4 642.3,123.1 643.3,121.3 644.3,122.1 645.3,117.1 646.3,120.2 647.3,123.1 648.3,117.1 649.3,121.7 650.3,121.1 651.3,118.4 652.3,115.7 653.3,119.7 654.3,119.2 655.3,119.4 656.3,117.7 657.3,115.9 658.3,118.2 659.3,115.3 660.3,117.5 661.3,113.3 662.3,112.8 663.3,111.4 664.3,115.8 665.3,111.3 666.3,110.5 667.3,113.3 668.3,113.2 669.3,116.6 670.3,116.8 671.3,114.4 672.3,113.4 673.3,108.2 674.3,107.8 675.3,108.5 676.3,108.7 677.3,106.3 678.3,106.0 679.3,105.7 680.3,108.8 681.3,108.4 682.3,106.4 683.3,105.4 684.3,105.8 685.3,103.6 686.3,103.2 687.3,100.0 688.3,102.8 689.3,103.9 690.3,102.7 691.3,101.9 692.3,100.9 693.3,103.1 694.3,100.0 695.3,95.5 696.3,94.0 697.3,96.4 698.3,97.6 699.3,97.2 700.3,96.9 701.3,95.4 702.3,91.7 703.3,91.6 704.3,89.5 705.3,91.0 706.3,89.6 707.3,91.4 708.3,91.2 709.3,87.9 710.3,90.7 711.3,91.3 712.3,87.6 713.3,88.2 714.3,88.7 715.3,86.7 716.3,86.9 717.3,84.8 718.3,84.0 719.3,81.1 720.3,78.3 721.3,77.1 722.3,76.0 723.3,73.9 724.3,71.2 725.3,68.6 726.3,66.8 727.3,64.4 728.3,61.9 729.3,56.9 730.3,52.1 731.3,51.1 732.3,52.6 733.3,55.0 734.3,51.8 735.3,44.8 736.3,40.8 737.3,36.7 738.3,37.4 739.3,41.2 740.3,46.0 741.3,49.8 742.3,52.8 743.3,59.2 744.3,65.3 745.3,68.9 746.3,74.6 747.3,79.4 748.3,85.4 749.3,90.9 750.3,98.4 751.3,105.9 752.3,110.7 753.3,117.2 754.3,122.0 755.3,124.9 756.3,130.7 757.3,135.3 758.3,139.9 759.3,143.7 760.3,145.9 761.3,147.5 762.3,149.5 763.3,151.2 764.3,154.0 765.3,155.6 766.3,155.6 767.3,156.3 768.3,157.5 769.3,158.5 770.3,158.7 771.3,159.1 772.3,161.2 773.3,161.9 774.3,161.2 775.3,161.1 776.3,161.7 777.3,162.6 778.3,163.3 779.3,163.2 780.3,162.8 781.3,163.6 782.3,164.1 783.3,164.2 784.3,164.0 785.3,164.5 786.3,164.4 787.3,164.0 788.3,164.5 789.3,164.1 790.3,164.9 791.3,165.0 792.3,164.5 793.3,164.8 794.3,165.3" fill="none" stroke="#111" stroke-width="1.15" stroke-linejoin="round"/>
<path d="M754,306.3 L754.00,306.21 L754.50,306.20 L755.00,306.16 L755.50,306.10 L756.00,306.00 L756.50,305.88 L757.00,305.74 L757.50,305.57 L758.00,305.37 L758.50,305.16 L759.00,304.91 L759.50,304.65 L760.00,304.36 L760.50,304.05 L761.00,303.72 L761.50,303.40 L762.00,303.08 L762.50,302.78 L763.00,302.50 L763.50,302.26 L764.00,302.06 L764.50,301.91 L765.00,301.83 L765.50,301.82 L766.00,301.89 L766.50,302.04 L767.00,302.24 L767.50,302.49 L768.00,302.79 L768.50,303.11 L769.00,303.45 L769.50,303.79 L770.00,304.14 L770.50,304.47 L771.00,304.78 L771.50,305.05 L772.00,305.29 L772.50,305.50 L773.00,305.69 L773.50,305.85 L774.00,306.00 L774.50,306.13 L775.00,306.25 L775.50,306.30 L776.00,306.30 L776.50,306.30 L777.00,306.30 L777.50,306.30 L778.00,306.30 L778.50,306.30 L779.00,306.30 L779.50,306.30 L780.00,306.30 L780.50,306.30 L781.00,306.30 L781.50,306.30 L782,306.3 Z" fill="#f3c3d3"/>
<path d="M572.0,306.3 572.5,306.3 573.0,306.3 573.5,306.2 574.0,306.2 574.5,306.2 575.0,306.2 575.5,306.2 576.0,306.2 576.5,306.2 577.0,306.1 577.5,306.1 578.0,306.1 578.5,306.1 579.0,306.1 579.5,306.1 580.0,306.1 580.5,306.1 581.0,306.1 581.5,306.1 582.0,306.1 582.5,306.2 583.0,306.2 583.5,306.2 584.0,306.2 584.5,306.2 585.0,306.3 585.5,306.3 586.0,306.3 586.5,306.3 587.0,306.3 587.5,306.3 588.0,306.3 588.5,306.3 589.0,306.3 589.5,306.3 590.0,306.3 590.5,306.3 591.0,306.3 591.5,306.3 592.0,306.3 592.5,306.3 593.0,306.2 593.5,306.1 594.0,305.9 594.5,305.7 595.0,305.5 595.5,305.2 596.0,305.0 596.5,304.6 597.0,304.3 597.5,303.9 598.0,303.5 598.5,303.1 599.0,302.7 599.5,302.2 600.0,301.7 600.5,301.1 601.0,300.6 601.5,300.0 602.0,299.4 602.5,298.7 603.0,298.1 603.5,297.4 604.0,296.7 604.5,295.9 605.0,295.2 605.5,294.4 606.0,293.6 606.5,292.8 607.0,292.0 607.5,291.1 608.0,290.3 608.5,289.4 609.0,288.5 609.5,287.6 610.0,286.7 610.5,285.8 611.0,284.8 611.5,283.9 612.0,282.9 612.5,282.0 613.0,281.0 613.5,280.0 614.0,279.0 614.5,278.1 615.0,277.1 615.5,276.2 616.0,275.3 616.5,274.4 617.0,273.6 617.5,272.8 618.0,272.1 618.5,271.4 619.0,270.8 619.5,270.3 620.0,269.8 620.5,269.3 621.0,268.9 621.5,268.5 622.0,268.2 622.5,267.9 623.0,267.7 623.5,267.5 624.0,267.4 624.5,267.3 625.0,267.3 625.5,267.4 626.0,267.6 626.5,267.8 627.0,268.0 627.5,268.4 628.0,268.7 628.5,269.1 629.0,269.6 629.5,270.0 630.0,270.5 630.5,270.9 631.0,271.3 631.5,271.7 632.0,271.9 632.5,272.1 633.0,272.1 633.5,272.1 634.0,271.9 634.5,271.5 635.0,271.1 635.5,270.5 636.0,269.8 636.5,269.0 637.0,268.0 637.5,267.0 638.0,265.9 638.5,264.6 639.0,263.3 639.5,261.9 640.0,260.4 640.5,258.9 641.0,257.3 641.5,255.7 642.0,254.1 642.5,252.5 643.0,250.9 643.5,249.4 644.0,248.0 644.5,246.7 645.0,245.5 645.5,244.4 646.0,243.5 646.5,242.7 647.0,242.0 647.5,241.4 648.0,241.0 648.5,240.7 649.0,240.5 649.5,240.4 650.0,240.5 650.5,240.7 651.0,240.9 651.5,241.3 652.0,241.7 652.5,242.2 653.0,242.8 653.5,243.4 654.0,244.0 654.5,244.7 655.0,245.5 655.5,246.4 656.0,247.3 656.5,248.3 657.0,249.3 657.5,250.5 658.0,251.6 658.5,252.8 659.0,254.0 659.5,255.3 660.0,256.5 660.5,257.7 661.0,258.9 661.5,260.0 662.0,261.0 662.5,261.9 663.0,262.8 663.5,263.6 664.0,264.3 664.5,264.9 665.0,265.5 665.5,266.0 666.0,266.4 666.5,266.8 667.0,267.1 667.5,267.4 668.0,267.6 668.5,267.8 669.0,267.9 669.5,268.0 670.0,268.1 670.5,268.2 671.0,268.3 671.5,268.3 672.0,268.4 672.5,268.5 673.0,268.7 673.5,268.9 674.0,269.1 674.5,269.5 675.0,269.9 675.5,270.4 676.0,271.0 676.5,271.7 677.0,272.5 677.5,273.3 678.0,274.3 678.5,275.4 679.0,276.5 679.5,277.8 680.0,279.0 680.5,280.2 681.0,281.5 681.5,282.7 682.0,283.9 682.5,285.1 683.0,286.2 683.5,287.3 684.0,288.4 684.5,289.4 685.0,290.3 685.5,291.2 686.0,292.1 686.5,292.8 687.0,293.5 687.5,294.2 688.0,294.7 688.5,295.2 689.0,295.6 689.5,295.9 690.0,296.2 690.5,296.3 691.0,296.4 691.5,296.4 692.0,296.3 692.5,296.1 693.0,295.9 693.5,295.5 694.0,295.1 694.5,294.7 695.0,294.2 695.5,293.6 696.0,293.0 696.5,292.3 697.0,291.5 697.5,290.7 698.0,289.8 698.5,288.8 699.0,287.7 699.5,286.5 700.0,285.2 700.5,283.8 701.0,282.3 701.5,280.7 702.0,279.0 702.5,277.2 703.0,275.3 703.5,273.4 704.0,271.4 704.5,269.4 705.0,267.4 705.5,265.3 706.0,263.3 706.5,261.3 707.0,259.2 707.5,257.1 708.0,255.0 708.5,252.9 709.0,250.7 709.5,248.5 710.0,246.2 710.5,243.9 711.0,241.7 711.5,239.5 712.0,237.4 712.5,235.4 713.0,233.4 713.5,231.5 714.0,229.6 714.5,227.9 715.0,226.2 715.5,224.5 716.0,222.9 716.5,221.3 717.0,219.8 717.5,218.4 718.0,217.1 718.5,215.8 719.0,214.7 719.5,213.7 720.0,212.7 720.5,211.9 721.0,211.2 721.5,210.6 722.0,210.0 722.5,209.6 723.0,209.2 723.5,208.8 724.0,208.5 724.5,208.2 725.0,208.0 725.5,207.7 726.0,207.4 726.5,207.1 727.0,206.8 727.5,206.4 728.0,206.0 728.5,205.5 729.0,205.0 729.5,204.3 730.0,203.6 730.5,202.8 731.0,201.9 731.5,200.9 732.0,199.9 732.5,198.8 733.0,197.6 733.5,196.4 734.0,195.1 734.5,193.9 735.0,192.8 735.5,191.7 736.0,190.7 736.5,189.8 737.0,189.1 737.5,188.7 738.0,188.5 738.5,188.6 739.0,189.0 739.5,189.6 740.0,190.5 740.5,191.7 741.0,193.2 741.5,195.1 742.0,197.3 742.5,199.9 743.0,203.0 743.5,206.5 744.0,210.4 744.5,214.7 745.0,219.2 745.5,224.0 746.0,228.9 746.5,234.0 747.0,239.2 747.5,244.3 748.0,249.4 748.5,254.4 749.0,259.2 749.5,263.8 750.0,268.1 750.5,272.0 751.0,275.7 751.5,279.0 752.0,281.9 752.5,284.6 753.0,287.0 753.5,289.1 754.0,291.0 754.5,292.7 755.0,294.2 755.5,295.6 756.0,297.0 756.5,298.2 757.0,299.4 757.5,300.5 758.0,301.4 758.5,302.3 759.0,303.1 759.5,303.8 760.0,304.4 760.5,304.9 761.0,305.3 761.5,305.7 762.0,305.9 762.5,306.1 763.0,306.3 763.5,306.3 764.0,306.3 764.5,306.3 765.0,306.3 765.5,306.3 766.0,306.3 766.5,306.3 767.0,306.3 767.5,306.3 768.0,306.3 768.5,306.3 769.0,306.3 769.5,306.3 770.0,306.3 770.5,306.3 771.0,306.3 771.5,306.3 772.0,306.3 772.5,306.3 773.0,306.3 773.5,306.3 774.0,306.3 774.5,306.3 775.0,306.3 775.5,306.3 776.0,306.3 776.5,306.3 777.0,306.3 777.5,306.3 778.0,306.3 778.5,306.3 779.0,306.3 779.5,306.3 780.0,306.3 780.5,306.3 781.0,306.3 781.5,306.3 782.0,306.3 782.5,306.3 783.0,306.3 783.5,306.3 784.0,306.3 784.5,306.3 785.0,306.3 785.5,306.3 786.0,306.3 786.5,306.3 787.0,306.3 787.5,306.3 788.0,306.3 788.5,306.3 789.0,306.3 789.5,306.3 790.0,306.3 790.5,306.3 791.0,306.3 791.5,306.3 792.0,306.3 792.5,306.3 793.0,306.3 793.5,306.3 794.0,306.3 794.5,306.3 795.0,306.3" fill="none" stroke="#111" stroke-width="1.3"/>
<path d="M572.0,306.3 572.5,306.3 573.0,306.3 573.5,306.3 574.0,306.3 574.5,306.3 575.0,306.3 575.5,306.3 576.0,306.3 576.5,306.3 577.0,306.3 577.5,306.3 578.0,306.3 578.5,306.3 579.0,306.3 579.5,306.3 580.0,306.3 580.5,306.2 581.0,306.2 581.5,306.2 582.0,306.1 582.5,306.0 583.0,305.9 583.5,305.8 584.0,305.7 584.5,305.6 585.0,305.4 585.5,305.2 586.0,305.0 586.5,304.8 587.0,304.5 587.5,304.2 588.0,303.9 588.5,303.6 589.0,303.2 589.5,302.8 590.0,302.3 590.5,301.9 591.0,301.3 591.5,300.8 592.0,300.2 592.5,299.6 593.0,298.9 593.5,298.3 594.0,297.6 594.5,296.8 595.0,296.1 595.5,295.3 596.0,294.5 596.5,293.7 597.0,292.9 597.5,292.0 598.0,291.2 598.5,290.3 599.0,289.4 599.5,288.5 600.0,287.6 600.5,286.6 601.0,285.7 601.5,284.8 602.0,283.8 602.5,282.8 603.0,281.9 603.5,280.9 604.0,279.9 604.5,278.9 605.0,278.0 605.5,277.1 606.0,276.2 606.5,275.3 607.0,274.5 607.5,273.7 608.0,273.1 608.5,272.4 609.0,271.9 609.5,271.4 610.0,271.0 610.5,270.6 611.0,270.3 611.5,270.0 612.0,269.8 612.5,269.6 613.0,269.5 613.5,269.5 614.0,269.4 614.5,269.5 615.0,269.5 615.5,269.6 616.0,269.8 616.5,269.9 617.0,270.2 617.5,270.4 618.0,270.6 618.5,270.9 619.0,271.2 619.5,271.4 620.0,271.6 620.5,271.8 621.0,271.8 621.5,271.8 622.0,271.7 622.5,271.5 623.0,271.2 623.5,270.7 624.0,270.2 624.5,269.5 625.0,268.8 625.5,267.9 626.0,267.0 626.5,265.9 627.0,264.8 627.5,263.5 628.0,262.2 628.5,260.8 629.0,259.4 629.5,258.0 630.0,256.5 630.5,255.1 631.0,253.6 631.5,252.2 632.0,250.8 632.5,249.5 633.0,248.2 633.5,247.0 634.0,246.0 634.5,245.0 635.0,244.1 635.5,243.3 636.0,242.7 636.5,242.2 637.0,241.8 637.5,241.6 638.0,241.5 638.5,241.6 639.0,241.8 639.5,242.1 640.0,242.6 640.5,243.1 641.0,243.8 641.5,244.6 642.0,245.4 642.5,246.4 643.0,247.4 643.5,248.4 644.0,249.5 644.5,250.7 645.0,251.9 645.5,253.1 646.0,254.3 646.5,255.6 647.0,256.8 647.5,257.9 648.0,259.1 648.5,260.1 649.0,261.2 649.5,262.1 650.0,263.0 650.5,263.7 651.0,264.4 651.5,264.9 652.0,265.4 652.5,265.8 653.0,266.2 653.5,266.5 654.0,266.8 654.5,267.0 655.0,267.3 655.5,267.6 656.0,267.8 656.5,268.1 657.0,268.3 657.5,268.6 658.0,268.8 658.5,269.0 659.0,269.3 659.5,269.5 660.0,269.8 660.5,270.1 661.0,270.4 661.5,270.7 662.0,271.1 662.5,271.5 663.0,271.9 663.5,272.4 664.0,272.9 664.5,273.5 665.0,274.1 665.5,274.8 666.0,275.5 666.5,276.3 667.0,277.1 667.5,277.9 668.0,278.7 668.5,279.6 669.0,280.5 669.5,281.4 670.0,282.3 670.5,283.2 671.0,284.1 671.5,284.9 672.0,285.8 672.5,286.6 673.0,287.4 673.5,288.2 674.0,288.9 674.5,289.6 675.0,290.4 675.5,291.0 676.0,291.7 676.5,292.3 677.0,292.9 677.5,293.5 678.0,294.0 678.5,294.4 679.0,294.7 679.5,294.9 680.0,295.0 680.5,295.0 681.0,294.8 681.5,294.6 682.0,294.2 682.5,293.7 683.0,293.0 683.5,292.3 684.0,291.4 684.5,290.3 685.0,289.1 685.5,287.6 686.0,285.8 686.5,283.7 687.0,281.2 687.5,278.4 688.0,275.4 688.5,272.2 689.0,269.0 689.5,265.7 690.0,262.4 690.5,259.3 691.0,256.4 691.5,253.7 692.0,251.1 692.5,248.6 693.0,246.2 693.5,244.0 694.0,241.8 694.5,239.6 695.0,237.5 695.5,235.4 696.0,233.4 696.5,231.4 697.0,229.5 697.5,227.7 698.0,225.9 698.5,224.2 699.0,222.6 699.5,221.1 700.0,219.7 700.5,218.4 701.0,217.1 701.5,216.0 702.0,214.9 702.5,213.9 703.0,213.0 703.5,212.2 704.0,211.4 704.5,210.7 705.0,210.1 705.5,209.5 706.0,208.9 706.5,208.4 707.0,207.9 707.5,207.5 708.0,207.1 708.5,206.7 709.0,206.3 709.5,205.9 710.0,205.6 710.5,205.2 711.0,204.8 711.5,204.5 712.0,204.1 712.5,203.8 713.0,203.4 713.5,203.0 714.0,202.6 714.5,202.2 715.0,201.7 715.5,201.2 716.0,200.7 716.5,200.2 717.0,199.6 717.5,199.0 718.0,198.4 718.5,197.8 719.0,197.2 719.5,196.6 720.0,195.9 720.5,195.3 721.0,194.7 721.5,194.0 722.0,193.4 722.5,192.9 723.0,192.4 723.5,191.9 724.0,191.6 724.5,191.5 725.0,191.4 725.5,191.6 726.0,191.9 726.5,192.5 727.0,193.3 727.5,194.3 728.0,195.6 728.5,197.2 729.0,199.0 729.5,201.0 730.0,203.3 730.5,205.8 731.0,208.4 731.5,211.3 732.0,214.3 732.5,217.5 733.0,220.9 733.5,224.3 734.0,227.9 734.5,231.5 735.0,235.2 735.5,239.0 736.0,242.9 736.5,246.7 737.0,250.6 737.5,254.5 738.0,258.3 738.5,262.0 739.0,265.7 739.5,269.3 740.0,272.7 740.5,275.9 741.0,279.0 741.5,281.9 742.0,284.6 742.5,287.1 743.0,289.3 743.5,291.4 744.0,293.3 744.5,295.1 745.0,296.7 745.5,298.1 746.0,299.3 746.5,300.5 747.0,301.5 747.5,302.3 748.0,303.1 748.5,303.7 749.0,304.2 749.5,304.7 750.0,305.1 750.5,305.4 751.0,305.6 751.5,305.8 752.0,305.9 752.5,306.1 753.0,306.1 753.5,306.2 754.0,306.2 754.5,306.2 755.0,306.2 755.5,306.1 756.0,306.0 756.5,305.9 757.0,305.7 757.5,305.6 758.0,305.4 758.5,305.2 759.0,304.9 759.5,304.6 760.0,304.4 760.5,304.0 761.0,303.7 761.5,303.4 762.0,303.1 762.5,302.8 763.0,302.5 763.5,302.3 764.0,302.1 764.5,301.9 765.0,301.8 765.5,301.8 766.0,301.9 766.5,302.0 767.0,302.2 767.5,302.5 768.0,302.8 768.5,303.1 769.0,303.4 769.5,303.8 770.0,304.1 770.5,304.5 771.0,304.8 771.5,305.0 772.0,305.3 772.5,305.5 773.0,305.7 773.5,305.9 774.0,306.0 774.5,306.1 775.0,306.3 775.5,306.3 776.0,306.3 776.5,306.3 777.0,306.3 777.5,306.3 778.0,306.3 778.5,306.3 779.0,306.3 779.5,306.3 780.0,306.3 780.5,306.3 781.0,306.3 781.5,306.3 782.0,306.3 782.5,306.3 783.0,306.3 783.5,306.3 784.0,306.3 784.5,306.3 785.0,306.3 785.5,306.3 786.0,306.3 786.5,306.3 787.0,306.3 787.5,306.3 788.0,306.3 788.5,306.3 789.0,306.3 789.5,306.3 790.0,306.3 790.5,306.3 791.0,306.3 791.5,306.3 792.0,306.3 792.5,306.3 793.0,306.3 793.5,306.3 794.0,306.3 794.5,306.3 795.0,306.3" fill="none" stroke="#ff6a50" stroke-width="1.1"/>
<path d="M572.0,306.3 572.5,306.3 573.0,306.3 573.5,306.3 574.0,306.3 574.5,306.3 575.0,306.3 575.5,306.3 576.0,306.3 576.5,306.3 577.0,306.3 577.5,306.3 578.0,306.3 578.5,306.3 579.0,306.3 579.5,306.3 580.0,306.3 580.5,306.2 581.0,306.2 581.5,306.2 582.0,306.1 582.5,306.0 583.0,305.9 583.5,305.8 584.0,305.7 584.5,305.6 585.0,305.4 585.5,305.2 586.0,305.0 586.5,304.8 587.0,304.5 587.5,304.2 588.0,303.9 588.5,303.6 589.0,303.2 589.5,302.8 590.0,302.3 590.5,301.9 591.0,301.3 591.5,300.8 592.0,300.2 592.5,299.6 593.0,298.9 593.5,298.3 594.0,297.6 594.5,296.8 595.0,296.1 595.5,295.3 596.0,294.5 596.5,293.7 597.0,292.9 597.5,292.0 598.0,291.2 598.5,290.3 599.0,289.4 599.5,288.5 600.0,287.6 600.5,286.6 601.0,285.7 601.5,284.8 602.0,283.8 602.5,282.8 603.0,281.9 603.5,280.9 604.0,279.9 604.5,278.9 605.0,278.0 605.5,277.1 606.0,276.2 606.5,275.3 607.0,274.5 607.5,273.7 608.0,273.1 608.5,272.4 609.0,271.9 609.5,271.4 610.0,271.0 610.5,270.6 611.0,270.3 611.5,270.0 612.0,269.8 612.5,269.6 613.0,269.5 613.5,269.5 614.0,269.4 614.5,269.5 615.0,269.5 615.5,269.6 616.0,269.8 616.5,270.0 617.0,270.2 617.5,270.4 618.0,270.6 618.5,270.9 619.0,271.2 619.5,271.4 620.0,271.6 620.5,271.7 621.0,271.8 621.5,271.8 622.0,271.7 622.5,271.4 623.0,271.1 623.5,270.7 624.0,270.1 624.5,269.5 625.0,268.8 625.5,268.0 626.0,267.1 626.5,266.1 627.0,265.0 627.5,263.8 628.0,262.6 628.5,261.4 629.0,260.1 629.5,258.7 630.0,257.4 630.5,256.0 631.0,254.6 631.5,253.2 632.0,251.9 632.5,250.6 633.0,249.4 633.5,248.2 634.0,247.2 634.5,246.2 635.0,245.3 635.5,244.6 636.0,244.0 636.5,243.5 637.0,243.1 637.5,242.9 638.0,242.8 638.5,242.9 639.0,243.1 639.5,243.4 640.0,243.9 640.5,244.4 641.0,245.1 641.5,245.8 642.0,246.6 642.5,247.5 643.0,248.5 643.5,249.5 644.0,250.6 644.5,251.7 645.0,252.8 645.5,253.9 646.0,255.1 646.5,256.2 647.0,257.3 647.5,258.4 648.0,259.4 648.5,260.4 649.0,261.4 649.5,262.2 650.0,263.0 650.5,263.7 651.0,264.4 651.5,264.9 652.0,265.4 652.5,265.8 653.0,266.1 653.5,266.4 654.0,266.7 654.5,267.0 655.0,267.3 655.5,267.6 656.0,267.8 656.5,268.1 657.0,268.3 657.5,268.6 658.0,268.8 658.5,269.0 659.0,269.3 659.5,269.5 660.0,269.8 660.5,270.1 661.0,270.4 661.5,270.7 662.0,271.1 662.5,271.5 663.0,271.9 663.5,272.4 664.0,272.9 664.5,273.5 665.0,274.1 665.5,274.8 666.0,275.5 666.5,276.3 667.0,277.1 667.5,277.9 668.0,278.7 668.5,279.6 669.0,280.5 669.5,281.4 670.0,282.3 670.5,283.2 671.0,284.1 671.5,284.9 672.0,285.8 672.5,286.6 673.0,287.4 673.5,288.2 674.0,288.9 674.5,289.7 675.0,290.4 675.5,291.0 676.0,291.7 676.5,292.3 677.0,292.9 677.5,293.5 678.0,294.0 678.5,294.4 679.0,294.7 679.5,294.9 680.0,295.0 680.5,294.9 681.0,294.8 681.5,294.5 682.0,294.1 682.5,293.6 683.0,292.9 683.5,292.2 684.0,291.3 684.5,290.3 685.0,289.0 685.5,287.6 686.0,285.9 686.5,284.0 687.0,281.8 687.5,279.3 688.0,276.7 688.5,273.8 689.0,270.8 689.5,267.8 690.0,264.7 690.5,261.8 691.0,258.9 691.5,256.1 692.0,253.5 692.5,251.0 693.0,248.6 693.5,246.3 694.0,244.0 694.5,241.9 695.0,239.8 695.5,237.8 696.0,235.9 696.5,234.0 697.0,232.2 697.5,230.4 698.0,228.7 698.5,227.1 699.0,225.6 699.5,224.1 700.0,222.7 700.5,221.4 701.0,220.1 701.5,218.9 702.0,217.8 702.5,216.8 703.0,215.8 703.5,214.9 704.0,214.1 704.5,213.3 705.0,212.6 705.5,212.0 706.0,211.4 706.5,210.8 707.0,210.3 707.5,209.9 708.0,209.4 708.5,209.0 709.0,208.6 709.5,208.2 710.0,207.9 710.5,207.5 711.0,207.2 711.5,206.8 712.0,206.5 712.5,206.1 713.0,205.8 713.5,205.4 714.0,205.0 714.5,204.6 715.0,204.2 715.5,203.8 716.0,203.3 716.5,202.8 717.0,202.3 717.5,201.7 718.0,201.1 718.5,200.5 719.0,199.9 719.5,199.3 720.0,198.7 720.5,198.1 721.0,197.4 721.5,196.8 722.0,196.2 722.5,195.6 723.0,195.1 723.5,194.6 724.0,194.2 724.5,194.0 725.0,193.9 725.5,194.0 726.0,194.2 726.5,194.6 727.0,195.3 727.5,196.1 728.0,197.2 728.5,198.5 729.0,200.0 729.5,201.8 730.0,203.8 730.5,206.1 731.0,208.6 731.5,211.3 732.0,214.2 732.5,217.4 733.0,220.7 733.5,224.1 734.0,227.7 734.5,231.3 735.0,235.1 735.5,238.9 736.0,242.8 736.5,246.7 737.0,250.6 737.5,254.5 738.0,258.3 738.5,262.0 739.0,265.7 739.5,269.3 740.0,272.7 740.5,276.0 741.0,279.0 741.5,281.9 742.0,284.6 742.5,287.1 743.0,289.3 743.5,291.4 744.0,293.3 744.5,295.1 745.0,296.7 745.5,298.1 746.0,299.3 746.5,300.5 747.0,301.5 747.5,302.3 748.0,303.1 748.5,303.7 749.0,304.2 749.5,304.7 750.0,305.1 750.5,305.4 751.0,305.6 751.5,305.8 752.0,305.9 752.5,306.1 753.0,306.1 753.5,306.2 754.0,306.2 754.5,306.2 755.0,306.2 755.5,306.1 756.0,306.0 756.5,305.9 757.0,305.7 757.5,305.6 758.0,305.4 758.5,305.2 759.0,304.9 759.5,304.6 760.0,304.4 760.5,304.0 761.0,303.7 761.5,303.4 762.0,303.1 762.5,302.8 763.0,302.5 763.5,302.3 764.0,302.1 764.5,301.9 765.0,301.8 765.5,301.8 766.0,301.9 766.5,302.0 767.0,302.2 767.5,302.5 768.0,302.8 768.5,303.1 769.0,303.4 769.5,303.8 770.0,304.1 770.5,304.5 771.0,304.8 771.5,305.0 772.0,305.3 772.5,305.5 773.0,305.7 773.5,305.9 774.0,306.0 774.5,306.1 775.0,306.3 775.5,306.3 776.0,306.3 776.5,306.3 777.0,306.3 777.5,306.3 778.0,306.3 778.5,306.3 779.0,306.3 779.5,306.3 780.0,306.3 780.5,306.3 781.0,306.3 781.5,306.3 782.0,306.3 782.5,306.3 783.0,306.3 783.5,306.3 784.0,306.3 784.5,306.3 785.0,306.3 785.5,306.3 786.0,306.3 786.5,306.3 787.0,306.3 787.5,306.3 788.0,306.3 788.5,306.3 789.0,306.3 789.5,306.3 790.0,306.3 790.5,306.3 791.0,306.3 791.5,306.3 792.0,306.3 792.5,306.3 793.0,306.3 793.5,306.3 794.0,306.3 794.5,306.3 795.0,306.3" fill="none" stroke="#2020c4" stroke-width="1.3"/>
<path d="M571.7,306.3 H795.2" stroke="#111" stroke-width="1.3"/>
<path d="M773.3,24.4 V164" stroke="#111" stroke-width="1.2"/>
<path d="M773.3,164 V316.5" stroke="#22227a" stroke-width="1.4"/>
<path d="M725,144.2 V183.6 M738,144.2 V183.6" stroke="#000" stroke-width="1.6"/>
<text x="708.70" y="139.20" font-size="10.2" textLength="31.21" lengthAdjust="spacing">0.5 eV</text>
<path d="M702.5,163.6 H714" stroke="#22c462" stroke-width="2" stroke-dasharray="4,3"/>
<path d="M722.4,163.6 L713.4,159.2 L713.4,168 Z" fill="#22c462"/>
<path d="M761,163.6 H750" stroke="#22c462" stroke-width="2" stroke-dasharray="4,3"/>
<path d="M741.2,163.6 L750.2,159.2 L750.2,168 Z" fill="#22c462"/>
<path d="M766,179 V282" stroke="#22c462" stroke-width="2" stroke-dasharray="3.2,2"/>
<path d="M766,169.2 L761.7,178 L770.3,178 Z" fill="#22c462"/>
<path d="M766,291.7 L761.5,282 L770.5,282 Z" fill="#22c462"/>
<rect x="571.7" y="24.4" width="223.5" height="289.5" fill="none" stroke="#1c1c1c" stroke-width="1.3"/>
<path d="M582.40,313.9 V316.10 M593.60,313.9 V317.70 M604.80,313.9 V316.10 M616.00,313.9 V316.10 M627.20,313.9 V316.10 M638.40,313.9 V317.70 M649.60,313.9 V316.10 M660.80,313.9 V316.10 M672.00,313.9 V316.10 M683.20,313.9 V317.70 M694.40,313.9 V316.10 M705.60,313.9 V316.10 M716.80,313.9 V316.10 M728.00,313.9 V317.70 M739.20,313.9 V316.10 M750.40,313.9 V316.10 M761.60,313.9 V316.10 M772.80,313.9 V317.70 M784.00,313.9 V316.10 M795.20,313.9 V316.10 M582.40,24.4 V26.90 M593.60,24.4 V26.90 M604.80,24.4 V26.90 M616.00,24.4 V26.90 M627.20,24.4 V26.90 M638.40,24.4 V26.90 M649.60,24.4 V26.90 M660.80,24.4 V26.90 M672.00,24.4 V26.90 M683.20,24.4 V26.90 M694.40,24.4 V26.90 M705.60,24.4 V26.90 M716.80,24.4 V26.90 M728.00,24.4 V26.90 M739.20,24.4 V26.90 M750.40,24.4 V26.90 M761.60,24.4 V26.90 M772.80,24.4 V26.90 M784.00,24.4 V26.90" stroke="#1c1c1c" stroke-width="1.1"/>
<text x="593.80" y="330" font-size="12.3" text-anchor="middle">8</text>
<text x="638.60" y="330" font-size="12.3" text-anchor="middle">6</text>
<text x="683.40" y="330" font-size="12.3" text-anchor="middle">4</text>
<text x="728.20" y="330" font-size="12.3" text-anchor="middle">2</text>
<text x="773.00" y="330" font-size="12.3" text-anchor="middle">0</text>
<text x="642.80" y="346.90" font-size="15.3" textLength="82.21" lengthAdjust="spacing">Energy (eV)</text>
<text transform="translate(559.50,138.40) rotate(-90)" font-size="15.3" textLength="85.51" lengthAdjust="spacingAndGlyphs">Intensity [a.u.]</text>
<text transform="translate(561.60,275.20) rotate(-90)" font-size="15.3" textLength="69.42" lengthAdjust="spacingAndGlyphs">States [eV]</text>
<text x="540.00" y="16.60" font-size="16" textLength="12.87" lengthAdjust="spacing">c)</text>
<text x="574.40" y="41.90" font-size="14.8" textLength="50.59" lengthAdjust="spacing">VB NiO</text>
<text x="574.40" y="61.40" font-size="14.8" textLength="95.59" lengthAdjust="spacing">@ 0.5 mbar H</text>
<text x="672.00" y="67.20" font-size="8.3" textLength="5.21" lengthAdjust="spacing">2</text>
<text x="678.00" y="61.40" font-size="14.8" textLength="10.77" lengthAdjust="spacing">O</text>
<path d="M573.5,75.5 H602" stroke="#111" stroke-width="1.1"/>
<path d="M573.5,88.4 H602" stroke="#22ee22" stroke-width="1.3"/>
<path d="M573.5,100.5 H602" stroke="#ee1c3c" stroke-width="1.3"/>
<text x="606.90" y="78.90" font-size="10.2" textLength="49.20" lengthAdjust="spacing">NiO - 20°C</text>
<text x="606.90" y="92.00" font-size="10.2" textLength="54.62" lengthAdjust="spacing">NiO - 490°C</text>
<text x="606.90" y="104.50" font-size="10.2" textLength="49.20" lengthAdjust="spacing">NiO - 20°C</text>
<text x="580.50" y="184.90" font-size="14.8" textLength="98.40" lengthAdjust="spacing">DOS Bulk NiO</text>
<path d="M575.5,198.5 H605.5" stroke="#111" stroke-width="1.1"/>
<path d="M575.5,211.5 H605.5" stroke="#fff0e0" stroke-width="3"/><path d="M575.5,211.5 H605.5" stroke="#ff5a48" stroke-width="1"/>
<path d="M575.5,225.5 H605.5" stroke="#2020a8" stroke-width="1.1"/>
<text x="607.60" y="201.90" font-size="9.8">Ni</text>
<text x="616.80" y="206.10" font-size="6.5">32</text>
<text x="623.60" y="201.90" font-size="9.8">O</text>
<text x="632.50" y="206.10" font-size="6.5">32</text>
<text x="607.60" y="215.70" font-size="9.8">Ni</text>
<text x="616.80" y="219.90" font-size="6.5">32</text>
<text x="623.60" y="215.70" font-size="9.8">O</text>
<text x="632.50" y="219.90" font-size="6.5">31</text>
<text x="607.60" y="229.60" font-size="9.8">Ni</text>
<text x="616.80" y="233.80" font-size="6.5">32</text>
<text x="623.60" y="229.60" font-size="9.8">O</text>
<text x="632.50" y="233.80" font-size="6.5">30</text>
</svg></body></html>
